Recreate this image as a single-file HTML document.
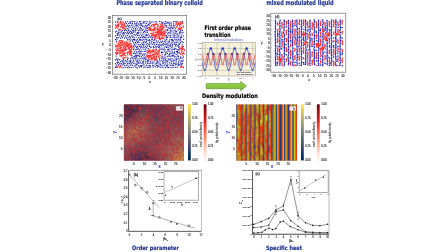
<!DOCTYPE html>
<html><head><meta charset="utf-8"><title>Binary colloid phase transition</title>
<style>
html,body{margin:0;padding:0;background:#fff;width:448px;height:252px;overflow:hidden}
svg{display:block}
text{font-family:"Liberation Sans",Arial,sans-serif}
.t{font-family:"DejaVu Sans Condensed","DejaVu Sans","Liberation Sans",sans-serif;font-stretch:condensed}
</style></head><body>
<svg width="448" height="252" viewBox="0 0 448 252">
<text x="116.4" y="4.6" class="t" font-size="6.7" font-weight="bold" fill="#24368f" stroke="#24368f" stroke-width="0.18" textLength="86.3" lengthAdjust="spacingAndGlyphs">Phase separated binary colloid</text>
<text x="266.5" y="4.6" class="t" font-size="6.7" font-weight="bold" fill="#24368f" stroke="#24368f" stroke-width="0.18" textLength="67.2" lengthAdjust="spacingAndGlyphs">mixed modulated liquid</text>
<text x="204.5" y="29.7" class="t" font-size="6.1" font-weight="bold" fill="#000" stroke="#000" stroke-width="0.18" textLength="46.5" lengthAdjust="spacingAndGlyphs">First order phase</text>
<text x="204.5" y="37.2" class="t" font-size="6.1" font-weight="bold" fill="#000" stroke="#000" stroke-width="0.18" textLength="26" lengthAdjust="spacingAndGlyphs">transition</text>
<text x="202.1" y="98.4" class="t" font-size="6.1" font-weight="bold" fill="#000" stroke="#000" stroke-width="0.18" textLength="55.7" lengthAdjust="spacingAndGlyphs">Density modulation</text>
<text x="132.1" y="250" class="t" font-size="6.0" font-weight="bold" fill="#24368f" stroke="#24368f" stroke-width="0.18" textLength="46.8" lengthAdjust="spacingAndGlyphs">Order parameter</text>
<text x="266" y="249.6" class="t" font-size="5.9" font-weight="bold" fill="#24368f" stroke="#24368f" stroke-width="0.18" textLength="36" lengthAdjust="spacingAndGlyphs">Specific heat</text>
<rect x="112.4" y="15.4" width="74.3" height="58.8" fill="#fff" stroke="#5a5a5a" stroke-width="0.6"/>
<text x="111" y="18.5" font-size="3.0" fill="#333" stroke="#333" stroke-width="0.12" text-anchor="end" >30</text>
<text x="111" y="23.13" font-size="3.0" fill="#333" stroke="#333" stroke-width="0.12" text-anchor="end" >25</text>
<text x="111" y="27.75" font-size="3.0" fill="#333" stroke="#333" stroke-width="0.12" text-anchor="end" >20</text>
<text x="111" y="32.38" font-size="3.0" fill="#333" stroke="#333" stroke-width="0.12" text-anchor="end" >15</text>
<text x="111" y="37" font-size="3.0" fill="#333" stroke="#333" stroke-width="0.12" text-anchor="end" >10</text>
<text x="111" y="41.62" font-size="3.0" fill="#333" stroke="#333" stroke-width="0.12" text-anchor="end" >5</text>
<text x="111" y="46.25" font-size="3.0" fill="#333" stroke="#333" stroke-width="0.12" text-anchor="end" >0</text>
<text x="111" y="50.88" font-size="3.0" fill="#333" stroke="#333" stroke-width="0.12" text-anchor="end" >−5</text>
<text x="111" y="55.5" font-size="3.0" fill="#333" stroke="#333" stroke-width="0.12" text-anchor="end" >−10</text>
<text x="111" y="60.12" font-size="3.0" fill="#333" stroke="#333" stroke-width="0.12" text-anchor="end" >−15</text>
<text x="111" y="64.75" font-size="3.0" fill="#333" stroke="#333" stroke-width="0.12" text-anchor="end" >−20</text>
<text x="111" y="69.38" font-size="3.0" fill="#333" stroke="#333" stroke-width="0.12" text-anchor="end" >−25</text>
<text x="111" y="74" font-size="3.0" fill="#333" stroke="#333" stroke-width="0.12" text-anchor="end" >−30</text>
<text x="114.89" y="78.9" font-size="3.0" fill="#333" stroke="#333" stroke-width="0.12" text-anchor="middle" >−30</text>
<text x="120.63" y="78.9" font-size="3.0" fill="#333" stroke="#333" stroke-width="0.12" text-anchor="middle" >−25</text>
<text x="126.36" y="78.9" font-size="3.0" fill="#333" stroke="#333" stroke-width="0.12" text-anchor="middle" >−20</text>
<text x="132.09" y="78.9" font-size="3.0" fill="#333" stroke="#333" stroke-width="0.12" text-anchor="middle" >−15</text>
<text x="137.83" y="78.9" font-size="3.0" fill="#333" stroke="#333" stroke-width="0.12" text-anchor="middle" >−10</text>
<text x="143.56" y="78.9" font-size="3.0" fill="#333" stroke="#333" stroke-width="0.12" text-anchor="middle" >−5</text>
<text x="149.3" y="78.9" font-size="3.0" fill="#333" stroke="#333" stroke-width="0.12" text-anchor="middle" >0</text>
<text x="155.04" y="78.9" font-size="3.0" fill="#333" stroke="#333" stroke-width="0.12" text-anchor="middle" >5</text>
<text x="160.77" y="78.9" font-size="3.0" fill="#333" stroke="#333" stroke-width="0.12" text-anchor="middle" >10</text>
<text x="166.51" y="78.9" font-size="3.0" fill="#333" stroke="#333" stroke-width="0.12" text-anchor="middle" >15</text>
<text x="172.24" y="78.9" font-size="3.0" fill="#333" stroke="#333" stroke-width="0.12" text-anchor="middle" >20</text>
<text x="177.98" y="78.9" font-size="3.0" fill="#333" stroke="#333" stroke-width="0.12" text-anchor="middle" >25</text>
<text x="183.71" y="78.9" font-size="3.0" fill="#333" stroke="#333" stroke-width="0.12" text-anchor="middle" >30</text>
<path d="M112.4 17.5h0.9M112.4 22.1h0.9M112.4 26.7h0.9M112.4 31.3h0.9M112.4 36.0h0.9M112.4 40.6h0.9M112.4 45.2h0.9M112.4 49.8h0.9M112.4 54.5h0.9M112.4 59.1h0.9M112.4 63.7h0.9M112.4 68.3h0.9M112.4 73.0h0.9M114.9 74.2v-0.9M120.6 74.2v-0.9M126.4 74.2v-0.9M132.1 74.2v-0.9M137.8 74.2v-0.9M143.6 74.2v-0.9M149.3 74.2v-0.9M155.0 74.2v-0.9M160.8 74.2v-0.9M166.5 74.2v-0.9M172.2 74.2v-0.9M178.0 74.2v-0.9M183.7 74.2v-0.9" stroke="#444" stroke-width="0.35"/>
<text x="149.8" y="83" font-size="3.4" fill="#333" stroke="#333" stroke-width="0.12" text-anchor="middle" >x</text>
<text x="102.9" y="45.2" font-size="3.4" fill="#333" stroke="#333" stroke-width="0.12" text-anchor="middle" >y</text>
<text x="117.4" y="19.6" font-size="3.4" fill="#333" stroke="#333" stroke-width="0.18" text-anchor="start" >(a)</text>
<path stroke="#1e22a8" stroke-width="1.40" stroke-linecap="round" fill="none" d="M115.6 22.0h0M117.5 21.6h0M125.6 22.0h0M127.5 21.6h0M129.5 22.1h0M131.0 21.8h0M132.8 21.5h0M134.8 21.8h0M137.0 22.0h0M139.4 21.8h0M140.6 21.7h0M143.3 21.9h0M144.8 21.8h0M147.0 21.7h0M149.6 21.7h0M151.2 22.2h0M153.0 21.9h0M155.2 21.9h0M156.8 21.9h0M159.6 21.4h0M161.4 21.9h0M162.9 22.5h0M165.3 21.5h0M167.1 22.1h0M169.0 22.1h0M171.0 22.1h0M173.5 21.7h0M175.1 21.8h0M177.0 21.5h0M182.5 21.7h0M126.4 23.6h0M128.6 23.6h0M130.4 23.3h0M132.4 23.5h0M134.8 23.8h0M136.4 23.8h0M138.3 24.0h0M140.3 23.8h0M141.9 23.7h0M143.8 23.0h0M146.2 23.4h0M148.3 24.3h0M150.0 23.5h0M162.2 23.4h0M164.4 23.7h0M166.1 23.5h0M168.0 23.0h0M169.7 23.8h0M171.4 23.9h0M173.5 23.9h0M115.6 25.1h0M127.3 25.3h0M129.3 25.4h0M131.3 25.3h0M133.0 25.1h0M135.9 25.2h0M137.1 25.5h0M139.8 24.9h0M141.3 25.2h0M142.8 25.6h0M145.3 25.4h0M147.1 25.5h0M149.1 25.3h0M165.2 25.2h0M166.7 25.7h0M169.3 25.3h0M171.2 25.6h0M173.3 25.7h0M174.9 25.8h0M126.2 26.7h0M128.4 26.8h0M130.0 27.3h0M132.4 27.2h0M134.1 26.9h0M136.1 26.9h0M138.4 26.9h0M140.5 27.2h0M142.9 26.7h0M144.6 27.1h0M146.3 26.7h0M148.1 27.4h0M166.1 27.1h0M168.1 27.4h0M170.2 27.2h0M171.7 27.3h0M173.8 27.5h0M115.7 28.1h0M125.5 29.3h0M127.3 28.8h0M128.9 29.3h0M131.7 29.1h0M133.6 28.9h0M135.5 28.8h0M137.3 28.9h0M139.8 29.0h0M141.3 28.7h0M143.1 29.4h0M145.5 28.9h0M147.2 28.5h0M167.2 29.5h0M169.0 28.8h0M170.7 29.0h0M172.6 28.5h0M175.4 28.6h0M116.6 31.1h0M118.9 30.3h0M122.6 30.6h0M124.6 30.7h0M126.4 30.6h0M128.5 30.6h0M130.6 31.2h0M132.6 30.6h0M133.9 30.7h0M135.8 30.2h0M138.6 30.8h0M140.3 30.1h0M142.2 30.4h0M144.5 31.3h0M146.4 30.4h0M147.9 30.6h0M167.6 30.4h0M170.1 30.7h0M171.9 30.9h0M174.1 30.2h0M175.7 30.9h0M178.1 30.0h0M180.4 30.8h0M182.3 30.5h0M115.5 32.0h0M118.3 32.3h0M120.0 32.2h0M121.6 31.9h0M123.4 32.6h0M125.1 32.7h0M127.6 32.0h0M129.3 32.2h0M131.4 32.2h0M133.2 32.3h0M135.1 32.0h0M137.4 32.6h0M138.9 32.4h0M141.1 32.1h0M143.6 32.2h0M145.7 32.1h0M147.4 32.3h0M166.8 32.1h0M168.7 32.5h0M170.8 32.1h0M173.2 32.1h0M175.1 32.1h0M176.6 31.8h0M179.5 32.3h0M181.0 32.3h0M183.0 32.4h0M117.2 33.8h0M118.1 33.8h0M120.1 34.3h0M122.8 33.8h0M124.1 34.0h0M126.9 33.3h0M128.6 33.8h0M130.8 33.8h0M132.3 33.6h0M134.1 34.5h0M136.6 34.0h0M138.1 33.5h0M140.2 34.1h0M142.3 34.1h0M144.0 34.1h0M146.3 34.5h0M148.8 34.1h0M167.7 33.9h0M170.0 33.5h0M172.1 34.1h0M174.0 34.0h0M175.9 33.8h0M177.9 33.9h0M180.0 33.7h0M182.0 34.1h0M115.6 35.7h0M117.7 35.3h0M119.7 35.9h0M121.6 36.0h0M123.3 35.8h0M125.7 36.0h0M127.5 35.4h0M129.6 36.2h0M131.7 35.9h0M133.0 36.1h0M135.4 35.1h0M137.5 35.4h0M139.0 35.6h0M141.7 35.7h0M143.4 36.4h0M145.8 35.8h0M147.2 35.5h0M149.1 36.0h0M151.4 35.9h0M166.6 35.7h0M168.9 35.6h0M170.4 35.7h0M173.3 36.0h0M174.8 35.8h0M177.2 35.0h0M178.9 36.0h0M181.1 36.3h0M183.3 35.9h0M116.7 37.8h0M118.4 37.6h0M120.8 38.2h0M122.5 37.6h0M124.6 38.0h0M126.5 38.0h0M128.2 37.5h0M130.4 37.8h0M132.7 37.1h0M134.1 37.7h0M136.2 37.1h0M138.7 37.7h0M140.5 37.4h0M142.6 37.5h0M144.6 37.3h0M146.0 37.6h0M148.1 37.8h0M150.3 37.3h0M152.3 37.5h0M166.2 37.3h0M167.6 37.2h0M170.2 37.4h0M172.0 37.6h0M174.2 37.5h0M176.1 37.3h0M177.9 37.3h0M180.3 37.6h0M181.7 37.5h0M115.5 39.5h0M117.1 39.0h0M127.8 39.5h0M129.7 39.2h0M132.0 39.8h0M133.6 39.5h0M134.8 39.5h0M137.3 39.5h0M139.6 39.2h0M140.8 39.4h0M143.1 39.2h0M145.1 39.2h0M146.6 39.7h0M149.3 39.7h0M151.8 39.3h0M152.7 39.1h0M154.8 39.2h0M164.9 39.1h0M166.6 39.3h0M169.6 39.9h0M171.4 39.5h0M172.8 39.8h0M175.0 39.3h0M176.9 39.4h0M178.8 39.3h0M180.6 39.2h0M183.6 39.3h0M116.5 41.2h0M130.2 40.9h0M132.6 41.2h0M134.8 40.6h0M136.6 41.0h0M138.2 41.2h0M140.1 40.4h0M142.2 40.6h0M144.1 41.2h0M146.4 41.5h0M148.2 40.6h0M150.0 40.8h0M151.9 41.2h0M154.0 40.5h0M156.4 41.0h0M158.3 41.1h0M160.3 41.1h0M162.5 41.2h0M164.2 41.2h0M165.7 41.0h0M168.0 41.1h0M169.6 41.6h0M172.1 40.7h0M173.5 41.0h0M176.0 40.9h0M178.0 40.9h0M180.1 40.8h0M181.9 41.4h0M133.7 43.0h0M135.4 42.5h0M137.6 42.6h0M139.0 42.6h0M141.8 42.9h0M143.7 42.7h0M145.6 42.6h0M147.2 43.6h0M149.5 42.7h0M151.2 42.9h0M153.6 42.7h0M154.7 42.7h0M157.2 42.8h0M159.6 42.9h0M161.4 42.5h0M163.4 43.4h0M165.3 42.9h0M167.1 43.3h0M168.8 42.8h0M171.2 43.0h0M172.9 42.9h0M174.9 42.8h0M176.9 42.5h0M179.0 43.1h0M180.6 42.7h0M183.1 42.5h0M134.4 44.7h0M136.2 43.9h0M138.6 44.8h0M140.4 44.6h0M142.6 44.4h0M144.1 44.5h0M146.6 44.1h0M148.6 44.4h0M149.9 44.9h0M152.2 44.2h0M154.1 44.8h0M156.5 44.4h0M158.3 44.8h0M160.0 44.7h0M162.1 44.4h0M164.0 44.6h0M166.1 44.4h0M167.9 44.9h0M170.1 44.8h0M172.4 44.7h0M174.7 44.3h0M176.2 44.5h0M178.5 45.1h0M179.4 44.3h0M182.1 44.8h0M133.7 46.3h0M135.7 46.3h0M137.4 46.5h0M139.7 46.2h0M141.3 46.2h0M143.3 46.0h0M145.6 46.2h0M147.4 46.0h0M149.4 46.4h0M151.1 46.9h0M153.3 46.8h0M155.5 46.1h0M157.1 46.4h0M159.2 46.3h0M161.1 45.8h0M163.1 45.6h0M165.2 46.1h0M166.9 46.2h0M169.1 45.9h0M170.5 46.0h0M172.4 46.0h0M175.5 46.0h0M177.2 45.9h0M179.0 46.2h0M183.4 46.4h0M134.1 47.9h0M136.7 47.8h0M138.2 48.3h0M140.6 47.9h0M142.0 47.6h0M144.1 47.4h0M146.5 47.8h0M148.4 48.6h0M150.6 47.7h0M154.0 47.8h0M156.2 47.6h0M158.6 47.3h0M159.8 48.0h0M162.1 48.1h0M164.2 48.0h0M166.4 47.4h0M168.1 47.8h0M170.1 48.1h0M171.8 47.8h0M174.2 48.1h0M175.8 48.6h0M178.7 47.6h0M133.6 49.5h0M135.8 49.8h0M137.2 49.6h0M139.2 49.8h0M141.1 50.1h0M143.1 49.1h0M145.1 49.2h0M147.3 50.1h0M159.3 50.0h0M161.0 49.5h0M163.1 49.5h0M165.1 49.8h0M167.8 49.5h0M169.0 49.7h0M171.2 50.1h0M172.9 49.5h0M174.5 49.5h0M177.1 49.8h0M178.7 49.7h0M134.3 51.8h0M136.7 51.9h0M138.8 51.5h0M140.3 51.8h0M141.9 51.6h0M144.2 51.4h0M145.8 51.3h0M161.8 51.9h0M164.2 51.1h0M166.3 51.9h0M168.0 51.3h0M169.9 51.6h0M172.2 51.9h0M174.4 51.9h0M176.4 51.7h0M177.5 51.5h0M133.5 53.4h0M135.2 53.5h0M137.2 53.0h0M139.4 53.5h0M141.1 53.4h0M143.3 54.1h0M145.1 53.7h0M161.2 52.8h0M162.8 52.8h0M165.6 53.0h0M167.4 53.4h0M169.6 53.6h0M171.0 53.2h0M173.0 53.3h0M174.8 53.3h0M177.5 52.8h0M179.0 53.0h0M131.9 55.3h0M135.2 55.2h0M136.8 55.2h0M138.1 55.4h0M140.0 54.9h0M142.4 55.3h0M144.4 55.1h0M162.1 54.9h0M164.6 54.9h0M165.7 54.6h0M168.2 55.1h0M169.6 54.7h0M172.2 55.2h0M173.8 55.2h0M176.2 54.5h0M177.9 55.1h0M116.1 56.1h0M131.9 57.2h0M133.9 56.7h0M135.0 56.7h0M136.7 56.2h0M139.4 56.5h0M141.3 56.7h0M143.9 57.1h0M145.3 57.1h0M161.8 56.9h0M162.9 57.0h0M165.0 57.0h0M167.2 56.8h0M169.2 56.6h0M170.9 56.2h0M172.9 56.3h0M175.0 56.5h0M177.0 56.9h0M178.5 56.5h0M180.7 57.0h0M183.4 57.0h0M116.5 58.9h0M118.1 58.9h0M123.3 59.0h0M128.0 58.3h0M130.6 58.6h0M132.8 58.5h0M135.1 58.3h0M136.5 57.9h0M138.0 58.9h0M140.1 58.6h0M142.3 58.2h0M144.2 58.3h0M146.1 58.7h0M159.8 58.4h0M162.0 58.7h0M164.0 58.4h0M165.7 59.0h0M168.2 59.0h0M170.3 58.9h0M172.0 58.7h0M174.8 58.1h0M176.3 59.0h0M178.1 58.7h0M180.3 58.3h0M182.1 58.2h0M115.4 60.0h0M117.5 60.3h0M119.7 59.8h0M122.1 60.6h0M123.7 60.1h0M125.5 60.4h0M127.6 59.7h0M129.7 61.1h0M130.9 60.5h0M133.5 60.2h0M135.8 59.9h0M137.4 60.7h0M139.3 60.1h0M141.4 60.1h0M143.8 60.0h0M145.6 59.8h0M147.5 60.2h0M148.5 60.2h0M157.2 60.7h0M159.3 60.0h0M161.1 60.6h0M163.4 60.2h0M165.1 60.2h0M166.9 60.8h0M169.1 59.9h0M170.9 60.5h0M173.2 60.2h0M174.8 60.2h0M176.5 59.8h0M179.2 60.1h0M181.1 60.6h0M183.1 60.2h0M117.2 62.2h0M118.5 62.2h0M120.7 61.7h0M122.6 61.9h0M123.9 61.9h0M126.4 61.8h0M128.0 61.9h0M130.4 62.0h0M132.1 62.2h0M134.0 61.9h0M136.8 61.8h0M138.2 62.3h0M140.2 61.9h0M142.4 62.3h0M143.6 61.7h0M146.0 61.6h0M148.0 61.7h0M150.3 61.7h0M152.3 62.1h0M154.0 62.0h0M156.7 62.1h0M158.0 62.0h0M159.9 62.1h0M162.4 61.7h0M164.0 62.3h0M165.9 62.0h0M167.8 61.7h0M169.9 62.6h0M171.9 61.8h0M173.8 61.9h0M176.2 62.0h0M178.6 62.0h0M180.4 62.1h0M182.1 61.5h0M115.6 63.7h0M117.5 63.1h0M119.8 63.6h0M121.4 63.6h0M123.5 63.8h0M125.1 63.4h0M127.6 63.8h0M129.3 63.5h0M131.2 63.7h0M133.8 63.4h0M135.9 64.0h0M137.2 64.0h0M138.9 63.2h0M141.0 63.6h0M143.2 63.6h0M145.3 63.1h0M147.4 63.3h0M149.1 63.6h0M150.9 63.3h0M152.9 63.7h0M155.4 63.9h0M156.9 63.5h0M158.9 63.9h0M160.5 64.1h0M163.0 63.5h0M165.2 64.0h0M167.2 64.0h0M169.1 64.1h0M171.4 63.7h0M173.5 63.8h0M175.0 63.4h0M176.9 64.0h0M178.6 63.9h0M181.0 63.8h0M182.3 63.7h0M116.8 65.2h0M118.6 64.7h0M120.8 65.3h0M122.8 64.9h0M124.7 65.4h0M126.7 65.2h0M128.3 66.1h0M130.2 65.2h0M132.3 65.2h0M134.8 66.0h0M136.2 64.9h0M138.7 65.8h0M140.6 65.8h0M142.1 65.4h0M143.9 65.0h0M146.6 65.3h0M149.0 65.5h0M150.1 65.7h0M152.8 65.6h0M153.8 65.6h0M156.6 65.3h0M157.9 65.8h0M160.2 65.1h0M162.0 65.2h0M164.2 65.5h0M166.4 65.7h0M167.6 65.6h0M170.3 65.6h0M172.3 65.3h0M173.7 65.7h0M175.7 64.8h0M178.3 65.2h0M179.9 65.0h0M181.5 65.1h0M115.5 67.3h0M116.9 67.4h0M123.1 67.8h0M125.2 67.3h0M127.5 67.6h0M129.3 67.5h0M131.2 67.5h0M133.2 67.1h0M136.0 67.3h0M137.4 67.9h0M139.5 67.0h0M141.6 66.8h0M143.7 67.6h0M145.1 67.0h0M147.3 67.2h0M149.0 67.4h0M150.6 67.1h0M153.1 67.1h0M155.3 66.8h0M157.4 67.1h0M159.0 66.8h0M160.8 67.3h0M162.8 67.2h0M165.4 67.5h0M167.5 67.1h0M168.7 67.5h0M171.1 67.5h0M173.0 67.6h0M175.3 67.4h0M177.1 67.3h0M183.4 67.2h0"/>
<path stroke="#f83c3c" stroke-width="1.40" stroke-linecap="round" fill="none" d="M118.0 22.8h0M125.0 28.1h0M120.8 22.5h0M118.0 22.5h0M118.1 28.1h0M117.5 24.7h0M123.2 22.0h0M124.7 24.0h0M121.2 24.7h0M121.0 22.7h0M118.4 26.3h0M125.3 26.7h0M118.4 26.0h0M120.4 29.9h0M121.2 29.9h0M118.5 25.0h0M123.9 23.3h0M121.0 30.0h0M118.2 22.9h0M121.5 23.0h0M116.4 26.4h0M124.3 28.9h0M121.2 24.0h0M118.7 24.5h0M123.1 28.3h0M120.8 21.9h0M120.9 27.5h0M124.7 23.7h0M116.4 25.8h0M118.2 26.7h0M118.9 25.8h0M122.2 27.6h0M123.8 26.9h0M119.9 22.9h0M124.9 25.2h0M117.9 22.6h0M116.6 27.3h0M120.1 29.7h0M124.5 25.4h0M117.2 25.7h0M119.3 29.5h0M125.4 26.3h0M122.1 27.8h0M123.3 25.0h0M120.8 26.5h0M119.9 22.5h0M117.8 28.4h0M122.4 24.1h0M122.6 26.4h0M118.6 25.9h0M120.4 21.5h0M117.4 25.4h0M118.1 23.1h0M123.4 27.2h0M121.4 23.8h0M122.1 22.4h0M121.8 25.2h0M123.7 24.6h0M117.4 24.8h0M117.9 22.9h0M123.2 28.9h0M153.1 33.8h0M158.8 31.1h0M156.7 34.4h0M162.6 33.8h0M158.2 29.8h0M152.4 29.6h0M158.2 32.7h0M158.5 25.7h0M158.1 28.7h0M149.2 27.4h0M157.7 33.7h0M155.6 32.3h0M165.1 29.9h0M153.4 24.7h0M158.3 30.2h0M153.8 24.8h0M160.3 27.0h0M153.7 31.1h0M155.4 28.0h0M158.3 31.6h0M149.7 29.8h0M156.5 24.5h0M159.4 34.7h0M162.6 33.5h0M153.0 30.9h0M159.5 31.2h0M156.8 24.5h0M153.2 32.4h0M153.3 29.4h0M163.2 27.8h0M158.7 29.1h0M152.3 35.2h0M160.5 24.8h0M155.5 35.0h0M162.1 26.2h0M154.4 30.1h0M157.9 29.0h0M164.5 31.5h0M154.5 24.5h0M154.2 29.4h0M153.5 34.5h0M163.2 29.1h0M150.3 29.7h0M158.8 31.0h0M156.8 23.7h0M150.3 27.0h0M150.8 28.8h0M153.6 34.8h0M151.2 30.7h0M158.7 35.0h0M158.4 30.4h0M159.5 27.6h0M157.2 24.2h0M161.8 32.4h0M161.0 26.4h0M153.1 26.3h0M160.3 33.1h0M150.4 30.3h0M156.9 33.7h0M154.2 34.8h0M156.8 34.8h0M151.9 33.9h0M162.5 27.8h0M156.6 24.2h0M159.9 26.6h0M162.5 29.5h0M152.8 24.5h0M149.7 28.2h0M162.4 33.8h0M159.9 23.6h0M157.4 32.3h0M157.7 24.8h0M160.4 29.2h0M162.3 29.7h0M149.8 30.3h0M161.5 32.1h0M155.4 28.4h0M163.5 26.6h0M162.0 28.3h0M161.6 28.5h0M161.8 35.0h0M154.9 23.9h0M161.1 25.1h0M150.9 29.6h0M160.7 26.8h0M161.6 35.1h0M156.0 35.5h0M158.4 32.5h0M156.0 34.7h0M160.6 31.7h0M157.9 26.1h0M155.9 29.9h0M163.6 31.4h0M161.1 27.8h0M162.3 24.5h0M157.5 27.1h0M160.0 33.7h0M162.5 27.7h0M150.9 33.7h0M159.0 28.8h0M148.7 29.3h0M153.3 28.9h0M150.1 30.4h0M157.3 33.7h0M161.7 30.9h0M161.4 28.8h0M157.1 29.2h0M150.9 33.1h0M158.4 34.8h0M155.4 24.6h0M149.8 30.1h0M162.9 25.0h0M154.5 25.3h0M161.4 28.6h0M162.7 26.5h0M161.8 29.4h0M154.5 29.4h0M158.3 31.8h0M164.1 32.1h0M159.1 33.6h0M164.1 32.8h0M160.3 26.8h0M155.1 24.6h0M165.7 30.8h0M157.0 24.4h0M155.5 24.2h0M159.2 30.7h0M151.4 26.1h0M161.6 30.0h0M162.5 32.4h0M153.2 34.6h0M163.6 33.2h0M162.1 32.5h0M150.1 27.7h0M161.3 29.1h0M153.5 34.5h0M151.4 34.0h0M154.8 35.9h0M165.1 32.3h0M155.3 35.3h0M153.5 26.6h0M157.5 31.2h0M157.0 27.7h0M153.2 29.8h0M157.6 33.6h0M148.9 29.5h0M155.2 24.7h0M156.6 35.8h0M154.8 30.2h0M160.7 30.1h0M151.4 25.3h0M160.8 33.0h0M149.9 28.6h0M160.8 29.5h0M164.7 27.0h0M149.5 28.6h0M154.5 26.9h0M154.7 28.1h0M159.4 29.9h0M156.5 38.6h0M160.5 31.9h0M155.1 32.8h0M156.3 32.1h0M164.5 32.9h0M159.4 36.4h0M159.4 38.2h0M161.4 34.2h0M159.9 36.1h0M160.4 39.3h0M162.7 35.0h0M154.1 36.7h0M159.2 37.1h0M161.1 31.3h0M159.0 34.4h0M158.8 32.8h0M161.9 37.2h0M159.2 36.1h0M164.2 32.9h0M159.4 31.9h0M157.8 37.0h0M165.6 35.1h0M160.2 32.6h0M165.8 35.4h0M157.5 33.5h0M155.5 36.1h0M158.7 38.4h0M159.6 34.9h0M162.4 32.4h0M159.7 37.2h0M164.1 34.2h0M160.9 38.4h0M164.3 34.6h0M164.4 33.1h0M159.2 38.3h0M160.9 31.5h0M154.8 38.1h0M159.7 37.8h0M164.8 33.5h0M162.3 33.6h0M155.7 36.4h0M160.4 38.8h0M159.1 37.8h0M156.2 35.3h0M159.9 34.1h0M156.9 36.1h0M162.9 38.2h0M155.7 34.4h0M163.3 33.5h0M163.7 38.2h0M153.9 34.3h0M162.4 38.6h0M158.1 32.6h0M161.5 31.8h0M161.0 33.7h0M157.1 32.6h0M154.5 37.8h0M164.1 32.6h0M155.2 38.2h0M161.7 38.3h0M163.9 33.1h0M159.4 33.7h0M164.8 36.3h0M153.3 36.1h0M162.8 35.9h0M156.5 38.8h0M161.1 38.5h0M155.5 37.6h0M156.6 32.1h0M159.5 39.2h0M160.7 34.7h0M155.6 32.2h0M157.8 31.4h0M155.1 37.2h0M155.6 35.7h0M156.7 36.4h0M164.0 36.1h0M158.6 38.2h0M161.5 32.3h0M156.9 32.5h0M179.5 28.7h0M181.1 23.6h0M181.4 29.1h0M180.0 25.5h0M176.5 23.3h0M176.4 23.6h0M179.8 29.4h0M178.2 23.3h0M179.2 23.8h0M179.1 23.6h0M176.2 27.2h0M176.7 22.7h0M183.3 26.0h0M179.3 24.3h0M176.7 22.8h0M183.4 27.0h0M182.5 23.0h0M176.5 27.0h0M179.7 29.0h0M178.4 22.5h0M179.4 28.5h0M179.7 25.8h0M180.5 29.2h0M179.6 26.7h0M176.9 24.1h0M182.1 22.6h0M182.8 23.0h0M181.4 27.7h0M180.2 29.5h0M179.3 28.7h0M180.8 29.0h0M180.1 28.1h0M176.7 23.1h0M178.3 28.5h0M180.7 24.3h0M179.2 22.1h0M175.6 24.1h0M178.2 24.5h0M177.3 25.4h0M176.9 24.5h0M181.1 22.0h0M180.7 23.2h0M180.2 21.9h0M182.2 23.8h0M182.0 27.3h0M178.4 23.9h0M177.3 26.7h0M180.6 28.0h0M126.3 49.7h0M120.2 55.7h0M129.2 46.3h0M126.3 41.9h0M131.2 46.4h0M121.8 50.4h0M127.1 57.2h0M125.4 47.4h0M117.8 48.5h0M125.3 57.7h0M116.5 54.4h0M124.1 53.5h0M117.2 50.2h0M131.7 51.6h0M124.7 50.4h0M125.0 41.6h0M118.8 44.5h0M130.8 49.7h0M128.1 48.7h0M128.5 47.0h0M124.7 55.3h0M123.7 49.3h0M118.8 50.8h0M117.8 46.9h0M129.7 50.1h0M128.2 47.7h0M123.4 47.3h0M121.9 42.5h0M120.0 52.7h0M129.1 45.2h0M128.1 51.6h0M124.9 47.6h0M127.3 52.4h0M127.5 42.8h0M127.7 54.7h0M123.0 54.8h0M124.7 48.5h0M127.7 53.6h0M132.1 48.0h0M123.4 57.3h0M119.7 48.2h0M128.6 43.8h0M131.2 43.9h0M119.0 46.0h0M120.4 48.4h0M125.5 50.4h0M122.6 51.9h0M122.2 43.8h0M125.5 50.5h0M120.2 42.1h0M122.2 41.0h0M116.6 46.3h0M130.4 52.8h0M123.4 44.5h0M119.7 48.0h0M119.4 50.8h0M119.2 41.5h0M122.7 55.0h0M119.1 41.8h0M127.7 44.2h0M131.1 47.8h0M129.6 44.3h0M121.9 42.0h0M130.6 53.4h0M118.7 44.8h0M124.1 46.6h0M130.7 45.7h0M118.2 49.9h0M116.2 53.5h0M116.3 52.9h0M122.7 54.2h0M119.8 50.6h0M125.3 45.5h0M131.0 54.1h0M125.7 48.9h0M131.5 52.9h0M121.1 56.1h0M123.7 53.0h0M131.1 49.7h0M115.9 45.2h0M124.7 53.2h0M118.5 43.3h0M121.0 53.4h0M128.8 45.4h0M127.2 43.0h0M116.9 45.9h0M120.9 42.8h0M122.6 42.3h0M121.9 52.4h0M116.9 54.2h0M131.3 45.5h0M129.2 53.1h0M119.6 41.7h0M126.8 45.0h0M129.5 51.1h0M123.9 51.2h0M126.4 42.1h0M126.4 49.2h0M117.6 52.8h0M126.2 43.2h0M132.1 47.0h0M131.6 49.0h0M120.6 46.9h0M131.4 53.3h0M118.4 52.9h0M122.9 54.8h0M123.9 53.7h0M120.8 47.8h0M122.2 42.7h0M130.6 46.6h0M127.5 45.1h0M120.6 43.9h0M117.1 53.9h0M119.5 44.2h0M120.6 48.2h0M124.0 51.7h0M130.7 47.5h0M123.0 58.2h0M120.1 48.4h0M119.2 53.1h0M121.6 40.8h0M118.7 43.9h0M120.5 42.4h0M131.9 45.8h0M129.3 41.6h0M120.8 49.7h0M121.4 56.8h0M130.3 51.3h0M120.3 51.3h0M121.5 49.9h0M126.4 45.4h0M119.8 52.4h0M116.0 45.7h0M124.0 50.9h0M125.8 55.8h0M120.4 45.5h0M122.8 55.4h0M119.1 43.6h0M123.3 50.6h0M127.3 45.2h0M122.4 50.5h0M122.2 44.9h0M131.3 51.8h0M120.8 40.6h0M127.3 46.6h0M124.8 43.9h0M121.2 49.5h0M128.8 44.8h0M115.6 46.3h0M121.7 49.7h0M129.2 48.6h0M117.4 53.2h0M124.2 43.2h0M124.8 46.1h0M116.8 51.8h0M117.5 53.5h0M120.6 50.6h0M125.4 49.9h0M126.3 43.3h0M119.5 48.8h0M127.8 40.6h0M119.7 40.8h0M117.5 45.3h0M116.7 50.4h0M124.0 54.4h0M122.0 50.6h0M116.0 46.1h0M125.0 45.3h0M125.3 48.0h0M116.7 46.2h0M126.3 43.4h0M124.3 48.9h0M121.7 55.3h0M118.0 47.4h0M125.5 48.6h0M129.7 53.3h0M115.9 47.1h0M123.0 41.0h0M130.3 55.1h0M120.7 51.8h0M127.9 45.3h0M129.6 51.6h0M115.9 48.9h0M131.5 51.2h0M130.2 43.3h0M122.8 48.9h0M120.5 48.2h0M125.7 47.0h0M121.7 45.3h0M120.4 55.7h0M127.2 46.6h0M123.6 50.7h0M119.1 46.1h0M127.8 52.5h0M122.5 41.8h0M116.0 49.3h0M128.6 49.1h0M119.0 43.8h0M129.4 47.2h0M125.2 44.9h0M129.8 44.1h0M124.3 57.8h0M116.4 54.0h0M130.8 46.5h0M117.5 45.2h0M121.6 47.4h0M120.2 51.8h0M129.1 47.8h0M122.5 41.4h0M122.3 52.5h0M129.8 54.8h0M115.6 52.8h0M117.9 48.3h0M117.6 50.0h0M121.8 43.0h0M126.0 53.1h0M128.7 52.1h0M117.5 49.0h0M129.8 54.1h0M124.7 43.0h0M126.3 44.1h0M131.0 50.9h0M124.2 43.0h0M120.5 42.8h0M119.5 40.5h0M127.4 43.1h0M129.6 49.2h0M119.7 46.0h0M116.7 43.1h0M128.4 48.6h0M124.4 54.7h0M119.8 54.6h0M122.9 45.7h0M131.1 47.4h0M126.4 46.9h0M123.4 57.2h0M119.3 44.1h0M156.6 56.7h0M156.8 59.4h0M148.9 56.2h0M147.2 52.5h0M158.1 54.0h0M152.9 51.0h0M153.7 51.7h0M156.4 49.9h0M154.4 58.8h0M158.3 52.0h0M157.4 55.0h0M156.3 53.5h0M154.0 54.8h0M155.2 53.4h0M151.9 51.1h0M148.0 56.7h0M147.6 55.9h0M151.7 58.8h0M153.2 54.5h0M152.9 57.7h0M149.2 59.0h0M151.9 53.2h0M158.4 56.2h0M150.3 52.3h0M157.2 54.3h0M147.2 54.5h0M160.1 55.9h0M156.4 53.1h0M155.9 58.4h0M152.8 50.0h0M158.8 55.9h0M152.4 55.2h0M154.3 55.0h0M148.2 56.4h0M155.0 53.4h0M156.7 52.1h0M149.5 51.3h0M151.3 51.1h0M153.3 57.6h0M155.4 60.1h0M153.4 50.8h0M150.8 57.2h0M155.3 60.2h0M156.1 52.6h0M151.7 57.4h0M150.6 59.8h0M156.6 49.1h0M154.5 60.1h0M153.6 51.8h0M154.5 60.1h0M153.6 57.4h0M151.2 55.7h0M150.0 51.5h0M154.1 55.9h0M153.2 56.7h0M156.3 53.6h0M156.3 57.5h0M159.2 53.8h0M149.7 50.2h0M149.9 56.7h0M154.9 51.5h0M147.2 55.0h0M149.7 50.0h0M152.8 59.6h0M154.0 57.6h0M155.6 49.1h0M156.5 49.4h0M147.6 56.7h0M156.6 59.2h0M159.0 55.9h0M158.6 50.5h0M153.8 52.1h0M159.7 56.0h0M148.8 56.8h0M157.7 51.5h0M155.0 59.6h0M148.6 52.9h0M154.0 55.1h0M155.4 57.9h0M152.0 51.9h0M146.8 56.2h0M153.9 49.7h0M150.3 50.4h0M153.7 54.4h0M154.7 56.8h0M149.2 52.3h0M151.9 59.7h0M148.7 50.3h0M147.0 55.4h0M155.4 54.7h0M148.4 56.8h0M151.3 58.2h0M150.5 55.0h0M156.3 52.7h0M156.4 54.1h0M148.6 58.4h0M148.0 52.0h0M155.3 50.7h0M155.4 59.9h0M160.1 55.8h0M153.0 54.6h0M150.1 56.2h0M148.7 55.4h0M159.4 51.7h0M152.5 58.1h0M155.3 59.3h0M152.6 50.8h0M153.6 54.1h0M148.9 58.0h0M150.1 53.8h0M155.2 51.6h0M151.6 59.0h0M148.5 51.2h0M151.3 55.7h0M158.2 53.1h0M149.7 55.7h0M147.2 57.3h0M158.8 57.8h0M155.3 58.1h0M147.2 52.7h0M156.3 56.2h0M183.5 52.7h0M181.7 47.8h0M182.8 53.3h0M182.8 53.4h0M184.1 53.5h0M180.8 54.5h0M182.3 47.0h0M182.0 49.3h0M179.5 49.1h0M181.0 54.4h0M182.0 49.0h0M182.7 55.1h0M181.4 52.3h0M180.5 53.8h0M182.7 46.5h0M179.8 48.4h0M184.3 49.8h0M181.5 50.6h0M182.3 49.0h0M181.9 48.7h0M181.1 48.8h0M183.9 48.9h0M179.6 52.7h0M183.0 54.6h0M181.8 49.6h0M181.9 46.5h0M180.6 48.5h0M179.8 49.3h0M183.0 48.7h0M183.4 49.4h0M182.7 47.0h0M184.5 50.6h0M179.2 51.0h0M181.8 48.1h0M180.1 47.6h0M182.4 51.2h0M120.2 66.0h0M117.2 67.2h0M117.0 66.5h0M120.7 66.6h0M117.0 66.6h0M121.0 67.4h0M119.2 67.4h0M118.9 66.0h0M120.9 66.5h0M182.5 66.9h0M180.3 67.0h0M181.7 66.6h0M181.1 67.3h0"/>
<rect x="270.8" y="13.2" width="75" height="59" fill="#fff" stroke="#5a5a5a" stroke-width="0.6"/>
<text x="269.6" y="17.46" font-size="3.0" fill="#333" stroke="#333" stroke-width="0.12" text-anchor="end" >30</text>
<text x="269.6" y="21.95" font-size="3.0" fill="#333" stroke="#333" stroke-width="0.12" text-anchor="end" >25</text>
<text x="269.6" y="26.44" font-size="3.0" fill="#333" stroke="#333" stroke-width="0.12" text-anchor="end" >20</text>
<text x="269.6" y="30.93" font-size="3.0" fill="#333" stroke="#333" stroke-width="0.12" text-anchor="end" >15</text>
<text x="269.6" y="35.42" font-size="3.0" fill="#333" stroke="#333" stroke-width="0.12" text-anchor="end" >10</text>
<text x="269.6" y="39.91" font-size="3.0" fill="#333" stroke="#333" stroke-width="0.12" text-anchor="end" >5</text>
<text x="269.6" y="44.4" font-size="3.0" fill="#333" stroke="#333" stroke-width="0.12" text-anchor="end" >0</text>
<text x="269.6" y="48.89" font-size="3.0" fill="#333" stroke="#333" stroke-width="0.12" text-anchor="end" >−5</text>
<text x="269.6" y="53.38" font-size="3.0" fill="#333" stroke="#333" stroke-width="0.12" text-anchor="end" >−10</text>
<text x="269.6" y="57.87" font-size="3.0" fill="#333" stroke="#333" stroke-width="0.12" text-anchor="end" >−15</text>
<text x="269.6" y="62.36" font-size="3.0" fill="#333" stroke="#333" stroke-width="0.12" text-anchor="end" >−20</text>
<text x="269.6" y="66.85" font-size="3.0" fill="#333" stroke="#333" stroke-width="0.12" text-anchor="end" >−25</text>
<text x="269.6" y="71.34" font-size="3.0" fill="#333" stroke="#333" stroke-width="0.12" text-anchor="end" >−30</text>
<text x="273.39" y="76.9" font-size="3.0" fill="#333" stroke="#333" stroke-width="0.12" text-anchor="middle" >−30</text>
<text x="279.18" y="76.9" font-size="3.0" fill="#333" stroke="#333" stroke-width="0.12" text-anchor="middle" >−25</text>
<text x="284.96" y="76.9" font-size="3.0" fill="#333" stroke="#333" stroke-width="0.12" text-anchor="middle" >−20</text>
<text x="290.75" y="76.9" font-size="3.0" fill="#333" stroke="#333" stroke-width="0.12" text-anchor="middle" >−15</text>
<text x="296.53" y="76.9" font-size="3.0" fill="#333" stroke="#333" stroke-width="0.12" text-anchor="middle" >−10</text>
<text x="302.31" y="76.9" font-size="3.0" fill="#333" stroke="#333" stroke-width="0.12" text-anchor="middle" >−5</text>
<text x="308.1" y="76.9" font-size="3.0" fill="#333" stroke="#333" stroke-width="0.12" text-anchor="middle" >0</text>
<text x="313.89" y="76.9" font-size="3.0" fill="#333" stroke="#333" stroke-width="0.12" text-anchor="middle" >5</text>
<text x="319.67" y="76.9" font-size="3.0" fill="#333" stroke="#333" stroke-width="0.12" text-anchor="middle" >10</text>
<text x="325.46" y="76.9" font-size="3.0" fill="#333" stroke="#333" stroke-width="0.12" text-anchor="middle" >15</text>
<text x="331.24" y="76.9" font-size="3.0" fill="#333" stroke="#333" stroke-width="0.12" text-anchor="middle" >20</text>
<text x="337.03" y="76.9" font-size="3.0" fill="#333" stroke="#333" stroke-width="0.12" text-anchor="middle" >25</text>
<text x="342.81" y="76.9" font-size="3.0" fill="#333" stroke="#333" stroke-width="0.12" text-anchor="middle" >30</text>
<path d="M270.8 16.4h0.9M270.8 20.9h0.9M270.8 25.4h0.9M270.8 29.9h0.9M270.8 34.4h0.9M270.8 38.9h0.9M270.8 43.4h0.9M270.8 47.8h0.9M270.8 52.3h0.9M270.8 56.8h0.9M270.8 61.3h0.9M270.8 65.8h0.9M270.8 70.3h0.9M273.4 72.2v-0.9M279.2 72.2v-0.9M285.0 72.2v-0.9M290.7 72.2v-0.9M296.5 72.2v-0.9M302.3 72.2v-0.9M308.1 72.2v-0.9M313.9 72.2v-0.9M319.7 72.2v-0.9M325.5 72.2v-0.9M331.2 72.2v-0.9M337.0 72.2v-0.9M342.8 72.2v-0.9" stroke="#444" stroke-width="0.35"/>
<text x="309" y="80.6" font-size="3.4" fill="#333" stroke="#333" stroke-width="0.12" text-anchor="middle" >x</text>
<text x="261.8" y="44" font-size="3.4" fill="#333" stroke="#333" stroke-width="0.12" text-anchor="middle" >y</text>
<text x="275.1" y="18" font-size="3.6" fill="#333" stroke="#333" stroke-width="0.2" text-anchor="start" >(d)</text>
<path stroke="#2428bc" stroke-width="1.60" stroke-linecap="round" fill="none" d="M275.4 20.2h0M275.5 21.8h0M275.6 23.4h0M275.6 25.0h0M275.4 26.7h0M275.6 28.3h0M275.6 29.8h0M275.2 31.5h0M275.3 33.0h0M275.2 34.7h0M275.3 36.1h0M275.4 37.8h0M275.5 39.4h0M275.5 40.8h0M275.6 42.4h0M275.5 44.0h0M275.5 45.6h0M275.9 47.1h0M275.6 48.7h0M275.5 50.2h0M275.4 51.9h0M275.6 53.4h0M276.0 54.9h0M275.7 56.2h0M275.4 57.9h0M275.7 59.4h0M275.4 61.0h0M275.8 62.5h0M275.5 64.1h0M275.9 65.5h0M277.7 33.4h0M277.7 34.9h0M277.8 36.4h0M277.9 46.0h0M277.5 53.0h0M277.8 54.5h0M277.6 62.2h0M277.3 63.7h0M280.1 20.4h0M279.8 22.0h0M279.8 23.6h0M280.0 25.2h0M279.9 26.7h0M279.8 28.2h0M280.2 29.8h0M279.8 31.4h0M279.9 32.7h0M279.5 34.2h0M280.0 35.8h0M279.8 37.3h0M280.0 38.8h0M279.8 40.2h0M279.9 41.9h0M279.9 43.5h0M279.9 45.0h0M279.7 46.5h0M280.1 48.1h0M279.6 49.8h0M279.6 51.2h0M280.0 52.9h0M279.7 54.5h0M279.9 55.9h0M279.7 57.5h0M279.9 63.6h0M279.8 65.1h0M282.0 39.6h0M282.1 41.1h0M281.6 48.9h0M282.0 59.7h0M284.2 20.2h0M284.3 21.6h0M284.1 23.1h0M284.1 24.6h0M284.2 26.1h0M284.2 27.5h0M284.0 29.0h0M284.0 30.5h0M283.7 32.2h0M283.9 33.7h0M284.4 35.2h0M284.2 36.7h0M284.5 38.2h0M284.4 39.8h0M284.0 41.3h0M284.2 42.9h0M284.3 44.4h0M284.3 45.9h0M284.3 47.4h0M284.3 48.9h0M284.4 50.4h0M284.4 52.1h0M284.3 53.6h0M284.4 55.0h0M284.2 56.5h0M283.9 58.0h0M284.3 59.5h0M284.1 61.2h0M284.5 62.7h0M284.6 64.2h0M284.0 65.7h0M286.5 26.7h0M286.0 44.7h0M286.4 54.8h0M288.6 20.5h0M288.3 22.1h0M288.6 23.6h0M288.8 25.3h0M288.6 27.0h0M288.7 28.6h0M288.5 30.1h0M288.7 31.6h0M288.6 33.1h0M288.7 34.5h0M288.7 36.0h0M288.4 37.4h0M288.4 39.0h0M288.4 40.6h0M288.6 41.9h0M288.3 43.5h0M288.4 45.1h0M288.5 46.6h0M288.9 48.1h0M288.6 49.5h0M288.1 51.1h0M288.6 52.6h0M288.6 54.1h0M288.4 55.7h0M288.0 57.2h0M288.3 58.7h0M288.5 60.3h0M288.8 61.8h0M288.7 63.4h0M288.4 64.8h0M290.8 29.7h0M290.6 31.2h0M290.8 32.7h0M290.7 40.3h0M290.9 41.8h0M290.3 57.2h0M290.5 58.7h0M292.6 20.3h0M292.6 21.7h0M292.9 23.3h0M292.7 24.9h0M292.9 26.5h0M292.8 28.0h0M292.8 29.7h0M292.7 31.4h0M292.5 32.9h0M293.0 34.5h0M293.0 36.2h0M292.8 37.8h0M292.8 39.3h0M292.7 40.9h0M292.6 42.5h0M292.6 43.9h0M292.6 45.3h0M292.8 47.0h0M293.0 48.5h0M292.7 50.2h0M292.9 51.9h0M292.9 53.4h0M292.7 54.8h0M292.9 56.4h0M292.8 57.9h0M293.1 59.5h0M293.0 61.1h0M292.7 62.7h0M292.7 64.2h0M293.1 65.7h0M294.9 25.4h0M295.0 37.4h0M295.5 38.9h0M294.9 62.4h0M296.9 20.1h0M296.8 21.6h0M297.1 23.3h0M297.0 24.9h0M296.7 26.5h0M297.5 28.1h0M297.1 29.6h0M297.0 31.2h0M297.3 32.8h0M297.2 34.3h0M297.2 35.8h0M297.4 37.4h0M297.1 39.0h0M297.2 40.4h0M296.9 42.0h0M296.9 43.4h0M296.9 45.0h0M297.1 46.5h0M297.1 48.1h0M297.0 49.7h0M297.3 51.4h0M296.8 52.9h0M297.2 54.4h0M297.3 55.9h0M297.2 57.5h0M297.2 59.1h0M297.0 60.5h0M296.9 62.3h0M297.3 63.8h0M297.0 65.3h0M299.4 28.5h0M299.3 36.4h0M299.2 37.9h0M298.9 46.8h0M299.2 54.4h0M299.3 63.0h0M301.5 20.2h0M301.4 21.8h0M301.8 23.3h0M301.4 24.8h0M301.2 26.4h0M301.7 27.9h0M301.5 29.6h0M301.4 31.2h0M301.4 32.8h0M301.4 34.3h0M301.5 35.9h0M301.0 37.5h0M301.8 39.2h0M301.3 40.8h0M301.4 42.3h0M301.5 43.8h0M301.6 45.3h0M301.0 47.0h0M301.3 48.5h0M301.3 50.0h0M301.6 51.5h0M301.6 52.9h0M301.5 54.6h0M301.4 56.2h0M301.5 57.7h0M301.5 59.3h0M301.5 61.0h0M301.7 62.6h0M301.2 64.0h0M301.3 65.6h0M303.9 29.2h0M303.6 37.4h0M303.5 38.9h0M303.9 40.4h0M303.6 45.6h0M303.6 62.6h0M303.7 64.1h0M305.6 20.2h0M305.4 21.7h0M305.9 23.3h0M305.9 24.8h0M305.4 26.2h0M305.6 27.6h0M305.7 29.2h0M305.8 30.7h0M305.5 32.2h0M306.1 33.7h0M305.7 35.1h0M305.8 36.7h0M305.7 38.2h0M305.9 39.8h0M305.8 41.3h0M305.8 46.0h0M305.8 47.7h0M306.1 49.2h0M305.9 50.7h0M305.7 52.2h0M306.0 53.8h0M305.6 55.2h0M305.8 56.7h0M305.8 58.2h0M305.6 59.6h0M305.7 61.3h0M305.8 62.9h0M305.4 64.4h0M308.0 29.6h0M307.9 31.1h0M307.6 42.8h0M308.0 50.1h0M307.7 60.7h0M310.0 20.4h0M310.0 21.9h0M309.9 23.6h0M310.2 25.1h0M309.8 26.6h0M310.1 28.1h0M310.0 29.7h0M310.2 31.2h0M309.7 32.8h0M310.0 34.4h0M310.0 36.0h0M309.9 37.5h0M310.0 38.9h0M310.1 40.4h0M309.9 41.9h0M309.8 43.3h0M309.9 44.9h0M309.8 46.5h0M309.7 48.1h0M309.9 49.6h0M310.0 51.2h0M310.1 52.7h0M310.1 54.3h0M310.0 55.9h0M310.1 57.4h0M310.1 58.9h0M310.1 60.5h0M309.8 62.1h0M310.0 63.6h0M309.9 65.2h0M311.9 38.5h0M312.0 40.0h0M312.0 46.4h0M314.3 20.1h0M314.7 21.6h0M314.1 23.0h0M313.9 24.6h0M314.0 26.1h0M314.3 27.6h0M314.5 29.1h0M314.5 30.7h0M314.2 32.3h0M314.2 34.0h0M314.6 35.5h0M314.3 37.1h0M314.4 38.7h0M314.3 40.1h0M314.3 41.6h0M314.5 43.1h0M314.1 44.6h0M314.1 46.2h0M314.4 47.7h0M313.9 49.3h0M314.4 50.8h0M314.5 52.4h0M314.4 53.8h0M314.3 55.3h0M314.4 56.9h0M314.3 58.4h0M314.0 59.9h0M314.3 61.4h0M314.1 62.9h0M314.6 64.4h0M316.2 31.3h0M316.3 32.8h0M316.8 40.6h0M316.2 50.4h0M316.6 60.7h0M318.6 20.2h0M318.5 21.7h0M318.7 23.2h0M318.4 24.6h0M318.5 26.1h0M318.8 27.7h0M318.6 29.2h0M318.7 30.8h0M318.7 32.2h0M318.4 33.7h0M318.5 35.2h0M318.8 36.8h0M318.6 38.2h0M318.7 39.9h0M318.6 41.5h0M318.4 43.0h0M318.3 47.6h0M318.9 49.1h0M318.6 50.8h0M318.5 52.5h0M318.2 54.0h0M318.5 55.6h0M318.6 57.4h0M318.3 58.9h0M318.5 60.6h0M318.2 62.1h0M318.8 63.8h0M318.6 65.2h0M320.6 29.1h0M320.3 30.6h0M320.9 37.1h0M320.6 58.7h0M320.6 65.1h0M322.7 20.1h0M323.0 21.7h0M323.2 23.2h0M322.9 24.7h0M322.6 26.2h0M322.8 27.7h0M322.8 33.5h0M323.1 34.9h0M322.9 36.4h0M323.1 37.8h0M323.0 39.4h0M322.9 41.0h0M323.0 42.6h0M322.8 44.2h0M322.8 45.7h0M323.1 47.3h0M323.2 48.9h0M322.8 50.3h0M322.8 52.0h0M323.1 53.4h0M322.7 55.0h0M322.7 56.6h0M322.9 58.0h0M322.7 59.5h0M322.7 61.0h0M322.9 62.6h0M322.8 64.2h0M322.7 65.6h0M325.2 27.4h0M325.1 28.9h0M325.0 30.4h0M324.9 52.0h0M325.0 63.4h0M327.0 20.5h0M327.1 22.1h0M327.3 23.8h0M327.1 25.4h0M327.3 27.0h0M327.2 28.4h0M327.1 29.9h0M327.0 31.3h0M327.0 32.8h0M327.0 35.9h0M327.4 40.5h0M327.0 42.1h0M327.3 43.6h0M327.1 45.1h0M327.0 46.5h0M327.3 48.1h0M327.0 49.6h0M327.3 51.1h0M327.2 52.5h0M327.0 53.9h0M327.4 55.5h0M327.1 56.9h0M327.1 58.5h0M327.3 60.0h0M327.4 61.6h0M327.1 63.2h0M327.2 64.7h0M329.3 29.5h0M329.7 31.0h0M329.0 38.2h0M329.4 39.7h0M329.6 45.5h0M329.6 47.0h0M328.9 57.3h0M329.6 58.8h0M329.5 65.4h0M331.6 20.1h0M331.5 21.6h0M331.4 23.1h0M331.5 24.7h0M331.4 26.4h0M331.4 27.8h0M331.6 29.3h0M331.3 30.9h0M331.4 32.6h0M331.4 34.2h0M331.7 35.6h0M331.3 37.0h0M331.4 38.6h0M331.5 40.2h0M331.9 41.7h0M331.5 43.2h0M331.4 44.7h0M331.6 46.3h0M331.4 47.8h0M331.2 49.4h0M331.5 50.9h0M331.5 52.4h0M331.4 53.9h0M331.6 55.6h0M331.5 57.2h0M331.6 58.9h0M331.9 60.5h0M331.5 62.1h0M330.9 63.6h0M331.5 65.0h0M333.8 38.0h0M333.6 45.6h0M333.7 47.1h0M333.6 57.1h0M335.9 20.0h0M335.9 21.4h0M335.8 22.9h0M335.9 24.6h0M336.0 26.1h0M335.8 27.7h0M335.8 29.3h0M335.7 30.8h0M335.6 32.3h0M335.8 36.9h0M335.8 38.4h0M336.0 39.9h0M336.0 41.4h0M335.6 42.8h0M335.8 44.4h0M335.9 45.9h0M335.8 47.4h0M335.7 48.8h0M335.9 50.3h0M335.6 51.9h0M335.7 53.6h0M335.4 54.9h0M335.8 56.6h0M335.7 58.1h0M336.0 59.6h0M336.1 61.1h0M335.4 62.7h0M335.7 64.3h0M336.1 65.8h0M338.1 27.3h0M338.0 46.3h0M337.9 53.1h0M338.0 56.1h0M340.2 20.1h0M340.1 21.6h0M340.4 23.0h0M340.0 24.5h0M340.1 26.1h0M340.4 27.6h0M340.3 29.2h0M339.9 30.9h0M340.2 32.5h0M339.9 34.2h0M340.2 35.8h0M340.5 37.3h0M340.1 38.9h0M340.3 40.5h0M340.2 42.1h0M340.4 43.8h0M340.0 45.2h0M340.1 46.7h0M340.2 48.3h0M340.1 49.8h0M340.0 51.5h0M340.2 53.0h0M340.2 54.4h0M340.2 56.0h0M340.0 57.5h0M340.1 59.0h0M340.1 60.5h0M340.3 62.2h0M340.0 63.7h0M340.0 65.4h0M342.2 27.6h0M342.1 38.1h0M342.3 53.0h0M342.1 54.5h0M342.4 65.7h0"/>
<path stroke="#f43434" stroke-width="1.60" stroke-linecap="round" fill="none" d="M277.7 22.8h0M277.7 23.9h0M278.0 25.0h0M278.0 29.5h0M277.7 30.6h0M277.5 31.7h0M277.7 38.2h0M277.7 39.3h0M277.9 40.4h0M277.8 41.5h0M277.7 42.6h0M278.0 48.0h0M277.7 49.1h0M277.7 50.2h0M277.9 51.3h0M277.9 56.5h0M277.6 57.6h0M277.9 58.7h0M277.7 59.8h0M277.5 65.1h0M280.0 59.0h0M279.7 60.6h0M279.9 62.0h0M281.9 22.6h0M282.0 23.7h0M282.1 24.8h0M281.9 25.9h0M281.9 27.0h0M282.0 28.1h0M282.0 32.1h0M282.0 33.2h0M281.8 34.3h0M282.0 35.4h0M282.3 36.5h0M282.1 37.6h0M282.1 42.6h0M282.1 43.7h0M282.1 44.8h0M281.9 45.9h0M282.0 47.0h0M281.9 54.6h0M282.0 55.7h0M282.2 56.8h0M282.0 57.9h0M282.0 63.1h0M282.0 64.2h0M282.1 65.3h0M286.6 21.4h0M286.3 22.5h0M286.6 23.6h0M286.3 24.7h0M286.5 30.4h0M286.3 31.5h0M286.3 32.6h0M286.3 33.7h0M286.2 34.8h0M286.3 38.5h0M286.7 39.6h0M286.5 40.7h0M286.3 41.8h0M286.2 47.9h0M286.3 49.0h0M286.5 50.1h0M286.4 51.2h0M286.2 58.9h0M286.5 60.0h0M286.2 61.1h0M290.7 21.6h0M290.7 22.7h0M290.7 23.8h0M290.6 24.9h0M290.8 26.0h0M290.7 27.1h0M290.2 28.2h0M290.6 34.2h0M290.5 35.3h0M290.7 36.4h0M290.6 37.5h0M290.4 38.6h0M290.6 44.4h0M290.6 45.5h0M290.5 46.6h0M290.6 50.3h0M290.3 51.4h0M290.9 52.5h0M290.7 53.6h0M290.7 54.7h0M290.7 55.8h0M290.8 61.7h0M290.6 62.8h0M290.4 63.9h0M290.7 65.0h0M295.2 20.6h0M295.0 21.7h0M295.1 22.8h0M294.9 23.9h0M295.2 29.3h0M294.8 30.4h0M295.2 31.5h0M294.8 32.6h0M294.9 33.7h0M295.1 34.8h0M295.0 35.9h0M295.0 40.4h0M294.8 41.5h0M294.9 42.6h0M294.8 43.7h0M295.1 44.8h0M294.9 48.7h0M295.1 49.8h0M294.8 50.9h0M295.1 55.9h0M294.8 57.0h0M295.1 58.1h0M294.8 59.2h0M295.0 64.7h0M295.1 65.8h0M299.5 20.1h0M299.3 21.2h0M299.4 22.3h0M299.1 23.4h0M299.3 24.5h0M299.1 30.1h0M299.4 31.2h0M299.2 32.3h0M299.1 33.4h0M299.2 34.5h0M299.2 39.7h0M299.3 40.8h0M299.0 41.9h0M299.3 43.0h0M299.1 44.1h0M299.2 45.2h0M299.2 48.7h0M299.3 49.8h0M299.3 50.9h0M299.4 52.0h0M299.1 56.6h0M299.2 57.7h0M299.3 58.8h0M299.3 59.9h0M299.3 65.3h0M303.8 20.1h0M303.7 21.2h0M303.5 22.3h0M303.6 23.4h0M303.7 24.5h0M303.4 25.6h0M303.4 31.7h0M303.6 32.8h0M303.4 33.9h0M303.6 35.0h0M303.8 42.2h0M303.6 43.3h0M303.3 47.8h0M303.7 48.9h0M303.5 50.0h0M303.5 51.1h0M303.6 52.2h0M303.6 53.3h0M303.4 57.7h0M303.7 58.8h0M305.9 42.9h0M305.6 44.5h0M307.5 21.9h0M307.6 23.0h0M307.5 24.1h0M307.7 25.2h0M308.0 26.3h0M307.9 27.4h0M307.5 33.4h0M307.8 34.5h0M308.1 35.6h0M307.8 36.7h0M307.8 37.8h0M307.8 38.9h0M307.8 44.7h0M307.6 45.8h0M307.6 46.9h0M307.7 52.3h0M308.0 53.4h0M307.6 54.5h0M307.7 55.6h0M307.6 56.7h0M307.7 57.8h0M308.0 58.9h0M307.8 62.8h0M308.0 63.9h0M307.7 65.0h0M312.1 22.8h0M312.4 23.9h0M312.4 25.0h0M312.2 26.1h0M312.2 27.2h0M312.0 28.3h0M312.2 29.4h0M312.1 33.2h0M312.1 34.3h0M312.2 35.4h0M312.2 41.6h0M312.1 42.7h0M312.2 43.8h0M312.0 44.9h0M312.3 51.9h0M312.1 53.0h0M312.1 54.1h0M312.1 55.2h0M312.1 56.3h0M312.3 60.3h0M312.2 61.4h0M312.2 62.5h0M312.1 63.6h0M312.2 64.7h0M316.4 22.1h0M316.5 23.2h0M316.5 24.3h0M316.5 25.4h0M316.4 26.5h0M316.7 27.6h0M316.7 34.9h0M316.3 36.0h0M316.5 37.1h0M316.4 38.2h0M316.6 43.6h0M316.4 44.7h0M316.4 45.8h0M316.8 46.9h0M316.6 53.0h0M316.3 54.1h0M316.4 55.2h0M316.4 56.3h0M316.3 57.4h0M316.3 58.5h0M316.3 65.5h0M318.8 44.6h0M318.5 46.0h0M321.0 21.1h0M320.7 22.2h0M320.7 23.3h0M320.7 24.4h0M320.4 25.5h0M320.8 32.4h0M320.8 33.5h0M320.6 34.6h0M320.9 35.7h0M320.4 39.3h0M320.8 40.4h0M320.7 41.5h0M320.8 42.6h0M320.7 43.7h0M320.7 44.8h0M320.9 51.0h0M320.8 52.1h0M320.8 53.2h0M320.8 54.3h0M321.1 55.4h0M320.8 56.5h0M320.7 60.8h0M320.8 61.9h0M320.6 63.0h0M323.0 29.2h0M322.7 30.6h0M323.1 32.0h0M324.9 22.5h0M325.2 23.6h0M324.9 24.7h0M325.2 25.8h0M325.7 32.9h0M325.1 34.0h0M325.1 35.1h0M324.9 36.2h0M325.2 37.3h0M324.8 38.4h0M325.0 44.2h0M325.0 45.3h0M324.8 46.4h0M324.8 47.5h0M325.1 48.6h0M325.0 55.5h0M325.3 56.6h0M325.2 57.7h0M325.0 58.8h0M325.0 59.9h0M327.3 34.4h0M326.8 37.5h0M327.3 38.9h0M329.1 21.8h0M329.5 22.9h0M329.4 24.0h0M329.3 25.1h0M329.4 26.2h0M329.2 32.6h0M329.3 33.7h0M329.2 34.8h0M329.3 35.9h0M329.3 41.0h0M329.3 42.1h0M329.4 43.2h0M329.4 50.2h0M329.5 51.3h0M329.4 52.4h0M329.2 53.5h0M329.3 60.4h0M329.7 61.5h0M329.6 62.6h0M329.2 63.7h0M333.8 20.2h0M333.6 21.3h0M333.9 22.4h0M333.9 23.5h0M333.7 24.6h0M333.5 25.7h0M333.9 26.8h0M333.8 32.0h0M333.8 33.1h0M333.8 34.2h0M334.1 40.5h0M333.6 41.6h0M333.8 49.2h0M333.6 50.3h0M333.7 51.4h0M333.8 52.5h0M333.8 53.6h0M333.2 54.7h0M333.7 61.2h0M333.6 62.3h0M333.7 63.4h0M333.9 64.5h0M333.6 65.6h0M336.0 33.8h0M335.8 35.3h0M337.8 22.0h0M338.0 23.1h0M337.9 24.2h0M338.1 25.3h0M337.9 29.6h0M338.1 30.7h0M337.9 31.8h0M338.0 32.9h0M337.9 40.0h0M338.1 41.1h0M337.8 42.2h0M338.0 43.3h0M337.9 48.0h0M338.1 49.1h0M338.0 50.2h0M338.0 51.3h0M338.0 58.1h0M338.0 59.2h0M337.7 60.3h0M337.8 61.4h0M337.9 65.6h0M342.2 20.6h0M342.3 21.7h0M342.1 22.8h0M342.1 23.9h0M342.5 31.5h0M341.9 32.6h0M342.2 33.7h0M342.1 40.2h0M342.3 41.3h0M342.3 42.4h0M342.3 43.5h0M342.5 44.6h0M342.1 49.3h0M342.3 50.4h0M342.3 51.5h0M342.2 58.2h0M342.3 59.3h0M341.9 60.4h0M342.5 61.5h0M342.1 62.6h0M328.4 35.3h0M328.6 33.6h0M329.9 34.1h0M329.3 34.5h0M329.3 34.5h0M328.1 35.5h0M318.7 46.6h0M316.9 45.0h0M317.4 43.9h0M320.1 45.6h0M318.4 45.3h0M320.1 44.0h0M317.5 44.0h0M319.1 44.7h0M317.6 43.9h0M318.9 46.6h0M318.1 43.6h0M281.5 61.3h0M281.5 59.4h0M280.9 61.7h0M281.6 61.5h0M280.7 59.6h0M279.4 61.7h0M279.1 59.0h0M280.2 61.1h0M280.8 58.8h0M279.6 60.3h0M279.4 61.9h0M279.7 60.6h0M279.9 58.5h0M326.5 38.2h0M325.8 40.5h0M326.5 39.9h0M325.5 39.9h0M326.7 38.2h0M324.8 39.0h0M325.5 37.3h0M326.8 37.3h0M325.7 37.5h0M305.3 41.5h0M304.3 44.4h0M305.2 44.1h0M306.6 42.1h0M304.2 43.7h0M305.9 42.9h0M306.6 42.7h0M303.8 42.9h0M306.4 42.0h0M304.3 44.4h0M306.4 42.6h0M322.0 47.1h0M322.2 47.2h0M322.0 48.3h0M321.1 48.5h0M322.6 48.0h0M322.7 49.7h0M320.1 48.2h0M320.6 49.6h0M323.1 48.4h0M321.0 49.4h0M303.4 35.1h0M302.5 34.3h0M303.6 32.9h0M305.5 33.8h0M303.7 35.8h0M302.4 34.8h0M303.3 35.0h0M302.8 34.0h0M303.3 34.1h0M305.0 34.3h0M304.7 34.1h0M305.1 34.8h0M322.8 29.1h0M322.7 31.0h0M322.5 30.3h0M323.2 32.3h0M323.4 31.1h0M324.0 31.2h0M323.4 29.2h0M322.5 29.1h0M323.0 30.6h0M335.7 34.6h0M337.0 35.0h0M337.8 33.8h0M336.8 34.3h0M336.3 34.9h0M338.2 34.1h0M336.2 33.8h0"/>
<rect x="202.1" y="42.2" width="53.2" height="33.8" fill="#f5f1da" stroke="#8a8a8a" stroke-width="0.5"/>
<path d="M202.1 48.45H255.3M202.1 53.9H255.3M202.1 59.4H255.3M202.1 64.85H255.3M202.1 70.3H255.3M205.2 42.2V76.0M217.0 42.2V76.0M228.9 42.2V76.0M240.8 42.2V76.0M252.8 42.2V76.0" stroke="#a9a99a" stroke-width="0.45" fill="none"/>
<text x="201.4" y="44" font-size="2.5" fill="#666" stroke="#666" stroke-width="0.04" text-anchor="end" >1.5</text>
<text x="201.4" y="49.35" font-size="2.5" fill="#666" stroke="#666" stroke-width="0.04" text-anchor="end" >1.0</text>
<text x="201.4" y="54.8" font-size="2.5" fill="#666" stroke="#666" stroke-width="0.04" text-anchor="end" >0.5</text>
<text x="201.4" y="60.3" font-size="2.5" fill="#666" stroke="#666" stroke-width="0.04" text-anchor="end" >0.0</text>
<text x="201.4" y="65.75" font-size="2.5" fill="#666" stroke="#666" stroke-width="0.04" text-anchor="end" >−0.5</text>
<text x="201.4" y="71.2" font-size="2.5" fill="#666" stroke="#666" stroke-width="0.04" text-anchor="end" >−1.0</text>
<text x="201.4" y="76.6" font-size="2.5" fill="#666" stroke="#666" stroke-width="0.04" text-anchor="end" >−1.5</text>
<text x="205.2" y="78.8" font-size="2.2" fill="#777" stroke="#777" stroke-width="0.05" text-anchor="middle" >−1</text>
<text x="217" y="78.8" font-size="2.2" fill="#777" stroke="#777" stroke-width="0.05" text-anchor="middle" >−0.5</text>
<text x="228.9" y="78.8" font-size="2.2" fill="#777" stroke="#777" stroke-width="0.05" text-anchor="middle" >0</text>
<text x="240.8" y="78.8" font-size="2.2" fill="#777" stroke="#777" stroke-width="0.05" text-anchor="middle" >0.5</text>
<text x="252.8" y="78.8" font-size="2.2" fill="#777" stroke="#777" stroke-width="0.05" text-anchor="middle" >1</text>
<text x="228.7" y="80.9" font-size="2.8" fill="#6a70c8" stroke="#6a70c8" stroke-width="0.05" text-anchor="middle" >x</text>
<text x="195.6" y="60.6" font-size="3.4" fill="#3a46b0" font-style="italic" text-anchor="middle" transform="rotate(-90 195.6 59.6)">ρ</text>
<text x="228.6" y="41.3" font-size="3.0" fill="#5058b8" stroke="#5058b8" stroke-width="0" text-anchor="middle" textLength="28.5" lengthAdjust="spacingAndGlyphs">Internal modulation</text>
<path d="M202.4 55.0 202.6 55.8 202.8 56.8 203.0 57.9 203.2 59.0 203.4 60.2 203.6 61.3 203.8 62.3 204.0 63.2 204.2 64.0 204.4 64.5 204.6 64.8 204.8 64.8 205.0 64.6 205.2 64.2 205.4 63.5 205.6 62.7 205.9 61.7 206.1 60.6 206.3 59.5 206.5 58.3 206.7 57.2 206.9 56.2 207.1 55.3 207.3 54.7 207.5 54.2 207.7 54.0 207.9 54.0 208.1 54.3 208.3 54.8 208.5 55.5 208.7 56.4 208.9 57.4 209.1 58.5 209.3 59.7 209.5 60.8 209.7 61.9 209.9 62.9 210.1 63.7 210.3 64.3 210.5 64.7 210.7 64.8 210.9 64.8 211.1 64.4 211.3 63.8 211.5 63.1 211.7 62.1 211.9 61.1 212.1 59.9 212.4 58.8 212.6 57.7 212.8 56.6 213.0 55.7 213.2 54.9 213.4 54.4 213.6 54.0 213.8 54.0 214.0 54.1 214.2 54.5 214.4 55.2 214.6 56.0 214.8 57.0 215.0 58.0 215.2 59.2 215.4 60.3 215.6 61.5 215.8 62.5 216.0 63.4 216.2 64.1 216.4 64.6 216.6 64.8 216.8 64.8 217.0 64.6 217.2 64.1 217.4 63.4 217.6 62.6 217.8 61.5 218.0 60.4 218.2 59.3 218.4 58.1 218.6 57.0 218.9 56.0 219.1 55.2 219.3 54.6 219.5 54.1 219.7 54.0 219.9 54.0 220.1 54.3 220.3 54.9 220.5 55.6 220.7 56.5 220.9 57.6 221.1 58.7 221.3 59.9 221.5 61.0 221.7 62.1 221.9 63.0 222.1 63.8 222.3 64.4 222.5 64.7 222.7 64.8 222.9 64.7 223.1 64.3 223.3 63.7 223.5 62.9 223.7 62.0 223.9 60.9 224.1 59.8 224.3 58.6 224.5 57.5 224.7 56.4 224.9 55.5 225.1 54.8 225.3 54.3 225.6 54.0 225.8 54.0 226.0 54.2 226.2 54.6 226.4 55.3 226.6 56.1 226.8 57.1 227.0 58.2 227.2 59.4 227.4 60.5 227.6 61.6 227.8 62.6 228.0 63.5 228.2 64.2 228.4 64.6 228.6 64.8 228.8 64.8 229.0 64.5 229.2 64.0 229.4 63.3 229.6 62.4 229.8 61.4 230.0 60.2 230.2 59.1 230.4 57.9 230.6 56.9 230.8 55.9 231.0 55.1 231.2 54.5 231.4 54.1 231.6 54.0 231.8 54.1 232.1 54.4 232.3 55.0 232.5 55.7 232.7 56.7 232.9 57.7 233.1 58.9 233.3 60.0 233.5 61.2 233.7 62.2 233.9 63.2 234.1 63.9 234.3 64.5 234.5 64.8 234.7 64.8 234.9 64.7 235.1 64.3 235.3 63.6 235.5 62.8 235.7 61.8 235.9 60.7 236.1 59.6 236.3 58.4 236.5 57.3 236.7 56.3 236.9 55.4 237.1 54.7 237.3 54.2 237.5 54.0 237.7 54.0 237.9 54.2 238.1 54.7 238.3 55.4 238.5 56.3 238.8 57.3 239.0 58.4 239.2 59.6 239.4 60.7 239.6 61.8 239.8 62.8 240.0 63.6 240.2 64.2 240.4 64.7 240.6 64.8 240.8 64.8 241.0 64.5 241.2 63.9 241.4 63.2 241.6 62.2 241.8 61.2 242.0 60.1 242.2 58.9 242.4 57.8 242.6 56.7 242.8 55.8 243.0 55.0 243.2 54.4 243.4 54.1 243.6 54.0 243.8 54.1 244.0 54.5 244.2 55.1 244.4 55.9 244.6 56.8 244.8 57.9 245.0 59.1 245.3 60.2 245.5 61.4 245.7 62.4 245.9 63.3 246.1 64.0 246.3 64.5 246.5 64.8 246.7 64.8 246.9 64.6 247.1 64.2 247.3 63.5 247.5 62.7 247.7 61.7 247.9 60.5 248.1 59.4 248.3 58.2 248.5 57.1 248.7 56.1 248.9 55.3 249.1 54.6 249.3 54.2 249.5 54.0 249.7 54.0 249.9 54.3 250.1 54.8 250.3 55.5 250.5 56.4 250.7 57.5 250.9 58.6 251.1 59.7 251.3 60.9 251.5 62.0 251.8 62.9 252.0 63.7 252.2 64.3 252.4 64.7 252.6 64.8 252.8 64.7 253.0 64.4 253.2 63.8 253.4 63.0 253.6 62.1 253.8 61.0 254.0 59.9 254.2 58.7 254.4 57.6 254.6 56.5 254.8 55.6 255.0 54.9" stroke="#e47272" stroke-width="1.2" fill="none" opacity="0.9"/>
<path d="M202.4 62.9 202.6 64.0 202.8 65.0 203.0 66.0 203.2 66.9 203.4 67.7 203.6 68.4 203.8 69.0 204.0 69.5 204.2 69.9 204.4 70.2 204.6 70.3 204.8 70.3 205.0 70.2 205.2 70.0 205.4 69.7 205.6 69.2 205.9 68.6 206.1 68.0 206.3 67.2 206.5 66.3 206.7 65.4 206.9 64.4 207.1 63.3 207.3 62.2 207.5 61.0 207.7 59.9 207.9 58.7 208.1 57.5 208.3 56.4 208.5 55.3 208.7 54.2 208.9 53.2 209.1 52.3 209.3 51.5 209.5 50.7 209.7 50.0 209.9 49.5 210.1 49.1 210.3 48.7 210.5 48.5 210.7 48.5 210.9 48.5 211.1 48.7 211.3 49.0 211.5 49.4 211.7 49.9 211.9 50.5 212.1 51.3 212.4 52.1 212.6 53.0 212.8 54.0 213.0 55.1 213.2 56.1 213.4 57.3 213.6 58.4 213.8 59.6 214.0 60.8 214.2 61.9 214.4 63.0 214.6 64.1 214.8 65.1 215.0 66.1 215.2 67.0 215.4 67.8 215.6 68.5 215.8 69.1 216.0 69.6 216.2 70.0 216.4 70.2 216.6 70.3 216.8 70.3 217.0 70.2 217.2 70.0 217.4 69.6 217.6 69.1 217.8 68.5 218.0 67.8 218.2 67.1 218.4 66.2 218.6 65.2 218.9 64.2 219.1 63.1 219.3 62.0 219.5 60.9 219.7 59.7 219.9 58.5 220.1 57.4 220.3 56.2 220.5 55.1 220.7 54.1 220.9 53.1 221.1 52.2 221.3 51.3 221.5 50.6 221.7 49.9 221.9 49.4 222.1 49.0 222.3 48.7 222.5 48.5 222.7 48.5 222.9 48.5 223.1 48.7 223.3 49.0 223.5 49.5 223.7 50.0 223.9 50.7 224.1 51.4 224.3 52.2 224.5 53.2 224.7 54.2 224.9 55.2 225.1 56.3 225.3 57.5 225.6 58.6 225.8 59.8 226.0 61.0 226.2 62.1 226.4 63.2 226.6 64.3 226.8 65.3 227.0 66.3 227.2 67.1 227.4 67.9 227.6 68.6 227.8 69.2 228.0 69.6 228.2 70.0 228.4 70.2 228.6 70.3 228.8 70.3 229.0 70.2 229.2 69.9 229.4 69.5 229.6 69.0 229.8 68.4 230.0 67.7 230.2 66.9 230.4 66.0 230.6 65.1 230.8 64.0 231.0 62.9 231.2 61.8 231.4 60.7 231.6 59.5 231.8 58.3 232.1 57.2 232.3 56.0 232.5 55.0 232.7 53.9 232.9 52.9 233.1 52.0 233.3 51.2 233.5 50.5 233.7 49.9 233.9 49.3 234.1 48.9 234.3 48.7 234.5 48.5 234.7 48.5 234.9 48.5 235.1 48.8 235.3 49.1 235.5 49.5 235.7 50.1 235.9 50.8 236.1 51.5 236.3 52.4 236.5 53.3 236.7 54.3 236.9 55.4 237.1 56.5 237.3 57.6 237.5 58.8 237.7 60.0 237.9 61.1 238.1 62.3 238.3 63.4 238.5 64.5 238.8 65.5 239.0 66.4 239.2 67.3 239.4 68.0 239.6 68.7 239.8 69.3 240.0 69.7 240.2 70.0 240.4 70.3 240.6 70.3 240.8 70.3 241.0 70.2 241.2 69.9 241.4 69.5 241.6 69.0 241.8 68.3 242.0 67.6 242.2 66.8 242.4 65.9 242.6 64.9 242.8 63.9 243.0 62.8 243.2 61.6 243.4 60.5 243.6 59.3 243.8 58.1 244.0 57.0 244.2 55.9 244.4 54.8 244.6 53.8 244.8 52.8 245.0 51.9 245.3 51.1 245.5 50.4 245.7 49.8 245.9 49.3 246.1 48.9 246.3 48.6 246.5 48.5 246.7 48.5 246.9 48.6 247.1 48.8 247.3 49.1 247.5 49.6 247.7 50.2 247.9 50.9 248.1 51.7 248.3 52.5 248.5 53.5 248.7 54.5 248.9 55.6 249.1 56.7 249.3 57.8 249.5 59.0 249.7 60.2 249.9 61.3 250.1 62.5 250.3 63.6 250.5 64.6 250.7 65.6 250.9 66.5 251.1 67.4 251.3 68.1 251.5 68.8 251.8 69.3 252.0 69.8 252.2 70.1 252.4 70.3 252.6 70.3 252.8 70.3 253.0 70.1 253.2 69.8 253.4 69.4 253.6 68.9 253.8 68.2 254.0 67.5 254.2 66.6 254.4 65.7 254.6 64.7 254.8 63.7 255.0 62.6" stroke="#3f4bb4" stroke-width="0.85" fill="none"/>
<path stroke="#1e2cc8" stroke-width="2.40" stroke-linecap="round" fill="none" d="M210.8 48.5h0M222.7 48.5h0M234.7 48.5h0M246.6 48.5h0"/>
<path stroke="#2a36a8" stroke-width="1.50" stroke-linecap="round" fill="none" d="M204.8 70.3h0M216.7 70.3h0M228.7 70.3h0M240.6 70.3h0M252.6 70.3h0"/>
<path d="M207.0 53.1h1.6v1.6h-1.6zM212.9 53.1h1.6v1.6h-1.6zM218.9 53.1h1.6v1.6h-1.6zM224.9 53.1h1.6v1.6h-1.6zM230.9 53.1h1.6v1.6h-1.6zM236.8 53.1h1.6v1.6h-1.6zM242.8 53.1h1.6v1.6h-1.6zM248.8 53.1h1.6v1.6h-1.6z" fill="#a3162a"/>
<rect x="236.8" y="71.4" width="17.6" height="4.4" fill="#fbfaf2" stroke="#c0c0b8" stroke-width="0.3"/>
<rect x="237.3" y="72.0" width="1.2" height="1.2" fill="#3540b0"/>
<rect x="237.3" y="74.1" width="1.2" height="1.2" fill="#c03040"/>
<text x="239" y="73.1" font-size="1.6" fill="#555" stroke="#555" stroke-width="0.12" text-anchor="start" >n_large (period 1)</text>
<text x="239" y="75.2" font-size="1.6" fill="#555" stroke="#555" stroke-width="0.12" text-anchor="start" >n_small (period 1/2)</text>
<defs><linearGradient id="ag" x1="0" y1="0" x2="0" y2="1"><stop offset="0" stop-color="#9bd04e"/><stop offset="1" stop-color="#7dbb38"/></linearGradient></defs>
<path d="M206.2 83.4H240.7V81.3L246.4 86.05L240.7 90.8V88.7H206.2Z" fill="url(#ag)" stroke="#4f8a25" stroke-width="0.55"/>
<rect x="123.9" y="104.4" width="60" height="56.2" fill="#90434a"/>
<path fill="#aa3333" d="M123.9 104.4h1v1h-1zM162.9 104.4h2v1h-2zM171.9 104.4h2v1h-2zM138.9 106.41h2v1h-2zM152.9 106.41h1v1h-1zM139.9 107.41h1v1h-1zM163.9 108.41h2v1h-2zM175.9 109.42h1v1h-1zM180.9 109.42h2v1h-2zM180.9 110.42h2v1h-2zM123.9 111.43h1v1h-1zM136.9 112.43h1v1h-1zM151.9 112.43h1v1h-1zM176.9 112.43h1v1h-1zM151.9 113.43h2v1h-2zM172.9 113.43h1v1h-1zM132.9 115.44h1v1h-1zM134.9 115.44h2v1h-2zM170.9 118.45h1v1h-1zM131.9 119.45h1v1h-1zM133.9 119.45h1v1h-1zM160.9 119.45h1v1h-1zM132.9 120.46h2v1h-2zM133.9 122.46h1v1h-1zM169.9 123.47h1v1h-1zM175.9 123.47h1v1h-1zM177.9 124.47h1v1h-1zM165.9 125.47h1v1h-1zM177.9 125.47h1v1h-1zM125.9 126.48h1v1h-1zM164.9 126.48h1v1h-1zM167.9 126.48h1v1h-1zM164.9 127.48h1v1h-1zM173.9 127.48h1v1h-1zM151.9 128.49h1v1h-1zM159.9 128.49h1v1h-1zM159.9 129.49h1v1h-1zM167.9 131.5h1v1h-1zM157.9 134.51h1v1h-1zM123.9 135.51h1v1h-1zM151.9 135.51h1v1h-1zM163.9 137.52h1v1h-1zM163.9 138.52h1v1h-1zM166.9 140.53h1v1h-1zM139.9 141.53h1v1h-1zM168.9 142.54h1v1h-1zM170.9 142.54h1v1h-1zM146.9 143.54h1v1h-1zM155.9 144.54h1v1h-1zM157.9 144.54h1v1h-1zM139.9 146.55h2v1h-2zM137.9 148.56h1v1h-1zM139.9 149.56h1v1h-1zM144.9 149.56h1v1h-1zM146.9 149.56h1v1h-1zM128.9 150.56h1v1h-1zM144.9 150.56h1v1h-1zM128.9 151.57h1v1h-1zM151.9 151.57h1v1h-1zM149.9 152.57h2v1h-2zM147.9 153.57h1v1h-1zM127.9 154.58h1v1h-1zM147.9 154.58h2v1h-2zM163.9 154.58h1v1h-1zM157.9 158.59h1v1h-1z"/>
<path fill="#992233" d="M124.9 104.4h1v1h-1zM144.9 104.4h1v1h-1zM135.9 105.4h1v1h-1zM124.9 111.43h1v1h-1zM146.9 153.57h1v1h-1zM145.9 158.59h1v1h-1zM148.9 158.59h1v1h-1z"/>
<path fill="#552244" d="M125.9 104.4h1v1h-1zM128.9 104.4h1v1h-1zM135.9 104.4h2v1h-2zM128.9 105.4h2v1h-2zM132.9 105.4h2v1h-2zM128.9 106.41h1v1h-1zM130.9 106.41h1v1h-1zM125.9 107.41h1v1h-1zM131.9 107.41h1v1h-1zM136.9 107.41h1v1h-1zM123.9 108.41h2v1h-2zM126.9 108.41h1v1h-1zM128.9 108.41h1v1h-1zM132.9 108.41h1v1h-1zM136.9 108.41h1v1h-1zM124.9 109.42h1v1h-1zM135.9 109.42h1v1h-1zM124.9 110.42h1v1h-1zM126.9 110.42h1v1h-1zM135.9 111.43h1v1h-1zM125.9 112.43h1v1h-1zM131.9 112.43h1v1h-1zM125.9 113.43h1v1h-1zM123.9 114.44h1v1h-1zM136.9 153.57h2v1h-2zM137.9 154.58h1v1h-1zM137.9 155.58h1v1h-1zM142.9 155.58h1v1h-1zM144.9 155.58h3v1h-3zM144.9 156.59h1v1h-1zM140.9 157.59h1v1h-1zM150.9 157.59h1v1h-1zM140.9 158.59h2v1h-2zM139.9 159.6h1v1h-1z"/>
<path fill="#882233" d="M126.9 104.4h1v1h-1zM131.9 105.4h1v1h-1zM134.9 105.4h1v1h-1zM129.9 106.41h1v1h-1zM135.9 106.41h1v1h-1zM129.9 107.41h1v1h-1zM125.9 108.41h1v1h-1zM125.9 111.43h1v1h-1zM130.9 111.43h1v1h-1zM123.9 113.43h1v1h-1zM123.9 115.44h1v1h-1zM136.9 155.58h1v1h-1zM149.9 156.59h1v1h-1zM148.9 157.59h1v1h-1zM146.9 158.59h1v1h-1zM149.9 158.59h1v1h-1zM138.9 159.6h1v1h-1zM140.9 159.6h1v1h-1z"/>
<path fill="#772244" d="M127.9 104.4h1v1h-1zM134.9 104.4h1v1h-1zM135.9 107.41h1v1h-1zM131.9 108.41h1v1h-1zM124.9 112.43h1v1h-1zM147.9 155.58h1v1h-1zM150.9 156.59h1v1h-1zM136.9 158.59h1v1h-1zM148.9 159.6h1v1h-1z"/>
<path fill="#332244" d="M129.9 104.4h2v1h-2zM125.9 105.4h1v1h-1zM123.9 106.41h3v1h-3zM126.9 107.41h2v1h-2zM127.9 108.41h1v1h-1zM129.9 109.42h2v1h-2zM131.9 110.42h2v1h-2zM135.9 110.42h1v1h-1zM128.9 112.43h1v1h-1zM126.9 117.45h1v1h-1zM138.9 157.59h1v1h-1zM139.9 158.59h1v1h-1z"/>
<path fill="#662244" d="M131.9 104.4h1v1h-1zM126.9 105.4h1v1h-1zM149.9 105.4h1v1h-1zM134.9 106.41h1v1h-1zM128.9 107.41h1v1h-1zM125.9 109.42h1v1h-1zM127.9 109.42h1v1h-1zM123.9 110.42h1v1h-1zM129.9 110.42h2v1h-2zM126.9 111.43h1v1h-1zM126.9 112.43h2v1h-2zM124.9 113.43h1v1h-1zM126.9 114.44h1v1h-1zM124.9 115.44h1v1h-1zM140.9 153.57h1v1h-1zM136.9 154.58h1v1h-1zM143.9 155.58h1v1h-1zM137.9 156.59h1v1h-1zM141.9 157.59h1v1h-1zM143.9 158.59h1v1h-1zM147.9 158.59h1v1h-1zM135.9 159.6h2v1h-2zM141.9 159.6h1v1h-1zM149.9 159.6h1v1h-1z"/>
<path fill="#773344" d="M132.9 104.4h1v1h-1zM145.9 104.4h2v1h-2zM156.9 104.4h1v1h-1zM161.9 104.4h1v1h-1zM144.9 105.4h1v1h-1zM151.9 105.4h1v1h-1zM158.9 105.4h1v1h-1zM162.9 105.4h1v1h-1zM165.9 105.4h1v1h-1zM151.9 106.41h1v1h-1zM153.9 106.41h2v1h-2zM157.9 106.41h1v1h-1zM162.9 106.41h2v1h-2zM155.9 107.41h1v1h-1zM159.9 107.41h1v1h-1zM163.9 107.41h2v1h-2zM137.9 109.42h1v1h-1zM145.9 109.42h1v1h-1zM149.9 109.42h1v1h-1zM152.9 109.42h2v1h-2zM157.9 109.42h1v1h-1zM153.9 110.42h1v1h-1zM163.9 110.42h2v1h-2zM137.9 111.43h1v1h-1zM150.9 111.43h2v1h-2zM174.9 111.43h1v1h-1zM134.9 112.43h1v1h-1zM158.9 112.43h1v1h-1zM126.9 113.43h1v1h-1zM165.9 113.43h1v1h-1zM168.9 113.43h1v1h-1zM131.9 114.44h1v1h-1zM134.9 114.44h2v1h-2zM153.9 114.44h1v1h-1zM176.9 114.44h2v1h-2zM129.9 115.44h1v1h-1zM154.9 115.44h1v1h-1zM163.9 115.44h1v1h-1zM169.9 115.44h1v1h-1zM173.9 115.44h1v1h-1zM179.9 115.44h1v1h-1zM133.9 116.44h1v1h-1zM164.9 116.44h1v1h-1zM168.9 116.44h1v1h-1zM172.9 116.44h1v1h-1zM133.9 117.45h1v1h-1zM158.9 117.45h2v1h-2zM173.9 117.45h1v1h-1zM126.9 119.45h1v1h-1zM128.9 119.45h1v1h-1zM162.9 120.46h1v1h-1zM176.9 122.46h1v1h-1zM156.9 133.5h1v1h-1zM158.9 133.5h1v1h-1zM141.9 146.55h1v1h-1zM136.9 147.55h1v1h-1zM145.9 147.55h1v1h-1zM137.9 149.56h1v1h-1zM140.9 149.56h1v1h-1zM143.9 149.56h1v1h-1zM149.9 150.56h1v1h-1zM135.9 151.57h1v1h-1zM146.9 151.57h1v1h-1zM148.9 151.57h1v1h-1zM134.9 152.57h1v1h-1zM136.9 152.57h1v1h-1zM144.9 152.57h1v1h-1zM146.9 152.57h1v1h-1zM134.9 153.57h1v1h-1zM138.9 153.57h1v1h-1zM151.9 153.57h1v1h-1zM154.9 153.57h1v1h-1zM129.9 154.58h1v1h-1zM151.9 154.58h1v1h-1zM129.9 155.58h1v1h-1zM141.9 155.58h1v1h-1zM143.9 156.59h1v1h-1zM152.9 156.59h1v1h-1zM136.9 157.59h1v1h-1zM144.9 158.59h1v1h-1zM150.9 158.59h1v1h-1zM153.9 158.59h1v1h-1zM125.9 159.6h3v1h-3zM130.9 159.6h1v1h-1zM143.9 159.6h1v1h-1zM157.9 159.6h1v1h-1z"/>
<path fill="#993333" d="M133.9 104.4h1v1h-1zM135.9 112.43h1v1h-1zM153.9 113.43h1v1h-1zM133.9 115.44h1v1h-1zM179.9 120.46h1v1h-1zM162.9 123.47h1v1h-1zM138.9 142.54h1v1h-1zM141.9 149.56h1v1h-1zM126.9 155.58h1v1h-1zM150.9 155.58h1v1h-1zM136.9 156.59h1v1h-1zM144.9 159.6h1v1h-1zM147.9 159.6h1v1h-1z"/>
<path fill="#442244" d="M137.9 104.4h2v1h-2zM123.9 105.4h2v1h-2zM136.9 105.4h1v1h-1zM136.9 106.41h1v1h-1zM130.9 107.41h1v1h-1zM133.9 107.41h1v1h-1zM129.9 108.41h1v1h-1zM123.9 109.42h1v1h-1zM128.9 109.42h1v1h-1zM131.9 109.42h1v1h-1zM136.9 109.42h1v1h-1zM125.9 110.42h1v1h-1zM128.9 110.42h1v1h-1zM127.9 111.43h2v1h-2zM131.9 111.43h1v1h-1zM134.9 111.43h1v1h-1zM129.9 112.43h2v1h-2zM130.9 113.43h1v1h-1zM124.9 114.44h2v1h-2zM127.9 114.44h2v1h-2zM125.9 115.44h1v1h-1zM127.9 115.44h2v1h-2zM126.9 116.44h1v1h-1zM125.9 117.45h1v1h-1zM138.9 156.59h1v1h-1zM145.9 156.59h1v1h-1zM134.9 157.59h1v1h-1zM145.9 157.59h1v1h-1zM147.9 157.59h1v1h-1zM134.9 158.59h2v1h-2zM138.9 158.59h1v1h-1zM142.9 158.59h1v1h-1zM137.9 159.6h1v1h-1z"/>
<path fill="#443355" d="M139.9 104.4h1v1h-1zM142.9 104.4h1v1h-1zM127.9 106.41h1v1h-1zM133.9 106.41h1v1h-1zM124.9 107.41h1v1h-1zM132.9 107.41h1v1h-1zM146.9 107.41h1v1h-1zM130.9 108.41h1v1h-1zM133.9 108.41h1v1h-1zM134.9 109.42h1v1h-1zM155.9 111.43h1v1h-1zM132.9 112.43h1v1h-1zM128.9 113.43h1v1h-1zM130.9 114.44h1v1h-1zM128.9 116.44h1v1h-1zM125.9 118.45h1v1h-1zM123.9 119.45h1v1h-1zM140.9 152.57h1v1h-1zM133.9 154.58h1v1h-1zM140.9 154.58h1v1h-1zM134.9 155.58h1v1h-1zM139.9 156.59h1v1h-1zM147.9 156.59h1v1h-1zM146.9 157.59h1v1h-1z"/>
<path fill="#553344" d="M140.9 104.4h1v1h-1zM153.9 104.4h1v1h-1zM141.9 105.4h2v1h-2zM149.9 106.41h1v1h-1zM123.9 107.41h1v1h-1zM147.9 107.41h1v1h-1zM129.9 114.44h1v1h-1zM125.9 116.44h1v1h-1zM145.9 154.58h1v1h-1zM135.9 155.58h1v1h-1zM138.9 155.58h1v1h-1zM133.9 157.59h1v1h-1zM142.9 157.59h1v1h-1zM144.9 157.59h1v1h-1zM152.9 158.59h1v1h-1zM152.9 159.6h1v1h-1z"/>
<path fill="#663344" d="M141.9 104.4h1v1h-1zM143.9 104.4h1v1h-1zM137.9 105.4h1v1h-1zM148.9 105.4h1v1h-1zM150.9 105.4h1v1h-1zM153.9 105.4h1v1h-1zM132.9 106.41h1v1h-1zM137.9 106.41h1v1h-1zM140.9 106.41h1v1h-1zM142.9 106.41h2v1h-2zM149.9 107.41h1v1h-1zM134.9 108.41h2v1h-2zM160.9 109.42h1v1h-1zM152.9 111.43h1v1h-1zM133.9 113.43h1v1h-1zM133.9 114.44h1v1h-1zM131.9 116.44h1v1h-1zM129.9 117.45h2v1h-2zM125.9 119.45h1v1h-1zM141.9 151.57h5v1h-5zM141.9 152.57h1v1h-1zM139.9 153.57h1v1h-1zM145.9 153.57h1v1h-1zM141.9 154.58h1v1h-1zM143.9 154.58h1v1h-1zM146.9 154.58h1v1h-1zM152.9 154.58h1v1h-1zM134.9 156.59h2v1h-2zM142.9 156.59h1v1h-1zM148.9 156.59h1v1h-1zM151.9 156.59h1v1h-1zM152.9 157.59h1v1h-1zM151.9 158.59h1v1h-1zM142.9 159.6h1v1h-1zM153.9 159.6h1v1h-1z"/>
<path fill="#993344" d="M147.9 104.4h1v1h-1zM155.9 104.4h1v1h-1zM164.9 104.4h2v1h-2zM138.9 105.4h1v1h-1zM147.9 105.4h1v1h-1zM163.9 105.4h1v1h-1zM168.9 105.4h1v1h-1zM144.9 106.41h1v1h-1zM147.9 106.41h2v1h-2zM155.9 106.41h1v1h-1zM143.9 107.41h1v1h-1zM152.9 107.41h1v1h-1zM162.9 107.41h1v1h-1zM178.9 107.41h1v1h-1zM137.9 108.41h2v1h-2zM162.9 108.41h1v1h-1zM165.9 108.41h1v1h-1zM167.9 108.41h1v1h-1zM169.9 108.41h1v1h-1zM171.9 108.41h1v1h-1zM138.9 109.42h1v1h-1zM150.9 109.42h2v1h-2zM164.9 109.42h1v1h-1zM144.9 110.42h1v1h-1zM147.9 110.42h2v1h-2zM160.9 110.42h3v1h-3zM166.9 110.42h1v1h-1zM136.9 111.43h1v1h-1zM138.9 111.43h1v1h-1zM145.9 111.43h1v1h-1zM148.9 111.43h1v1h-1zM168.9 111.43h2v1h-2zM173.9 111.43h1v1h-1zM177.9 111.43h1v1h-1zM146.9 112.43h1v1h-1zM150.9 112.43h1v1h-1zM153.9 112.43h1v1h-1zM161.9 112.43h1v1h-1zM170.9 112.43h1v1h-1zM175.9 112.43h1v1h-1zM177.9 112.43h1v1h-1zM134.9 113.43h1v1h-1zM139.9 113.43h1v1h-1zM163.9 113.43h1v1h-1zM166.9 113.43h1v1h-1zM175.9 113.43h2v1h-2zM179.9 113.43h1v1h-1zM132.9 114.44h1v1h-1zM158.9 114.44h1v1h-1zM166.9 114.44h1v1h-1zM169.9 114.44h1v1h-1zM175.9 114.44h1v1h-1zM137.9 115.44h1v1h-1zM171.9 115.44h1v1h-1zM175.9 115.44h2v1h-2zM181.9 115.44h1v1h-1zM134.9 116.44h1v1h-1zM154.9 116.44h1v1h-1zM160.9 116.44h1v1h-1zM162.9 116.44h2v1h-2zM167.9 116.44h1v1h-1zM170.9 116.44h1v1h-1zM176.9 116.44h2v1h-2zM180.9 116.44h2v1h-2zM137.9 117.45h1v1h-1zM171.9 117.45h1v1h-1zM176.9 117.45h1v1h-1zM179.9 117.45h2v1h-2zM130.9 118.45h2v1h-2zM133.9 118.45h1v1h-1zM132.9 119.45h1v1h-1zM163.9 119.45h1v1h-1zM165.9 119.45h1v1h-1zM169.9 119.45h1v1h-1zM128.9 120.46h1v1h-1zM135.9 120.46h1v1h-1zM149.9 120.46h1v1h-1zM167.9 120.46h1v1h-1zM169.9 120.46h1v1h-1zM173.9 120.46h1v1h-1zM178.9 120.46h1v1h-1zM133.9 121.46h1v1h-1zM167.9 121.46h1v1h-1zM177.9 121.46h1v1h-1zM127.9 122.46h1v1h-1zM156.9 122.46h1v1h-1zM159.9 122.46h1v1h-1zM162.9 122.46h1v1h-1zM164.9 122.46h2v1h-2zM172.9 122.46h1v1h-1zM177.9 122.46h1v1h-1zM159.9 123.47h1v1h-1zM161.9 123.47h1v1h-1zM164.9 123.47h1v1h-1zM166.9 123.47h1v1h-1zM168.9 123.47h1v1h-1zM177.9 123.47h1v1h-1zM156.9 124.47h1v1h-1zM159.9 124.47h1v1h-1zM175.9 124.47h1v1h-1zM161.9 125.47h1v1h-1zM156.9 126.48h1v1h-1zM160.9 126.48h1v1h-1zM162.9 126.48h1v1h-1zM170.9 126.48h1v1h-1zM177.9 126.48h1v1h-1zM158.9 127.48h1v1h-1zM167.9 127.48h2v1h-2zM172.9 127.48h1v1h-1zM154.9 128.49h2v1h-2zM161.9 128.49h1v1h-1zM163.9 128.49h1v1h-1zM150.9 129.49h3v1h-3zM160.9 130.49h1v1h-1zM165.9 130.49h1v1h-1zM168.9 130.49h1v1h-1zM152.9 131.5h1v1h-1zM160.9 131.5h1v1h-1zM152.9 132.5h2v1h-2zM155.9 132.5h1v1h-1zM166.9 132.5h2v1h-2zM157.9 133.5h1v1h-1zM161.9 133.5h1v1h-1zM155.9 134.51h1v1h-1zM158.9 134.51h1v1h-1zM159.9 135.51h1v1h-1zM162.9 135.51h1v1h-1zM161.9 136.51h2v1h-2zM154.9 137.52h1v1h-1zM164.9 137.52h1v1h-1zM159.9 139.53h1v1h-1zM146.9 140.53h1v1h-1zM151.9 140.53h1v1h-1zM159.9 140.53h1v1h-1zM151.9 141.53h1v1h-1zM139.9 142.54h1v1h-1zM154.9 142.54h1v1h-1zM147.9 143.54h1v1h-1zM156.9 143.54h1v1h-1zM154.9 144.54h1v1h-1zM156.9 144.54h1v1h-1zM133.9 145.55h1v1h-1zM140.9 145.55h1v1h-1zM145.9 145.55h1v1h-1zM150.9 145.55h1v1h-1zM146.9 146.55h1v1h-1zM129.9 147.55h1v1h-1zM135.9 147.55h1v1h-1zM134.9 148.56h1v1h-1zM138.9 148.56h2v1h-2zM141.9 148.56h1v1h-1zM144.9 148.56h1v1h-1zM146.9 148.56h1v1h-1zM148.9 148.56h1v1h-1zM130.9 149.56h1v1h-1zM134.9 149.56h1v1h-1zM136.9 149.56h1v1h-1zM138.9 149.56h1v1h-1zM142.9 149.56h1v1h-1zM145.9 149.56h1v1h-1zM150.9 149.56h1v1h-1zM129.9 150.56h1v1h-1zM131.9 150.56h1v1h-1zM140.9 150.56h1v1h-1zM143.9 150.56h1v1h-1zM146.9 150.56h1v1h-1zM147.9 151.57h1v1h-1zM151.9 152.57h1v1h-1zM125.9 153.57h1v1h-1zM148.9 153.57h1v1h-1zM152.9 153.57h2v1h-2zM156.9 153.57h1v1h-1zM148.9 155.58h1v1h-1zM151.9 155.58h1v1h-1zM132.9 156.59h1v1h-1zM153.9 156.59h1v1h-1zM157.9 157.59h1v1h-1zM123.9 158.59h2v1h-2zM126.9 158.59h1v1h-1zM156.9 158.59h1v1h-1zM159.9 158.59h1v1h-1zM150.9 159.6h1v1h-1z"/>
<path fill="#663355" d="M148.9 104.4h1v1h-1zM151.9 104.4h2v1h-2zM154.9 104.4h1v1h-1zM157.9 104.4h1v1h-1zM166.9 104.4h1v1h-1zM139.9 105.4h1v1h-1zM143.9 105.4h1v1h-1zM146.9 105.4h1v1h-1zM156.9 105.4h1v1h-1zM159.9 106.41h1v1h-1zM161.9 106.41h1v1h-1zM141.9 107.41h1v1h-1zM148.9 107.41h1v1h-1zM150.9 107.41h2v1h-2zM153.9 107.41h1v1h-1zM158.9 107.41h1v1h-1zM161.9 107.41h1v1h-1zM165.9 107.41h1v1h-1zM142.9 108.41h1v1h-1zM145.9 108.41h1v1h-1zM148.9 108.41h3v1h-3zM154.9 108.41h1v1h-1zM157.9 108.41h1v1h-1zM161.9 108.41h1v1h-1zM144.9 109.42h1v1h-1zM148.9 109.42h1v1h-1zM155.9 109.42h1v1h-1zM158.9 109.42h2v1h-2zM161.9 109.42h1v1h-1zM167.9 109.42h1v1h-1zM138.9 110.42h1v1h-1zM151.9 110.42h1v1h-1zM155.9 110.42h3v1h-3zM159.9 110.42h1v1h-1zM179.9 110.42h1v1h-1zM149.9 111.43h1v1h-1zM153.9 111.43h2v1h-2zM156.9 112.43h1v1h-1zM162.9 112.43h1v1h-1zM132.9 113.43h1v1h-1zM145.9 113.43h2v1h-2zM152.9 114.44h1v1h-1zM131.9 115.44h1v1h-1zM152.9 115.44h1v1h-1zM156.9 115.44h1v1h-1zM162.9 115.44h1v1h-1zM168.9 115.44h1v1h-1zM177.9 115.44h1v1h-1zM155.9 116.44h3v1h-3zM173.9 116.44h1v1h-1zM131.9 117.45h2v1h-2zM134.9 117.45h1v1h-1zM157.9 117.45h1v1h-1zM174.9 117.45h1v1h-1zM127.9 118.45h1v1h-1zM163.9 120.46h1v1h-1zM155.9 121.46h1v1h-1zM170.9 121.46h1v1h-1zM155.9 135.51h1v1h-1zM141.9 145.55h1v1h-1zM143.9 147.55h1v1h-1zM143.9 148.56h1v1h-1zM136.9 150.56h1v1h-1zM131.9 151.57h1v1h-1zM134.9 151.57h1v1h-1zM136.9 151.57h1v1h-1zM138.9 151.57h1v1h-1zM131.9 152.57h1v1h-1zM135.9 152.57h1v1h-1zM142.9 152.57h2v1h-2zM133.9 153.57h1v1h-1zM142.9 153.57h1v1h-1zM131.9 154.58h1v1h-1zM135.9 154.58h1v1h-1zM132.9 155.58h1v1h-1zM139.9 155.58h2v1h-2zM152.9 155.58h1v1h-1zM130.9 156.59h1v1h-1zM129.9 157.59h1v1h-1zM132.9 157.59h1v1h-1zM132.9 159.6h2v1h-2zM155.9 159.6h2v1h-2z"/>
<path fill="#882244" d="M149.9 104.4h1v1h-1zM138.9 107.41h1v1h-1zM127.9 110.42h1v1h-1zM129.9 111.43h1v1h-1zM124.9 117.45h1v1h-1z"/>
<path fill="#553355" d="M150.9 104.4h1v1h-1zM158.9 104.4h1v1h-1zM160.9 104.4h1v1h-1zM130.9 105.4h1v1h-1zM140.9 105.4h1v1h-1zM145.9 105.4h1v1h-1zM157.9 105.4h1v1h-1zM141.9 106.41h1v1h-1zM146.9 106.41h1v1h-1zM150.9 106.41h1v1h-1zM145.9 107.41h1v1h-1zM154.9 107.41h1v1h-1zM156.9 107.41h2v1h-2zM151.9 108.41h1v1h-1zM158.9 108.41h1v1h-1zM154.9 109.42h1v1h-1zM136.9 110.42h2v1h-2zM139.9 110.42h1v1h-1zM152.9 110.42h1v1h-1zM133.9 111.43h1v1h-1zM156.9 111.43h1v1h-1zM133.9 112.43h1v1h-1zM155.9 112.43h1v1h-1zM130.9 115.44h1v1h-1zM123.9 116.44h1v1h-1zM127.9 116.44h1v1h-1zM130.9 116.44h1v1h-1zM152.9 116.44h1v1h-1zM123.9 117.45h1v1h-1zM127.9 117.45h2v1h-2zM155.9 117.45h2v1h-2zM123.9 118.45h2v1h-2zM126.9 118.45h1v1h-1zM156.9 118.45h1v1h-1zM173.9 118.45h1v1h-1zM124.9 119.45h1v1h-1zM123.9 120.46h2v1h-2zM155.9 120.46h1v1h-1zM137.9 150.56h1v1h-1zM137.9 151.57h1v1h-1zM139.9 151.57h2v1h-2zM139.9 152.57h1v1h-1zM145.9 152.57h1v1h-1zM129.9 153.57h2v1h-2zM143.9 153.57h2v1h-2zM130.9 154.58h1v1h-1zM132.9 154.58h1v1h-1zM134.9 154.58h1v1h-1zM138.9 154.58h2v1h-2zM130.9 155.58h2v1h-2zM133.9 155.58h1v1h-1zM131.9 156.59h1v1h-1zM140.9 156.59h1v1h-1zM131.9 157.59h1v1h-1zM135.9 157.59h1v1h-1zM131.9 158.59h3v1h-3zM131.9 159.6h1v1h-1zM151.9 159.6h1v1h-1zM154.9 159.6h1v1h-1z"/>
<path fill="#443344" d="M159.9 104.4h1v1h-1zM129.9 116.44h1v1h-1z"/>
<path fill="#774455" d="M167.9 104.4h2v1h-2zM175.9 105.4h1v1h-1zM170.9 106.41h2v1h-2zM166.9 107.41h1v1h-1zM170.9 107.41h5v1h-5zM182.9 107.41h1v1h-1zM160.9 108.41h1v1h-1zM178.9 108.41h1v1h-1zM169.9 109.42h2v1h-2zM172.9 109.42h1v1h-1zM182.9 109.42h1v1h-1zM165.9 110.42h1v1h-1zM168.9 110.42h1v1h-1zM178.9 110.42h1v1h-1zM182.9 110.42h1v1h-1zM158.9 111.43h2v1h-2zM178.9 111.43h1v1h-1zM139.9 112.43h2v1h-2zM142.9 112.43h2v1h-2zM149.9 112.43h1v1h-1zM160.9 112.43h1v1h-1zM164.9 112.43h2v1h-2zM178.9 112.43h4v1h-4zM137.9 113.43h1v1h-1zM141.9 113.43h1v1h-1zM160.9 113.43h2v1h-2zM170.9 113.43h1v1h-1zM137.9 114.44h1v1h-1zM144.9 114.44h1v1h-1zM150.9 114.44h1v1h-1zM155.9 114.44h1v1h-1zM171.9 114.44h1v1h-1zM178.9 114.44h1v1h-1zM180.9 114.44h2v1h-2zM142.9 115.44h1v1h-1zM149.9 115.44h1v1h-1zM158.9 115.44h1v1h-1zM170.9 115.44h1v1h-1zM182.9 115.44h1v1h-1zM138.9 116.44h2v1h-2zM147.9 116.44h2v1h-2zM158.9 116.44h1v1h-1zM161.9 116.44h1v1h-1zM175.9 116.44h1v1h-1zM178.9 116.44h1v1h-1zM139.9 117.45h2v1h-2zM152.9 117.45h1v1h-1zM164.9 117.45h2v1h-2zM168.9 117.45h1v1h-1zM175.9 117.45h1v1h-1zM178.9 117.45h1v1h-1zM135.9 118.45h1v1h-1zM151.9 118.45h1v1h-1zM161.9 118.45h2v1h-2zM178.9 118.45h1v1h-1zM181.9 118.45h1v1h-1zM135.9 119.45h2v1h-2zM147.9 119.45h2v1h-2zM151.9 119.45h3v1h-3zM156.9 119.45h3v1h-3zM168.9 119.45h1v1h-1zM176.9 119.45h1v1h-1zM180.9 119.45h2v1h-2zM126.9 120.46h1v1h-1zM129.9 120.46h1v1h-1zM153.9 120.46h1v1h-1zM156.9 120.46h2v1h-2zM159.9 120.46h1v1h-1zM174.9 120.46h1v1h-1zM176.9 120.46h1v1h-1zM180.9 120.46h3v1h-3zM125.9 121.46h2v1h-2zM130.9 121.46h1v1h-1zM150.9 121.46h1v1h-1zM160.9 121.46h3v1h-3zM164.9 121.46h2v1h-2zM169.9 121.46h1v1h-1zM182.9 121.46h1v1h-1zM124.9 122.46h3v1h-3zM149.9 122.46h2v1h-2zM171.9 122.46h1v1h-1zM179.9 122.46h1v1h-1zM156.9 123.47h1v1h-1zM172.9 123.47h2v1h-2zM151.9 124.47h1v1h-1zM157.9 124.47h2v1h-2zM163.9 124.47h2v1h-2zM168.9 124.47h1v1h-1zM172.9 124.47h1v1h-1zM174.9 124.47h1v1h-1zM182.9 124.47h1v1h-1zM153.9 125.47h1v1h-1zM159.9 125.47h1v1h-1zM169.9 125.47h5v1h-5zM179.9 125.47h1v1h-1zM151.9 126.48h1v1h-1zM158.9 126.48h2v1h-2zM172.9 126.48h1v1h-1zM178.9 126.48h1v1h-1zM162.9 128.49h1v1h-1zM167.9 128.49h1v1h-1zM153.9 129.49h2v1h-2zM163.9 129.49h2v1h-2zM168.9 129.49h1v1h-1zM150.9 130.49h5v1h-5zM158.9 130.49h1v1h-1zM162.9 130.49h1v1h-1zM154.9 131.5h1v1h-1zM162.9 131.5h1v1h-1zM165.9 131.5h1v1h-1zM154.9 132.5h1v1h-1zM156.9 132.5h2v1h-2zM163.9 132.5h2v1h-2zM154.9 133.5h1v1h-1zM159.9 133.5h1v1h-1zM167.9 133.5h3v1h-3zM153.9 134.51h2v1h-2zM153.9 135.51h2v1h-2zM154.9 136.51h1v1h-1zM157.9 136.51h1v1h-1zM163.9 136.51h1v1h-1zM149.9 138.52h1v1h-1zM153.9 138.52h1v1h-1zM154.9 139.53h1v1h-1zM157.9 139.53h1v1h-1zM164.9 139.53h1v1h-1zM147.9 140.53h1v1h-1zM154.9 140.53h1v1h-1zM157.9 140.53h1v1h-1zM154.9 141.53h3v1h-3zM158.9 141.53h1v1h-1zM147.9 142.54h1v1h-1zM152.9 142.54h1v1h-1zM155.9 142.54h3v1h-3zM138.9 144.54h1v1h-1zM140.9 144.54h1v1h-1zM142.9 144.54h1v1h-1zM147.9 144.54h2v1h-2zM134.9 145.55h1v1h-1zM136.9 145.55h1v1h-1zM138.9 145.55h1v1h-1zM144.9 145.55h1v1h-1zM147.9 145.55h1v1h-1zM149.9 145.55h1v1h-1zM134.9 146.55h3v1h-3zM138.9 146.55h1v1h-1zM142.9 146.55h1v1h-1zM144.9 146.55h1v1h-1zM148.9 146.55h1v1h-1zM130.9 147.55h2v1h-2zM141.9 147.55h1v1h-1zM147.9 147.55h1v1h-1zM150.9 147.55h1v1h-1zM125.9 148.56h1v1h-1zM142.9 148.56h1v1h-1zM152.9 148.56h1v1h-1zM123.9 149.56h1v1h-1zM147.9 149.56h2v1h-2zM151.9 149.56h1v1h-1zM147.9 150.56h2v1h-2zM156.9 150.56h1v1h-1zM124.9 151.57h1v1h-1zM126.9 151.57h1v1h-1zM154.9 151.57h1v1h-1zM156.9 151.57h1v1h-1zM154.9 152.57h1v1h-1zM128.9 153.57h1v1h-1zM132.9 153.57h1v1h-1zM158.9 155.58h1v1h-1zM124.9 156.59h1v1h-1zM127.9 156.59h1v1h-1zM156.9 156.59h2v1h-2zM125.9 157.59h1v1h-1zM158.9 157.59h2v1h-2zM125.9 158.59h1v1h-1z"/>
<path fill="#775555" d="M169.9 104.4h1v1h-1zM178.9 104.4h1v1h-1zM182.9 104.4h1v1h-1zM182.9 105.4h1v1h-1zM174.9 106.41h1v1h-1zM177.9 107.41h1v1h-1zM177.9 108.41h1v1h-1zM143.9 113.43h1v1h-1zM143.9 114.44h1v1h-1zM182.9 114.44h1v1h-1zM139.9 115.44h1v1h-1zM140.9 116.44h1v1h-1zM179.9 126.48h1v1h-1zM178.9 127.48h1v1h-1zM168.9 128.49h1v1h-1zM171.9 128.49h1v1h-1zM171.9 129.49h2v1h-2zM170.9 132.5h1v1h-1zM155.9 139.53h1v1h-1zM155.9 140.53h1v1h-1zM157.9 141.53h1v1h-1zM148.9 142.54h1v1h-1zM158.9 142.54h1v1h-1zM134.9 143.54h2v1h-2zM134.9 144.54h1v1h-1zM124.9 146.55h2v1h-2zM123.9 147.55h4v1h-4zM151.9 147.55h1v1h-1zM126.9 148.56h1v1h-1zM125.9 151.57h1v1h-1zM123.9 152.57h1v1h-1zM155.9 152.57h1v1h-1zM123.9 153.57h1v1h-1zM158.9 156.59h2v1h-2z"/>
<path fill="#885555" d="M170.9 104.4h1v1h-1zM176.9 104.4h1v1h-1zM179.9 104.4h1v1h-1zM173.9 105.4h2v1h-2zM173.9 106.41h1v1h-1zM182.9 106.41h1v1h-1zM141.9 114.44h1v1h-1zM138.9 115.44h1v1h-1zM140.9 115.44h2v1h-2zM143.9 115.44h1v1h-1zM141.9 116.44h1v1h-1zM130.9 120.46h1v1h-1zM138.9 120.46h1v1h-1zM144.9 120.46h4v1h-4zM131.9 121.46h1v1h-1zM144.9 121.46h2v1h-2zM144.9 122.46h1v1h-1zM126.9 123.47h1v1h-1zM128.9 123.47h4v1h-4zM182.9 123.47h1v1h-1zM126.9 124.47h3v1h-3zM150.9 124.47h1v1h-1zM128.9 125.47h1v1h-1zM131.9 125.47h1v1h-1zM149.9 125.47h1v1h-1zM149.9 126.48h2v1h-2zM149.9 127.48h1v1h-1zM177.9 127.48h1v1h-1zM179.9 127.48h1v1h-1zM149.9 128.49h1v1h-1zM174.9 128.49h3v1h-3zM180.9 128.49h2v1h-2zM147.9 129.49h2v1h-2zM175.9 129.49h2v1h-2zM182.9 129.49h1v1h-1zM144.9 130.49h1v1h-1zM149.9 130.49h1v1h-1zM171.9 130.49h2v1h-2zM149.9 131.5h2v1h-2zM170.9 131.5h2v1h-2zM148.9 132.5h3v1h-3zM171.9 132.5h1v1h-1zM177.9 132.5h2v1h-2zM150.9 133.5h1v1h-1zM170.9 133.5h3v1h-3zM170.9 134.51h3v1h-3zM182.9 135.51h1v1h-1zM179.9 136.51h1v1h-1zM148.9 137.52h1v1h-1zM153.9 137.52h1v1h-1zM174.9 139.53h1v1h-1zM142.9 140.53h1v1h-1zM161.9 140.53h2v1h-2zM176.9 140.53h1v1h-1zM132.9 141.53h1v1h-1zM137.9 141.53h1v1h-1zM142.9 141.53h2v1h-2zM146.9 141.53h1v1h-1zM148.9 141.53h1v1h-1zM168.9 141.53h2v1h-2zM159.9 142.54h1v1h-1zM133.9 143.54h1v1h-1zM137.9 143.54h1v1h-1zM151.9 143.54h1v1h-1zM158.9 143.54h1v1h-1zM133.9 144.54h1v1h-1zM137.9 144.54h1v1h-1zM162.9 144.54h1v1h-1zM165.9 144.54h1v1h-1zM123.9 145.55h1v1h-1zM153.9 145.55h1v1h-1zM174.9 145.55h1v1h-1zM131.9 146.55h1v1h-1zM152.9 146.55h1v1h-1zM156.9 147.55h1v1h-1zM155.9 148.56h2v1h-2zM166.9 148.56h1v1h-1zM124.9 152.57h1v1h-1zM160.9 154.58h1v1h-1zM159.9 155.58h2v1h-2zM166.9 156.59h2v1h-2zM163.9 157.59h1v1h-1zM166.9 157.59h1v1h-1zM164.9 158.59h1v1h-1zM163.9 159.6h2v1h-2z"/>
<path fill="#884455" d="M173.9 104.4h3v1h-3zM177.9 104.4h1v1h-1zM180.9 104.4h1v1h-1zM170.9 105.4h1v1h-1zM175.9 106.41h1v1h-1zM169.9 107.41h1v1h-1zM176.9 107.41h1v1h-1zM180.9 107.41h1v1h-1zM176.9 108.41h1v1h-1zM179.9 108.41h2v1h-2zM173.9 109.42h1v1h-1zM178.9 109.42h1v1h-1zM169.9 110.42h1v1h-1zM147.9 111.43h1v1h-1zM144.9 112.43h2v1h-2zM181.9 113.43h2v1h-2zM136.9 114.44h1v1h-1zM138.9 114.44h2v1h-2zM149.9 116.44h1v1h-1zM166.9 116.44h1v1h-1zM148.9 117.45h1v1h-1zM177.9 117.45h1v1h-1zM138.9 118.45h2v1h-2zM177.9 118.45h1v1h-1zM146.9 119.45h1v1h-1zM149.9 119.45h1v1h-1zM182.9 119.45h1v1h-1zM131.9 120.46h1v1h-1zM177.9 120.46h1v1h-1zM147.9 121.46h1v1h-1zM153.9 121.46h1v1h-1zM175.9 121.46h1v1h-1zM147.9 122.46h2v1h-2zM151.9 122.46h2v1h-2zM158.9 122.46h1v1h-1zM148.9 123.47h1v1h-1zM151.9 123.47h1v1h-1zM158.9 123.47h1v1h-1zM179.9 123.47h3v1h-3zM149.9 124.47h1v1h-1zM166.9 124.47h1v1h-1zM171.9 124.47h1v1h-1zM179.9 124.47h3v1h-3zM150.9 125.47h1v1h-1zM152.9 125.47h1v1h-1zM154.9 125.47h2v1h-2zM164.9 125.47h1v1h-1zM168.9 125.47h1v1h-1zM154.9 126.48h2v1h-2zM163.9 126.48h1v1h-1zM173.9 126.48h1v1h-1zM176.9 126.48h1v1h-1zM123.9 127.48h1v1h-1zM148.9 127.48h1v1h-1zM176.9 127.48h1v1h-1zM148.9 128.49h1v1h-1zM169.9 128.49h2v1h-2zM172.9 128.49h1v1h-1zM177.9 128.49h1v1h-1zM179.9 128.49h1v1h-1zM149.9 129.49h1v1h-1zM156.9 129.49h1v1h-1zM162.9 129.49h1v1h-1zM165.9 129.49h1v1h-1zM170.9 129.49h1v1h-1zM177.9 129.49h1v1h-1zM181.9 129.49h1v1h-1zM147.9 130.49h1v1h-1zM159.9 130.49h1v1h-1zM170.9 130.49h1v1h-1zM175.9 130.49h1v1h-1zM155.9 131.5h1v1h-1zM161.9 131.5h1v1h-1zM175.9 131.5h1v1h-1zM178.9 131.5h1v1h-1zM151.9 132.5h1v1h-1zM165.9 132.5h1v1h-1zM169.9 132.5h1v1h-1zM163.9 133.5h1v1h-1zM166.9 133.5h1v1h-1zM148.9 134.51h1v1h-1zM159.9 134.51h2v1h-2zM163.9 134.51h1v1h-1zM145.9 135.51h1v1h-1zM152.9 135.51h1v1h-1zM156.9 135.51h1v1h-1zM160.9 135.51h1v1h-1zM163.9 135.51h1v1h-1zM152.9 136.51h2v1h-2zM155.9 136.51h2v1h-2zM164.9 136.51h1v1h-1zM173.9 136.51h1v1h-1zM147.9 137.52h1v1h-1zM149.9 137.52h1v1h-1zM152.9 137.52h1v1h-1zM157.9 137.52h2v1h-2zM150.9 138.52h2v1h-2zM156.9 138.52h2v1h-2zM165.9 138.52h2v1h-2zM145.9 139.53h1v1h-1zM147.9 139.53h1v1h-1zM151.9 139.53h1v1h-1zM153.9 139.53h1v1h-1zM164.9 140.53h1v1h-1zM145.9 141.53h1v1h-1zM147.9 141.53h1v1h-1zM152.9 141.53h2v1h-2zM161.9 141.53h1v1h-1zM143.9 142.54h1v1h-1zM149.9 142.54h1v1h-1zM151.9 142.54h1v1h-1zM165.9 142.54h2v1h-2zM136.9 143.54h1v1h-1zM148.9 143.54h1v1h-1zM152.9 143.54h1v1h-1zM162.9 143.54h1v1h-1zM165.9 143.54h1v1h-1zM131.9 144.54h1v1h-1zM135.9 144.54h1v1h-1zM150.9 144.54h2v1h-2zM129.9 145.55h1v1h-1zM137.9 145.55h1v1h-1zM152.9 145.55h1v1h-1zM137.9 146.55h1v1h-1zM147.9 146.55h1v1h-1zM149.9 146.55h1v1h-1zM151.9 146.55h1v1h-1zM153.9 146.55h2v1h-2zM134.9 147.55h1v1h-1zM152.9 147.55h1v1h-1zM124.9 148.56h1v1h-1zM127.9 148.56h1v1h-1zM154.9 148.56h1v1h-1zM126.9 149.56h1v1h-1zM154.9 149.56h1v1h-1zM123.9 150.56h4v1h-4zM154.9 150.56h1v1h-1zM123.9 151.57h1v1h-1zM155.9 151.57h1v1h-1zM125.9 152.57h2v1h-2zM156.9 152.57h2v1h-2zM124.9 153.57h1v1h-1zM157.9 154.58h3v1h-3zM157.9 155.58h1v1h-1zM123.9 156.59h1v1h-1zM163.9 158.59h1v1h-1z"/>
<path fill="#994455" d="M181.9 104.4h1v1h-1zM146.9 116.44h1v1h-1zM142.9 118.45h1v1h-1zM136.9 120.46h1v1h-1zM139.9 120.46h1v1h-1zM135.9 121.46h1v1h-1zM138.9 121.46h1v1h-1zM146.9 121.46h1v1h-1zM128.9 122.46h2v1h-2zM131.9 122.46h1v1h-1zM143.9 122.46h1v1h-1zM125.9 123.47h1v1h-1zM127.9 123.47h1v1h-1zM170.9 124.47h1v1h-1zM147.9 126.48h2v1h-2zM125.9 128.49h1v1h-1zM182.9 128.49h1v1h-1zM173.9 132.5h1v1h-1zM173.9 133.5h1v1h-1zM177.9 133.5h1v1h-1zM166.9 134.51h1v1h-1zM179.9 134.51h2v1h-2zM182.9 134.51h1v1h-1zM144.9 135.51h1v1h-1zM146.9 135.51h1v1h-1zM148.9 135.51h2v1h-2zM172.9 135.51h1v1h-1zM176.9 135.51h1v1h-1zM142.9 136.51h1v1h-1zM166.9 137.52h1v1h-1zM169.9 137.52h1v1h-1zM144.9 139.53h1v1h-1zM161.9 139.53h1v1h-1zM143.9 140.53h1v1h-1zM168.9 140.53h1v1h-1zM144.9 141.53h1v1h-1zM162.9 141.53h2v1h-2zM129.9 146.55h1v1h-1zM157.9 146.55h1v1h-1zM157.9 147.55h1v1h-1zM155.9 149.56h2v1h-2zM162.9 149.56h2v1h-2zM158.9 152.57h1v1h-1zM161.9 154.58h1v1h-1z"/>
<path fill="#883344" d="M127.9 105.4h1v1h-1zM152.9 105.4h1v1h-1zM154.9 105.4h2v1h-2zM159.9 105.4h1v1h-1zM161.9 105.4h1v1h-1zM167.9 105.4h1v1h-1zM131.9 106.41h1v1h-1zM156.9 106.41h1v1h-1zM158.9 106.41h1v1h-1zM134.9 107.41h1v1h-1zM140.9 107.41h1v1h-1zM144.9 107.41h1v1h-1zM160.9 107.41h1v1h-1zM147.9 108.41h1v1h-1zM153.9 108.41h1v1h-1zM155.9 108.41h1v1h-1zM159.9 108.41h1v1h-1zM166.9 108.41h1v1h-1zM168.9 108.41h1v1h-1zM173.9 108.41h1v1h-1zM139.9 109.42h1v1h-1zM156.9 109.42h1v1h-1zM162.9 109.42h1v1h-1zM165.9 109.42h1v1h-1zM174.9 109.42h1v1h-1zM179.9 109.42h1v1h-1zM146.9 110.42h1v1h-1zM149.9 110.42h2v1h-2zM154.9 110.42h1v1h-1zM158.9 110.42h1v1h-1zM172.9 110.42h3v1h-3zM146.9 111.43h1v1h-1zM157.9 111.43h1v1h-1zM160.9 111.43h1v1h-1zM172.9 111.43h1v1h-1zM176.9 111.43h1v1h-1zM123.9 112.43h1v1h-1zM152.9 112.43h1v1h-1zM159.9 112.43h1v1h-1zM163.9 112.43h1v1h-1zM168.9 112.43h1v1h-1zM173.9 112.43h2v1h-2zM127.9 113.43h1v1h-1zM131.9 113.43h1v1h-1zM135.9 113.43h1v1h-1zM144.9 113.43h1v1h-1zM147.9 113.43h1v1h-1zM150.9 113.43h1v1h-1zM157.9 113.43h3v1h-3zM162.9 113.43h1v1h-1zM164.9 113.43h1v1h-1zM167.9 113.43h1v1h-1zM171.9 113.43h1v1h-1zM174.9 113.43h1v1h-1zM146.9 114.44h1v1h-1zM149.9 114.44h1v1h-1zM159.9 114.44h2v1h-2zM163.9 114.44h2v1h-2zM168.9 114.44h1v1h-1zM173.9 114.44h2v1h-2zM179.9 114.44h1v1h-1zM157.9 115.44h1v1h-1zM167.9 115.44h1v1h-1zM172.9 115.44h1v1h-1zM180.9 115.44h1v1h-1zM124.9 116.44h1v1h-1zM132.9 116.44h1v1h-1zM153.9 116.44h1v1h-1zM159.9 116.44h1v1h-1zM171.9 116.44h1v1h-1zM179.9 116.44h1v1h-1zM138.9 117.45h1v1h-1zM160.9 117.45h1v1h-1zM169.9 117.45h1v1h-1zM181.9 117.45h1v1h-1zM134.9 118.45h1v1h-1zM157.9 118.45h4v1h-4zM164.9 118.45h3v1h-3zM171.9 118.45h2v1h-2zM127.9 119.45h1v1h-1zM164.9 119.45h1v1h-1zM171.9 119.45h1v1h-1zM178.9 119.45h2v1h-2zM125.9 120.46h1v1h-1zM150.9 120.46h1v1h-1zM152.9 120.46h1v1h-1zM161.9 120.46h1v1h-1zM165.9 120.46h2v1h-2zM172.9 120.46h1v1h-1zM127.9 121.46h1v1h-1zM154.9 121.46h1v1h-1zM168.9 121.46h1v1h-1zM178.9 121.46h2v1h-2zM154.9 122.46h1v1h-1zM161.9 122.46h1v1h-1zM163.9 122.46h1v1h-1zM169.9 122.46h1v1h-1zM178.9 122.46h1v1h-1zM123.9 123.47h1v1h-1zM163.9 123.47h1v1h-1zM174.9 123.47h1v1h-1zM176.9 123.47h1v1h-1zM161.9 124.47h2v1h-2zM157.9 125.47h1v1h-1zM162.9 125.47h1v1h-1zM168.9 126.48h1v1h-1zM162.9 127.48h2v1h-2zM156.9 128.49h1v1h-1zM158.9 128.49h1v1h-1zM167.9 130.49h1v1h-1zM159.9 132.5h1v1h-1zM156.9 134.51h1v1h-1zM162.9 137.52h1v1h-1zM159.9 138.52h1v1h-1zM155.9 143.54h1v1h-1zM144.9 144.54h1v1h-1zM146.9 144.54h1v1h-1zM146.9 145.55h1v1h-1zM145.9 146.55h1v1h-1zM140.9 147.55h1v1h-1zM129.9 148.56h1v1h-1zM133.9 148.56h1v1h-1zM135.9 148.56h1v1h-1zM140.9 148.56h1v1h-1zM145.9 148.56h1v1h-1zM147.9 148.56h1v1h-1zM133.9 149.56h1v1h-1zM134.9 150.56h1v1h-1zM138.9 150.56h1v1h-1zM141.9 150.56h2v1h-2zM145.9 150.56h1v1h-1zM150.9 150.56h2v1h-2zM130.9 151.57h1v1h-1zM132.9 151.57h2v1h-2zM150.9 151.57h1v1h-1zM128.9 152.57h2v1h-2zM137.9 152.57h2v1h-2zM147.9 152.57h2v1h-2zM126.9 153.57h1v1h-1zM131.9 153.57h1v1h-1zM135.9 153.57h1v1h-1zM141.9 153.57h1v1h-1zM142.9 154.58h1v1h-1zM149.9 154.58h2v1h-2zM154.9 154.58h1v1h-1zM125.9 155.58h1v1h-1zM127.9 155.58h1v1h-1zM149.9 155.58h1v1h-1zM153.9 155.58h2v1h-2zM128.9 156.59h1v1h-1zM133.9 156.59h1v1h-1zM141.9 156.59h1v1h-1zM154.9 156.59h2v1h-2zM126.9 157.59h1v1h-1zM143.9 157.59h1v1h-1zM151.9 157.59h1v1h-1zM153.9 157.59h1v1h-1zM156.9 157.59h1v1h-1zM128.9 158.59h1v1h-1zM130.9 158.59h1v1h-1zM155.9 158.59h1v1h-1zM123.9 159.6h2v1h-2zM128.9 159.6h1v1h-1zM134.9 159.6h1v1h-1zM158.9 159.6h1v1h-1z"/>
<path fill="#773355" d="M160.9 105.4h1v1h-1zM164.9 105.4h1v1h-1zM160.9 106.41h1v1h-1zM169.9 106.41h1v1h-1zM142.9 107.41h1v1h-1zM141.9 108.41h1v1h-1zM143.9 108.41h2v1h-2zM146.9 108.41h1v1h-1zM152.9 108.41h1v1h-1zM156.9 108.41h1v1h-1zM167.9 110.42h1v1h-1zM162.9 111.43h2v1h-2zM137.9 112.43h1v1h-1zM154.9 112.43h1v1h-1zM157.9 112.43h1v1h-1zM149.9 113.43h1v1h-1zM154.9 113.43h1v1h-1zM169.9 113.43h1v1h-1zM154.9 114.44h1v1h-1zM161.9 114.44h2v1h-2zM153.9 115.44h1v1h-1zM160.9 115.44h1v1h-1zM164.9 115.44h1v1h-1zM174.9 116.44h1v1h-1zM153.9 117.45h1v1h-1zM161.9 117.45h1v1h-1zM128.9 118.45h1v1h-1zM132.9 118.45h1v1h-1zM166.9 119.45h1v1h-1zM127.9 120.46h1v1h-1zM170.9 120.46h2v1h-2zM123.9 121.46h1v1h-1zM156.9 121.46h1v1h-1zM123.9 122.46h1v1h-1zM170.9 122.46h1v1h-1zM160.9 132.5h1v1h-1zM164.9 138.52h1v1h-1zM143.9 146.55h1v1h-1zM144.9 147.55h1v1h-1zM146.9 147.55h1v1h-1zM129.9 149.56h1v1h-1zM149.9 151.57h1v1h-1zM130.9 152.57h1v1h-1zM129.9 156.59h1v1h-1zM127.9 157.59h2v1h-2zM130.9 157.59h1v1h-1zM154.9 157.59h1v1h-1zM129.9 158.59h1v1h-1zM154.9 158.59h1v1h-1z"/>
<path fill="#884444" d="M166.9 105.4h1v1h-1zM169.9 105.4h1v1h-1zM166.9 106.41h1v1h-1zM181.9 107.41h1v1h-1zM170.9 108.41h1v1h-1zM172.9 108.41h1v1h-1zM182.9 108.41h1v1h-1zM163.9 109.42h1v1h-1zM166.9 109.42h1v1h-1zM171.9 109.42h1v1h-1zM145.9 110.42h1v1h-1zM170.9 110.42h2v1h-2zM144.9 111.43h1v1h-1zM175.9 111.43h1v1h-1zM180.9 111.43h2v1h-2zM138.9 112.43h1v1h-1zM147.9 112.43h2v1h-2zM169.9 112.43h1v1h-1zM172.9 112.43h1v1h-1zM138.9 113.43h1v1h-1zM180.9 113.43h1v1h-1zM145.9 114.44h1v1h-1zM157.9 114.44h1v1h-1zM136.9 116.44h2v1h-2zM165.9 116.44h1v1h-1zM169.9 116.44h1v1h-1zM182.9 116.44h1v1h-1zM136.9 117.45h1v1h-1zM149.9 117.45h1v1h-1zM162.9 117.45h2v1h-2zM170.9 117.45h1v1h-1zM136.9 118.45h1v1h-1zM148.9 118.45h2v1h-2zM163.9 118.45h1v1h-1zM167.9 118.45h2v1h-2zM176.9 118.45h1v1h-1zM182.9 118.45h1v1h-1zM145.9 119.45h1v1h-1zM167.9 119.45h1v1h-1zM177.9 119.45h1v1h-1zM160.9 120.46h1v1h-1zM129.9 121.46h1v1h-1zM149.9 121.46h1v1h-1zM172.9 121.46h1v1h-1zM181.9 121.46h1v1h-1zM153.9 122.46h1v1h-1zM155.9 122.46h1v1h-1zM149.9 123.47h1v1h-1zM152.9 123.47h1v1h-1zM178.9 123.47h1v1h-1zM155.9 124.47h1v1h-1zM167.9 124.47h1v1h-1zM169.9 124.47h1v1h-1zM176.9 124.47h1v1h-1zM123.9 125.47h1v1h-1zM160.9 125.47h1v1h-1zM174.9 125.47h1v1h-1zM153.9 126.48h1v1h-1zM169.9 126.48h1v1h-1zM171.9 126.48h1v1h-1zM153.9 127.48h1v1h-1zM159.9 127.48h1v1h-1zM123.9 128.49h1v1h-1zM153.9 128.49h1v1h-1zM155.9 129.49h1v1h-1zM157.9 129.49h2v1h-2zM166.9 129.49h1v1h-1zM151.9 131.5h1v1h-1zM153.9 131.5h1v1h-1zM158.9 131.5h1v1h-1zM158.9 132.5h1v1h-1zM161.9 132.5h2v1h-2zM160.9 133.5h1v1h-1zM157.9 135.51h2v1h-2zM150.9 136.51h1v1h-1zM158.9 136.51h3v1h-3zM159.9 137.52h1v1h-1zM154.9 138.52h1v1h-1zM158.9 138.52h1v1h-1zM160.9 138.52h1v1h-1zM158.9 139.53h1v1h-1zM153.9 140.53h1v1h-1zM149.9 141.53h1v1h-1zM153.9 142.54h1v1h-1zM139.9 144.54h1v1h-1zM143.9 144.54h1v1h-1zM149.9 144.54h1v1h-1zM151.9 145.55h1v1h-1zM150.9 146.55h1v1h-1zM133.9 147.55h1v1h-1zM138.9 147.55h1v1h-1zM148.9 147.55h2v1h-2zM130.9 148.56h1v1h-1zM150.9 148.56h1v1h-1zM127.9 149.56h1v1h-1zM152.9 149.56h1v1h-1zM127.9 150.56h1v1h-1zM127.9 152.57h1v1h-1zM127.9 153.57h1v1h-1zM157.9 153.57h1v1h-1zM123.9 154.58h3v1h-3zM153.9 154.58h1v1h-1zM156.9 154.58h1v1h-1zM124.9 155.58h1v1h-1zM125.9 156.59h1v1h-1zM124.9 157.59h1v1h-1zM160.9 158.59h1v1h-1zM160.9 159.6h2v1h-2z"/>
<path fill="#994444" d="M171.9 105.4h2v1h-2zM177.9 105.4h2v1h-2zM172.9 106.41h1v1h-1zM179.9 106.41h1v1h-1zM181.9 106.41h1v1h-1zM179.9 107.41h1v1h-1zM177.9 109.42h1v1h-1zM176.9 110.42h1v1h-1zM144.9 115.44h1v1h-1zM166.9 115.44h1v1h-1zM143.9 116.44h1v1h-1zM145.9 116.44h1v1h-1zM141.9 117.45h1v1h-1zM143.9 117.45h1v1h-1zM145.9 117.45h1v1h-1zM147.9 117.45h1v1h-1zM150.9 117.45h2v1h-2zM167.9 117.45h1v1h-1zM140.9 118.45h1v1h-1zM144.9 118.45h3v1h-3zM179.9 118.45h1v1h-1zM137.9 119.45h1v1h-1zM139.9 119.45h1v1h-1zM141.9 119.45h1v1h-1zM134.9 120.46h1v1h-1zM137.9 120.46h1v1h-1zM168.9 120.46h1v1h-1zM134.9 121.46h1v1h-1zM148.9 121.46h1v1h-1zM173.9 121.46h1v1h-1zM130.9 122.46h1v1h-1zM134.9 122.46h1v1h-1zM160.9 122.46h1v1h-1zM173.9 122.46h1v1h-1zM181.9 122.46h1v1h-1zM132.9 123.47h1v1h-1zM150.9 123.47h1v1h-1zM153.9 123.47h1v1h-1zM155.9 123.47h1v1h-1zM123.9 124.47h1v1h-1zM146.9 124.47h1v1h-1zM154.9 124.47h1v1h-1zM165.9 124.47h1v1h-1zM124.9 125.47h3v1h-3zM167.9 125.47h1v1h-1zM175.9 125.47h2v1h-2zM178.9 125.47h1v1h-1zM123.9 126.48h1v1h-1zM152.9 126.48h1v1h-1zM161.9 126.48h1v1h-1zM180.9 126.48h2v1h-2zM151.9 127.48h2v1h-2zM154.9 127.48h1v1h-1zM169.9 127.48h3v1h-3zM175.9 127.48h1v1h-1zM180.9 127.48h2v1h-2zM152.9 128.49h1v1h-1zM164.9 128.49h1v1h-1zM166.9 128.49h1v1h-1zM173.9 128.49h1v1h-1zM178.9 128.49h1v1h-1zM123.9 129.49h1v1h-1zM173.9 129.49h1v1h-1zM178.9 129.49h3v1h-3zM145.9 130.49h1v1h-1zM148.9 130.49h1v1h-1zM157.9 130.49h1v1h-1zM173.9 130.49h1v1h-1zM176.9 130.49h1v1h-1zM178.9 130.49h1v1h-1zM156.9 131.5h1v1h-1zM166.9 131.5h1v1h-1zM169.9 131.5h1v1h-1zM173.9 131.5h1v1h-1zM177.9 131.5h1v1h-1zM174.9 132.5h3v1h-3zM179.9 132.5h1v1h-1zM151.9 133.5h2v1h-2zM162.9 133.5h1v1h-1zM174.9 133.5h1v1h-1zM149.9 134.51h2v1h-2zM161.9 134.51h1v1h-1zM165.9 134.51h1v1h-1zM167.9 134.51h2v1h-2zM174.9 134.51h2v1h-2zM181.9 134.51h1v1h-1zM142.9 135.51h2v1h-2zM150.9 135.51h1v1h-1zM164.9 135.51h1v1h-1zM166.9 135.51h1v1h-1zM147.9 136.51h1v1h-1zM149.9 136.51h1v1h-1zM165.9 136.51h2v1h-2zM146.9 137.52h1v1h-1zM151.9 137.52h1v1h-1zM155.9 137.52h1v1h-1zM160.9 137.52h1v1h-1zM165.9 137.52h1v1h-1zM148.9 138.52h1v1h-1zM152.9 138.52h1v1h-1zM161.9 138.52h1v1h-1zM146.9 139.53h1v1h-1zM152.9 139.53h1v1h-1zM160.9 139.53h1v1h-1zM162.9 139.53h2v1h-2zM165.9 139.53h1v1h-1zM139.9 140.53h2v1h-2zM145.9 140.53h1v1h-1zM148.9 140.53h1v1h-1zM150.9 140.53h1v1h-1zM158.9 140.53h1v1h-1zM167.9 140.53h1v1h-1zM138.9 141.53h1v1h-1zM150.9 141.53h1v1h-1zM159.9 141.53h1v1h-1zM164.9 141.53h1v1h-1zM166.9 141.53h2v1h-2zM133.9 142.54h1v1h-1zM136.9 142.54h2v1h-2zM144.9 142.54h1v1h-1zM146.9 142.54h1v1h-1zM140.9 143.54h2v1h-2zM144.9 143.54h1v1h-1zM153.9 143.54h2v1h-2zM157.9 143.54h1v1h-1zM164.9 143.54h1v1h-1zM132.9 144.54h1v1h-1zM136.9 144.54h1v1h-1zM166.9 144.54h1v1h-1zM124.9 145.55h2v1h-2zM130.9 145.55h1v1h-1zM132.9 145.55h1v1h-1zM139.9 145.55h1v1h-1zM148.9 145.55h1v1h-1zM154.9 145.55h1v1h-1zM156.9 145.55h2v1h-2zM162.9 145.55h1v1h-1zM126.9 146.55h1v1h-1zM130.9 146.55h1v1h-1zM132.9 146.55h1v1h-1zM155.9 146.55h1v1h-1zM127.9 147.55h1v1h-1zM132.9 147.55h1v1h-1zM160.9 147.55h1v1h-1zM153.9 148.56h1v1h-1zM157.9 148.56h1v1h-1zM160.9 148.56h1v1h-1zM162.9 148.56h1v1h-1zM149.9 149.56h1v1h-1zM152.9 150.56h2v1h-2zM155.9 150.56h1v1h-1zM157.9 150.56h1v1h-1zM159.9 150.56h1v1h-1zM153.9 151.57h1v1h-1zM157.9 151.57h1v1h-1zM155.9 153.57h1v1h-1zM158.9 153.57h2v1h-2zM161.9 153.57h1v1h-1zM162.9 156.59h1v1h-1zM161.9 158.59h1v1h-1zM162.9 159.6h1v1h-1z"/>
<path fill="#aa4444" d="M176.9 105.4h1v1h-1zM179.9 105.4h2v1h-2zM176.9 106.41h1v1h-1zM178.9 106.41h1v1h-1zM180.9 106.41h1v1h-1zM140.9 114.44h1v1h-1zM142.9 116.44h1v1h-1zM142.9 117.45h1v1h-1zM144.9 117.45h1v1h-1zM146.9 117.45h1v1h-1zM166.9 117.45h1v1h-1zM143.9 118.45h1v1h-1zM138.9 119.45h1v1h-1zM143.9 120.46h1v1h-1zM137.9 121.46h1v1h-1zM140.9 121.46h1v1h-1zM132.9 122.46h1v1h-1zM137.9 122.46h1v1h-1zM140.9 122.46h1v1h-1zM134.9 123.47h1v1h-1zM136.9 123.47h1v1h-1zM138.9 123.47h1v1h-1zM140.9 123.47h1v1h-1zM171.9 123.47h1v1h-1zM129.9 124.47h1v1h-1zM132.9 124.47h2v1h-2zM136.9 124.47h1v1h-1zM141.9 124.47h1v1h-1zM145.9 124.47h1v1h-1zM147.9 124.47h1v1h-1zM133.9 125.47h2v1h-2zM136.9 125.47h1v1h-1zM139.9 125.47h1v1h-1zM143.9 125.47h1v1h-1zM146.9 125.47h1v1h-1zM148.9 125.47h1v1h-1zM128.9 126.48h1v1h-1zM182.9 126.48h1v1h-1zM125.9 127.48h2v1h-2zM128.9 127.48h1v1h-1zM131.9 127.48h1v1h-1zM143.9 127.48h1v1h-1zM146.9 127.48h1v1h-1zM127.9 128.49h1v1h-1zM130.9 128.49h1v1h-1zM143.9 128.49h1v1h-1zM147.9 128.49h1v1h-1zM124.9 129.49h2v1h-2zM169.9 129.49h1v1h-1zM123.9 130.49h2v1h-2zM140.9 130.49h2v1h-2zM146.9 130.49h1v1h-1zM181.9 130.49h1v1h-1zM139.9 131.5h1v1h-1zM143.9 131.5h1v1h-1zM145.9 131.5h1v1h-1zM176.9 131.5h1v1h-1zM181.9 131.5h2v1h-2zM181.9 132.5h2v1h-2zM145.9 133.5h1v1h-1zM149.9 133.5h1v1h-1zM165.9 133.5h1v1h-1zM176.9 133.5h1v1h-1zM124.9 134.51h1v1h-1zM147.9 134.51h1v1h-1zM162.9 134.51h1v1h-1zM124.9 135.51h1v1h-1zM165.9 135.51h1v1h-1zM175.9 135.51h1v1h-1zM177.9 135.51h1v1h-1zM180.9 135.51h1v1h-1zM143.9 136.51h4v1h-4zM148.9 136.51h1v1h-1zM170.9 136.51h1v1h-1zM172.9 136.51h1v1h-1zM182.9 136.51h1v1h-1zM140.9 137.52h1v1h-1zM150.9 137.52h1v1h-1zM156.9 137.52h1v1h-1zM167.9 137.52h1v1h-1zM170.9 137.52h2v1h-2zM180.9 137.52h1v1h-1zM141.9 138.52h2v1h-2zM147.9 138.52h1v1h-1zM155.9 138.52h1v1h-1zM181.9 138.52h1v1h-1zM130.9 139.53h1v1h-1zM136.9 139.53h1v1h-1zM141.9 139.53h1v1h-1zM148.9 139.53h1v1h-1zM150.9 139.53h1v1h-1zM167.9 139.53h1v1h-1zM169.9 139.53h1v1h-1zM133.9 140.53h1v1h-1zM136.9 140.53h1v1h-1zM138.9 140.53h1v1h-1zM144.9 140.53h1v1h-1zM149.9 140.53h1v1h-1zM163.9 140.53h1v1h-1zM177.9 140.53h1v1h-1zM134.9 141.53h1v1h-1zM141.9 141.53h1v1h-1zM178.9 141.53h1v1h-1zM125.9 142.54h1v1h-1zM145.9 142.54h1v1h-1zM162.9 142.54h1v1h-1zM167.9 142.54h1v1h-1zM145.9 143.54h1v1h-1zM160.9 143.54h1v1h-1zM166.9 143.54h1v1h-1zM173.9 143.54h1v1h-1zM123.9 144.54h1v1h-1zM128.9 144.54h3v1h-3zM160.9 144.54h2v1h-2zM168.9 144.54h1v1h-1zM172.9 144.54h2v1h-2zM126.9 145.55h2v1h-2zM158.9 145.55h2v1h-2zM164.9 145.55h2v1h-2zM164.9 146.55h1v1h-1zM172.9 146.55h1v1h-1zM128.9 147.55h1v1h-1zM155.9 147.55h1v1h-1zM159.9 147.55h1v1h-1zM158.9 148.56h1v1h-1zM165.9 148.56h1v1h-1zM159.9 149.56h2v1h-2zM164.9 149.56h1v1h-1zM172.9 149.56h1v1h-1zM164.9 150.56h2v1h-2zM159.9 152.57h3v1h-3zM163.9 152.57h1v1h-1zM166.9 152.57h1v1h-1zM160.9 153.57h1v1h-1zM169.9 153.57h1v1h-1zM165.9 155.58h1v1h-1zM165.9 156.59h1v1h-1zM167.9 159.6h1v1h-1z"/>
<path fill="#aa3344" d="M181.9 105.4h1v1h-1zM175.9 107.41h1v1h-1zM140.9 108.41h1v1h-1zM174.9 108.41h1v1h-1zM181.9 108.41h1v1h-1zM146.9 109.42h2v1h-2zM176.9 109.42h1v1h-1zM175.9 110.42h1v1h-1zM177.9 110.42h1v1h-1zM161.9 111.43h1v1h-1zM170.9 111.43h2v1h-2zM171.9 112.43h1v1h-1zM136.9 113.43h1v1h-1zM140.9 113.43h1v1h-1zM148.9 113.43h1v1h-1zM173.9 113.43h1v1h-1zM177.9 113.43h2v1h-2zM165.9 114.44h1v1h-1zM167.9 114.44h1v1h-1zM172.9 114.44h1v1h-1zM136.9 115.44h1v1h-1zM145.9 115.44h1v1h-1zM148.9 115.44h1v1h-1zM165.9 115.44h1v1h-1zM174.9 115.44h1v1h-1zM172.9 117.45h1v1h-1zM182.9 117.45h1v1h-1zM129.9 118.45h1v1h-1zM137.9 118.45h1v1h-1zM141.9 118.45h1v1h-1zM147.9 118.45h1v1h-1zM150.9 118.45h1v1h-1zM169.9 118.45h1v1h-1zM180.9 118.45h1v1h-1zM129.9 119.45h2v1h-2zM134.9 119.45h1v1h-1zM140.9 119.45h1v1h-1zM144.9 119.45h1v1h-1zM150.9 119.45h1v1h-1zM159.9 119.45h1v1h-1zM161.9 119.45h2v1h-2zM170.9 119.45h1v1h-1zM148.9 120.46h1v1h-1zM151.9 120.46h1v1h-1zM128.9 121.46h1v1h-1zM151.9 121.46h2v1h-2zM166.9 121.46h1v1h-1zM174.9 121.46h1v1h-1zM180.9 121.46h1v1h-1zM138.9 122.46h1v1h-1zM145.9 122.46h1v1h-1zM168.9 122.46h1v1h-1zM175.9 122.46h1v1h-1zM180.9 122.46h1v1h-1zM182.9 122.46h1v1h-1zM124.9 123.47h1v1h-1zM133.9 123.47h1v1h-1zM146.9 123.47h1v1h-1zM154.9 123.47h1v1h-1zM160.9 123.47h1v1h-1zM165.9 123.47h1v1h-1zM167.9 123.47h1v1h-1zM170.9 123.47h1v1h-1zM124.9 124.47h1v1h-1zM152.9 124.47h2v1h-2zM160.9 124.47h1v1h-1zM178.9 124.47h1v1h-1zM156.9 125.47h1v1h-1zM180.9 125.47h3v1h-3zM157.9 126.48h1v1h-1zM174.9 126.48h2v1h-2zM147.9 127.48h1v1h-1zM150.9 127.48h1v1h-1zM155.9 127.48h1v1h-1zM161.9 127.48h1v1h-1zM182.9 127.48h1v1h-1zM124.9 128.49h1v1h-1zM157.9 128.49h1v1h-1zM165.9 128.49h1v1h-1zM155.9 130.49h2v1h-2zM161.9 130.49h1v1h-1zM166.9 130.49h1v1h-1zM169.9 130.49h1v1h-1zM174.9 130.49h1v1h-1zM177.9 130.49h1v1h-1zM179.9 130.49h2v1h-2zM182.9 130.49h1v1h-1zM157.9 131.5h1v1h-1zM159.9 131.5h1v1h-1zM174.9 131.5h1v1h-1zM168.9 132.5h1v1h-1zM180.9 132.5h1v1h-1zM148.9 133.5h1v1h-1zM153.9 133.5h1v1h-1zM155.9 133.5h1v1h-1zM164.9 133.5h1v1h-1zM175.9 133.5h1v1h-1zM179.9 133.5h1v1h-1zM144.9 134.51h2v1h-2zM152.9 134.51h1v1h-1zM164.9 134.51h1v1h-1zM169.9 134.51h1v1h-1zM161.9 135.51h1v1h-1zM151.9 136.51h1v1h-1zM168.9 136.51h2v1h-2zM161.9 137.52h1v1h-1zM145.9 138.52h2v1h-2zM162.9 138.52h1v1h-1zM167.9 138.52h1v1h-1zM166.9 139.53h1v1h-1zM152.9 140.53h1v1h-1zM160.9 140.53h1v1h-1zM160.9 141.53h1v1h-1zM165.9 141.53h1v1h-1zM142.9 142.54h1v1h-1zM150.9 142.54h1v1h-1zM163.9 142.54h2v1h-2zM138.9 143.54h2v1h-2zM143.9 143.54h1v1h-1zM149.9 143.54h2v1h-2zM168.9 143.54h2v1h-2zM145.9 144.54h1v1h-1zM152.9 144.54h2v1h-2zM155.9 145.55h1v1h-1zM133.9 146.55h1v1h-1zM137.9 147.55h1v1h-1zM139.9 147.55h1v1h-1zM153.9 147.55h2v1h-2zM158.9 147.55h1v1h-1zM128.9 148.56h1v1h-1zM131.9 148.56h2v1h-2zM136.9 148.56h1v1h-1zM149.9 148.56h1v1h-1zM159.9 148.56h1v1h-1zM124.9 149.56h2v1h-2zM128.9 149.56h1v1h-1zM135.9 149.56h1v1h-1zM153.9 149.56h1v1h-1zM157.9 149.56h1v1h-1zM130.9 150.56h1v1h-1zM133.9 150.56h1v1h-1zM135.9 150.56h1v1h-1zM139.9 150.56h1v1h-1zM158.9 150.56h1v1h-1zM127.9 151.57h1v1h-1zM129.9 151.57h1v1h-1zM132.9 152.57h2v1h-2zM153.9 152.57h1v1h-1zM150.9 153.57h1v1h-1zM126.9 154.58h1v1h-1zM128.9 154.58h1v1h-1zM155.9 154.58h1v1h-1zM164.9 154.58h1v1h-1zM123.9 155.58h1v1h-1zM128.9 155.58h1v1h-1zM156.9 155.58h1v1h-1zM161.9 155.58h1v1h-1zM126.9 156.59h1v1h-1zM161.9 156.59h1v1h-1zM123.9 157.59h1v1h-1zM160.9 157.59h1v1h-1zM162.9 157.59h1v1h-1zM127.9 158.59h1v1h-1zM162.9 158.59h1v1h-1zM129.9 159.6h1v1h-1zM159.9 159.6h1v1h-1z"/>
<path fill="#442255" d="M126.9 106.41h1v1h-1zM144.9 154.58h1v1h-1zM137.9 157.59h1v1h-1zM137.9 158.59h1v1h-1z"/>
<path fill="#664455" d="M145.9 106.41h1v1h-1zM164.9 106.41h2v1h-2zM140.9 109.42h1v1h-1zM168.9 109.42h1v1h-1zM140.9 110.42h2v1h-2zM143.9 110.42h1v1h-1zM139.9 111.43h4v1h-4zM164.9 111.43h4v1h-4zM182.9 111.43h1v1h-1zM141.9 112.43h1v1h-1zM166.9 112.43h2v1h-2zM182.9 112.43h1v1h-1zM142.9 113.43h1v1h-1zM156.9 113.43h1v1h-1zM151.9 114.44h1v1h-1zM170.9 114.44h1v1h-1zM150.9 115.44h1v1h-1zM155.9 115.44h1v1h-1zM159.9 115.44h1v1h-1zM161.9 115.44h1v1h-1zM178.9 115.44h1v1h-1zM150.9 116.44h2v1h-2zM135.9 117.45h1v1h-1zM154.9 117.45h1v1h-1zM152.9 118.45h3v1h-3zM175.9 118.45h1v1h-1zM154.9 119.45h1v1h-1zM172.9 119.45h4v1h-4zM154.9 120.46h1v1h-1zM158.9 120.46h1v1h-1zM164.9 120.46h1v1h-1zM175.9 120.46h1v1h-1zM157.9 121.46h3v1h-3zM163.9 121.46h1v1h-1zM171.9 121.46h1v1h-1zM176.9 121.46h1v1h-1zM157.9 122.46h1v1h-1zM157.9 123.47h1v1h-1zM173.9 124.47h1v1h-1zM151.9 125.47h1v1h-1zM158.9 125.47h1v1h-1zM163.9 125.47h1v1h-1zM167.9 129.49h1v1h-1zM164.9 130.49h1v1h-1zM163.9 131.5h2v1h-2zM156.9 139.53h1v1h-1zM156.9 140.53h1v1h-1zM135.9 145.55h1v1h-1zM142.9 145.55h2v1h-2zM142.9 147.55h1v1h-1zM123.9 148.56h1v1h-1zM151.9 148.56h1v1h-1z"/>
<path fill="#bb3333" d="M167.9 106.41h2v1h-2zM167.9 107.41h1v1h-1zM175.9 108.41h1v1h-1zM147.9 114.44h2v1h-2zM147.9 115.44h1v1h-1zM143.9 119.45h1v1h-1zM139.9 122.46h1v1h-1zM166.9 122.46h2v1h-2zM174.9 122.46h1v1h-1zM141.9 123.47h1v1h-1zM145.9 123.47h1v1h-1zM147.9 125.47h1v1h-1zM166.9 125.47h1v1h-1zM124.9 126.48h1v1h-1zM126.9 126.48h1v1h-1zM165.9 126.48h2v1h-2zM156.9 127.48h2v1h-2zM160.9 127.48h1v1h-1zM166.9 127.48h1v1h-1zM150.9 128.49h1v1h-1zM160.9 128.49h1v1h-1zM160.9 129.49h1v1h-1zM168.9 131.5h1v1h-1zM139.9 133.5h1v1h-1zM180.9 133.5h2v1h-2zM123.9 134.51h1v1h-1zM167.9 135.51h3v1h-3zM139.9 136.51h2v1h-2zM136.9 137.52h1v1h-1zM145.9 137.52h1v1h-1zM134.9 138.52h1v1h-1zM168.9 138.52h1v1h-1zM131.9 139.53h2v1h-2zM134.9 139.53h1v1h-1zM140.9 141.53h1v1h-1zM141.9 142.54h1v1h-1zM169.9 142.54h1v1h-1zM170.9 143.54h2v1h-2zM170.9 144.54h2v1h-2zM158.9 146.55h2v1h-2zM176.9 147.55h1v1h-1zM171.9 148.56h2v1h-2zM131.9 149.56h2v1h-2zM158.9 149.56h1v1h-1zM132.9 150.56h1v1h-1zM152.9 151.57h1v1h-1zM152.9 152.57h1v1h-1zM149.9 153.57h1v1h-1zM163.9 153.57h4v1h-4zM169.9 154.58h1v1h-1zM163.9 155.58h2v1h-2zM161.9 157.59h1v1h-1zM170.9 159.6h1v1h-1z"/>
<path fill="#995555" d="M177.9 106.41h1v1h-1zM142.9 119.45h1v1h-1zM140.9 120.46h2v1h-2zM136.9 121.46h1v1h-1zM142.9 121.46h2v1h-2zM135.9 122.46h2v1h-2zM137.9 123.47h1v1h-1zM144.9 123.47h1v1h-1zM147.9 123.47h1v1h-1zM125.9 124.47h1v1h-1zM130.9 124.47h2v1h-2zM134.9 124.47h1v1h-1zM144.9 124.47h1v1h-1zM148.9 124.47h1v1h-1zM127.9 125.47h1v1h-1zM129.9 125.47h2v1h-2zM144.9 125.47h2v1h-2zM129.9 126.48h3v1h-3zM134.9 126.48h1v1h-1zM140.9 126.48h1v1h-1zM146.9 126.48h1v1h-1zM140.9 127.48h1v1h-1zM145.9 127.48h1v1h-1zM126.9 128.49h1v1h-1zM145.9 128.49h2v1h-2zM126.9 129.49h1v1h-1zM130.9 129.49h1v1h-1zM145.9 129.49h2v1h-2zM174.9 129.49h1v1h-1zM125.9 130.49h1v1h-1zM143.9 130.49h1v1h-1zM124.9 131.5h1v1h-1zM144.9 131.5h1v1h-1zM146.9 131.5h3v1h-3zM172.9 131.5h1v1h-1zM179.9 131.5h1v1h-1zM124.9 132.5h1v1h-1zM128.9 132.5h1v1h-1zM144.9 132.5h2v1h-2zM172.9 132.5h1v1h-1zM144.9 133.5h1v1h-1zM146.9 133.5h2v1h-2zM178.9 133.5h1v1h-1zM146.9 134.51h1v1h-1zM173.9 134.51h1v1h-1zM176.9 134.51h2v1h-2zM147.9 135.51h1v1h-1zM171.9 135.51h1v1h-1zM173.9 135.51h1v1h-1zM178.9 135.51h2v1h-2zM181.9 135.51h1v1h-1zM171.9 136.51h1v1h-1zM178.9 136.51h1v1h-1zM181.9 136.51h1v1h-1zM142.9 137.52h2v1h-2zM172.9 137.52h2v1h-2zM175.9 137.52h1v1h-1zM140.9 138.52h1v1h-1zM143.9 138.52h2v1h-2zM169.9 138.52h4v1h-4zM180.9 138.52h1v1h-1zM129.9 139.53h1v1h-1zM139.9 139.53h2v1h-2zM142.9 139.53h2v1h-2zM149.9 139.53h1v1h-1zM170.9 139.53h1v1h-1zM173.9 139.53h1v1h-1zM175.9 139.53h1v1h-1zM141.9 140.53h1v1h-1zM169.9 140.53h3v1h-3zM133.9 141.53h1v1h-1zM136.9 141.53h1v1h-1zM170.9 141.53h1v1h-1zM172.9 141.53h1v1h-1zM176.9 141.53h1v1h-1zM124.9 142.54h1v1h-1zM131.9 142.54h2v1h-2zM134.9 142.54h2v1h-2zM160.9 142.54h2v1h-2zM171.9 142.54h2v1h-2zM178.9 142.54h1v1h-1zM124.9 143.54h3v1h-3zM129.9 143.54h1v1h-1zM131.9 143.54h2v1h-2zM159.9 143.54h1v1h-1zM163.9 143.54h1v1h-1zM174.9 143.54h1v1h-1zM124.9 144.54h3v1h-3zM163.9 144.54h2v1h-2zM167.9 144.54h1v1h-1zM174.9 144.54h1v1h-1zM131.9 145.55h1v1h-1zM160.9 145.55h1v1h-1zM172.9 145.55h1v1h-1zM156.9 146.55h1v1h-1zM165.9 146.55h2v1h-2zM161.9 147.55h1v1h-1zM165.9 147.55h1v1h-1zM169.9 147.55h2v1h-2zM161.9 148.56h1v1h-1zM163.9 148.56h2v1h-2zM165.9 149.56h2v1h-2zM160.9 150.56h1v1h-1zM163.9 150.56h1v1h-1zM158.9 151.57h3v1h-3zM162.9 152.57h1v1h-1zM162.9 154.58h1v1h-1zM166.9 155.58h1v1h-1zM160.9 156.59h1v1h-1zM163.9 156.59h1v1h-1zM164.9 157.59h2v1h-2zM167.9 158.59h1v1h-1zM165.9 159.6h2v1h-2z"/>
<path fill="#883333" d="M137.9 107.41h1v1h-1z"/>
<path fill="#bb3344" d="M168.9 107.41h1v1h-1zM139.9 108.41h1v1h-1zM146.9 115.44h1v1h-1zM144.9 116.44h1v1h-1zM132.9 121.46h1v1h-1zM139.9 121.46h1v1h-1zM141.9 122.46h2v1h-2zM146.9 122.46h1v1h-1zM135.9 123.47h1v1h-1zM142.9 123.47h1v1h-1zM124.9 127.48h1v1h-1zM174.9 127.48h1v1h-1zM161.9 129.49h1v1h-1zM182.9 133.5h1v1h-1zM151.9 134.51h1v1h-1zM167.9 136.51h1v1h-1zM144.9 137.52h1v1h-1zM168.9 137.52h1v1h-1zM135.9 139.53h1v1h-1zM168.9 139.53h1v1h-1zM132.9 140.53h1v1h-1zM165.9 140.53h1v1h-1zM140.9 142.54h1v1h-1zM142.9 143.54h1v1h-1zM161.9 143.54h1v1h-1zM158.9 144.54h1v1h-1zM128.9 145.55h1v1h-1zM166.9 145.55h1v1h-1zM127.9 146.55h2v1h-2zM162.9 146.55h1v1h-1zM165.9 154.58h1v1h-1zM155.9 155.58h1v1h-1zM162.9 155.58h1v1h-1zM164.9 156.59h1v1h-1z"/>
<path fill="#772233" d="M126.9 109.42h1v1h-1zM126.9 115.44h1v1h-1zM149.9 157.59h1v1h-1zM145.9 159.6h2v1h-2z"/>
<path fill="#332255" d="M132.9 109.42h1v1h-1zM134.9 110.42h1v1h-1zM132.9 111.43h1v1h-1zM129.9 113.43h1v1h-1zM139.9 157.59h1v1h-1z"/>
<path fill="#333355" d="M133.9 109.42h1v1h-1zM133.9 110.42h1v1h-1zM146.9 156.59h1v1h-1z"/>
<path fill="#554455" d="M141.9 109.42h3v1h-3zM142.9 110.42h1v1h-1zM143.9 111.43h1v1h-1zM179.9 111.43h1v1h-1zM155.9 113.43h1v1h-1zM156.9 114.44h1v1h-1zM151.9 115.44h1v1h-1zM155.9 118.45h1v1h-1zM174.9 118.45h1v1h-1zM155.9 119.45h1v1h-1zM124.9 121.46h1v1h-1zM163.9 130.49h1v1h-1zM141.9 144.54h1v1h-1z"/>
<path fill="#665555" d="M142.9 114.44h1v1h-1z"/>
<path fill="#774444" d="M135.9 116.44h1v1h-1zM155.9 157.59h1v1h-1zM158.9 158.59h1v1h-1z"/>
<path fill="#996655" d="M142.9 120.46h1v1h-1zM142.9 125.47h1v1h-1zM142.9 126.48h3v1h-3zM129.9 127.48h1v1h-1zM137.9 127.48h1v1h-1zM141.9 127.48h2v1h-2zM136.9 128.49h1v1h-1zM139.9 128.49h4v1h-4zM141.9 129.49h3v1h-3zM123.9 132.5h1v1h-1zM126.9 132.5h2v1h-2zM178.9 134.51h1v1h-1zM134.9 135.51h1v1h-1zM134.9 136.51h1v1h-1zM174.9 137.52h1v1h-1zM176.9 137.52h1v1h-1zM178.9 137.52h2v1h-2zM138.9 138.52h2v1h-2zM173.9 138.52h3v1h-3zM178.9 138.52h2v1h-2zM137.9 139.53h1v1h-1zM171.9 139.53h2v1h-2zM176.9 139.53h2v1h-2zM180.9 139.53h1v1h-1zM124.9 140.53h1v1h-1zM137.9 140.53h1v1h-1zM174.9 140.53h1v1h-1zM180.9 140.53h2v1h-2zM124.9 141.53h1v1h-1zM127.9 141.53h1v1h-1zM171.9 141.53h1v1h-1zM126.9 142.54h1v1h-1zM174.9 142.54h2v1h-2zM123.9 143.54h1v1h-1zM175.9 143.54h1v1h-1zM173.9 145.55h1v1h-1zM170.9 146.55h1v1h-1zM173.9 146.55h2v1h-2zM166.9 147.55h1v1h-1zM167.9 148.56h1v1h-1zM167.9 150.56h1v1h-1zM172.9 150.56h1v1h-1zM166.9 151.57h1v1h-1zM167.9 152.57h1v1h-1zM169.9 152.57h1v1h-1zM167.9 154.58h1v1h-1zM167.9 155.58h1v1h-1zM168.9 156.59h1v1h-1z"/>
<path fill="#aa5544" d="M141.9 121.46h1v1h-1zM143.9 123.47h1v1h-1zM137.9 124.47h1v1h-1zM139.9 124.47h1v1h-1zM132.9 125.47h1v1h-1zM137.9 125.47h1v1h-1zM127.9 126.48h1v1h-1zM134.9 127.48h1v1h-1zM131.9 128.49h1v1h-1zM131.9 129.49h1v1h-1zM136.9 129.49h2v1h-2zM140.9 131.5h1v1h-1zM142.9 131.5h1v1h-1zM180.9 131.5h1v1h-1zM140.9 132.5h1v1h-1zM142.9 132.5h1v1h-1zM123.9 133.5h1v1h-1zM141.9 133.5h1v1h-1zM143.9 133.5h1v1h-1zM125.9 134.51h1v1h-1zM132.9 134.51h1v1h-1zM137.9 134.51h1v1h-1zM139.9 134.51h1v1h-1zM142.9 134.51h1v1h-1zM174.9 135.51h1v1h-1zM125.9 136.51h1v1h-1zM132.9 136.51h1v1h-1zM138.9 136.51h1v1h-1zM124.9 137.52h2v1h-2zM134.9 137.52h1v1h-1zM181.9 137.52h2v1h-2zM123.9 138.52h1v1h-1zM131.9 138.52h1v1h-1zM124.9 139.53h2v1h-2zM127.9 139.53h1v1h-1zM125.9 140.53h1v1h-1zM127.9 140.53h1v1h-1zM131.9 140.53h1v1h-1zM134.9 140.53h1v1h-1zM129.9 141.53h1v1h-1zM177.9 141.53h1v1h-1zM128.9 142.54h1v1h-1zM179.9 145.55h2v1h-2zM170.9 148.56h1v1h-1zM162.9 151.57h2v1h-2zM162.9 153.57h1v1h-1zM172.9 153.57h1v1h-1zM166.9 154.58h1v1h-1zM168.9 154.58h1v1h-1zM167.9 157.59h1v1h-1z"/>
<path fill="#bb4444" d="M139.9 123.47h1v1h-1zM135.9 124.47h1v1h-1zM138.9 124.47h1v1h-1zM140.9 124.47h1v1h-1zM138.9 125.47h1v1h-1zM140.9 125.47h1v1h-1zM133.9 126.48h1v1h-1zM139.9 126.48h1v1h-1zM133.9 128.49h2v1h-2zM135.9 129.49h1v1h-1zM138.9 129.49h1v1h-1zM136.9 130.49h1v1h-1zM138.9 130.49h1v1h-1zM123.9 131.5h1v1h-1zM139.9 132.5h1v1h-1zM141.9 132.5h1v1h-1zM143.9 132.5h1v1h-1zM124.9 133.5h2v1h-2zM129.9 133.5h1v1h-1zM137.9 133.5h1v1h-1zM140.9 133.5h1v1h-1zM143.9 134.51h1v1h-1zM125.9 135.51h1v1h-1zM132.9 135.51h2v1h-2zM138.9 135.51h1v1h-1zM170.9 135.51h1v1h-1zM141.9 136.51h1v1h-1zM175.9 136.51h2v1h-2zM132.9 137.52h1v1h-1zM135.9 137.52h1v1h-1zM137.9 137.52h1v1h-1zM124.9 138.52h2v1h-2zM130.9 138.52h1v1h-1zM132.9 138.52h1v1h-1zM135.9 138.52h2v1h-2zM123.9 139.53h1v1h-1zM128.9 139.53h1v1h-1zM133.9 139.53h1v1h-1zM126.9 140.53h1v1h-1zM128.9 140.53h1v1h-1zM135.9 140.53h1v1h-1zM173.9 140.53h1v1h-1zM125.9 141.53h1v1h-1zM130.9 141.53h1v1h-1zM135.9 141.53h1v1h-1zM173.9 141.53h1v1h-1zM129.9 142.54h2v1h-2zM179.9 142.54h1v1h-1zM182.9 142.54h1v1h-1zM127.9 143.54h1v1h-1zM172.9 143.54h1v1h-1zM178.9 143.54h1v1h-1zM159.9 144.54h1v1h-1zM169.9 144.54h1v1h-1zM178.9 144.54h1v1h-1zM181.9 144.54h1v1h-1zM163.9 145.55h1v1h-1zM167.9 145.55h1v1h-1zM170.9 145.55h1v1h-1zM160.9 146.55h2v1h-2zM167.9 146.55h1v1h-1zM175.9 146.55h1v1h-1zM162.9 147.55h1v1h-1zM171.9 147.55h1v1h-1zM175.9 147.55h1v1h-1zM178.9 147.55h1v1h-1zM182.9 147.55h1v1h-1zM173.9 148.56h1v1h-1zM171.9 149.56h1v1h-1zM175.9 149.56h2v1h-2zM182.9 149.56h1v1h-1zM162.9 150.56h1v1h-1zM170.9 150.56h1v1h-1zM161.9 151.57h1v1h-1zM164.9 151.57h1v1h-1zM175.9 151.57h1v1h-1zM164.9 152.57h1v1h-1zM173.9 152.57h1v1h-1zM173.9 153.57h1v1h-1zM170.9 154.58h1v1h-1zM168.9 155.58h2v1h-2zM171.9 155.58h2v1h-2zM170.9 156.59h1v1h-1zM170.9 157.59h1v1h-1zM169.9 159.6h1v1h-1z"/>
<path fill="#aa5555" d="M142.9 124.47h2v1h-2zM135.9 125.47h1v1h-1zM141.9 125.47h1v1h-1zM132.9 126.48h1v1h-1zM138.9 126.48h1v1h-1zM127.9 127.48h1v1h-1zM139.9 127.48h1v1h-1zM144.9 127.48h1v1h-1zM128.9 128.49h1v1h-1zM138.9 128.49h1v1h-1zM144.9 128.49h1v1h-1zM127.9 129.49h1v1h-1zM126.9 130.49h1v1h-1zM139.9 130.49h1v1h-1zM142.9 130.49h1v1h-1zM125.9 131.5h1v1h-1zM141.9 131.5h1v1h-1zM125.9 132.5h1v1h-1zM128.9 133.5h1v1h-1zM131.9 133.5h1v1h-1zM142.9 133.5h1v1h-1zM131.9 134.51h1v1h-1zM133.9 134.51h1v1h-1zM141.9 134.51h1v1h-1zM126.9 135.51h1v1h-1zM131.9 135.51h1v1h-1zM137.9 135.51h1v1h-1zM124.9 136.51h1v1h-1zM126.9 136.51h1v1h-1zM131.9 136.51h1v1h-1zM135.9 136.51h1v1h-1zM174.9 136.51h1v1h-1zM177.9 136.51h1v1h-1zM180.9 136.51h1v1h-1zM123.9 137.52h1v1h-1zM131.9 137.52h1v1h-1zM139.9 137.52h1v1h-1zM141.9 137.52h1v1h-1zM138.9 139.53h1v1h-1zM181.9 139.53h1v1h-1zM123.9 140.53h1v1h-1zM129.9 140.53h2v1h-2zM178.9 140.53h1v1h-1zM128.9 141.53h1v1h-1zM127.9 142.54h1v1h-1zM173.9 142.54h1v1h-1zM176.9 142.54h2v1h-2zM128.9 143.54h1v1h-1zM130.9 143.54h1v1h-1zM167.9 143.54h1v1h-1zM176.9 143.54h1v1h-1zM175.9 144.54h1v1h-1zM161.9 145.55h1v1h-1zM168.9 145.55h2v1h-2zM171.9 145.55h1v1h-1zM175.9 145.55h1v1h-1zM178.9 145.55h1v1h-1zM163.9 146.55h1v1h-1zM171.9 146.55h1v1h-1zM164.9 147.55h1v1h-1zM167.9 147.55h1v1h-1zM172.9 147.55h1v1h-1zM169.9 148.56h1v1h-1zM161.9 149.56h1v1h-1zM167.9 149.56h1v1h-1zM161.9 150.56h1v1h-1zM166.9 150.56h1v1h-1zM169.9 150.56h1v1h-1zM170.9 151.57h1v1h-1zM174.9 151.57h1v1h-1zM165.9 152.57h1v1h-1zM167.9 153.57h2v1h-2z"/>
<path fill="#aa6655" d="M135.9 126.48h3v1h-3zM141.9 126.48h1v1h-1zM130.9 127.48h1v1h-1zM132.9 127.48h1v1h-1zM135.9 127.48h1v1h-1zM138.9 127.48h1v1h-1zM129.9 128.49h1v1h-1zM132.9 128.49h1v1h-1zM135.9 128.49h1v1h-1zM137.9 128.49h1v1h-1zM128.9 129.49h2v1h-2zM139.9 129.49h2v1h-2zM127.9 130.49h3v1h-3zM128.9 131.5h1v1h-1zM130.9 131.5h1v1h-1zM138.9 131.5h1v1h-1zM132.9 132.5h1v1h-1zM126.9 133.5h1v1h-1zM132.9 133.5h1v1h-1zM135.9 133.5h2v1h-2zM126.9 134.51h1v1h-1zM130.9 134.51h1v1h-1zM134.9 134.51h1v1h-1zM136.9 134.51h1v1h-1zM140.9 134.51h1v1h-1zM135.9 135.51h2v1h-2zM123.9 136.51h1v1h-1zM127.9 136.51h1v1h-1zM130.9 136.51h1v1h-1zM133.9 136.51h1v1h-1zM136.9 136.51h2v1h-2zM126.9 137.52h1v1h-1zM129.9 137.52h2v1h-2zM138.9 137.52h1v1h-1zM126.9 138.52h1v1h-1zM129.9 138.52h1v1h-1zM137.9 138.52h1v1h-1zM126.9 139.53h1v1h-1zM178.9 139.53h1v1h-1zM172.9 140.53h1v1h-1zM179.9 140.53h1v1h-1zM126.9 141.53h1v1h-1zM131.9 141.53h1v1h-1zM174.9 141.53h1v1h-1zM179.9 141.53h1v1h-1zM182.9 141.53h1v1h-1zM180.9 142.54h2v1h-2zM177.9 143.54h1v1h-1zM182.9 143.54h1v1h-1zM177.9 144.54h1v1h-1zM182.9 144.54h1v1h-1zM176.9 145.55h2v1h-2zM168.9 146.55h1v1h-1zM176.9 146.55h1v1h-1zM178.9 146.55h4v1h-4zM168.9 147.55h1v1h-1zM173.9 147.55h2v1h-2zM179.9 147.55h1v1h-1zM168.9 148.56h1v1h-1zM174.9 148.56h1v1h-1zM169.9 149.56h1v1h-1zM177.9 149.56h1v1h-1zM171.9 150.56h1v1h-1zM174.9 150.56h1v1h-1zM165.9 151.57h1v1h-1zM169.9 151.57h1v1h-1zM171.9 151.57h2v1h-2zM172.9 152.57h1v1h-1zM169.9 156.59h1v1h-1zM168.9 157.59h1v1h-1zM168.9 159.6h1v1h-1z"/>
<path fill="#886655" d="M145.9 126.48h1v1h-1zM144.9 129.49h1v1h-1zM146.9 132.5h2v1h-2zM168.9 152.57h1v1h-1zM165.9 158.59h2v1h-2z"/>
<path fill="#bb5544" d="M133.9 127.48h1v1h-1zM134.9 129.49h1v1h-1zM130.9 130.49h1v1h-1zM135.9 130.49h1v1h-1zM126.9 131.5h1v1h-1zM133.9 131.5h1v1h-1zM129.9 132.5h2v1h-2zM130.9 133.5h1v1h-1zM133.9 133.5h2v1h-2zM128.9 134.51h2v1h-2zM135.9 134.51h1v1h-1zM138.9 134.51h1v1h-1zM141.9 135.51h1v1h-1zM133.9 137.52h1v1h-1zM127.9 138.52h2v1h-2zM181.9 143.54h1v1h-1zM176.9 144.54h1v1h-1zM180.9 144.54h1v1h-1zM181.9 145.55h1v1h-1zM182.9 146.55h1v1h-1zM175.9 148.56h1v1h-1zM178.9 148.56h1v1h-1zM182.9 148.56h1v1h-1zM168.9 149.56h1v1h-1zM170.9 149.56h1v1h-1zM173.9 149.56h1v1h-1zM173.9 151.57h1v1h-1zM174.9 152.57h2v1h-2zM177.9 152.57h1v1h-1zM171.9 153.57h1v1h-1zM170.9 155.58h1v1h-1zM175.9 155.58h1v1h-1zM171.9 156.59h2v1h-2zM171.9 157.59h2v1h-2zM170.9 158.59h1v1h-1z"/>
<path fill="#aa7755" d="M136.9 127.48h1v1h-1zM132.9 129.49h1v1h-1zM127.9 131.5h1v1h-1zM127.9 134.51h1v1h-1zM127.9 135.51h1v1h-1zM130.9 135.51h1v1h-1zM179.9 139.53h1v1h-1zM182.9 139.53h1v1h-1zM182.9 140.53h1v1h-1zM123.9 142.54h1v1h-1zM181.9 147.55h1v1h-1zM168.9 150.56h1v1h-1zM177.9 150.56h1v1h-1zM179.9 151.57h1v1h-1zM170.9 152.57h2v1h-2zM176.9 153.57h1v1h-1z"/>
<path fill="#cc3333" d="M165.9 127.48h1v1h-1zM139.9 135.51h1v1h-1z"/>
<path fill="#bb6644" d="M133.9 129.49h1v1h-1zM135.9 131.5h2v1h-2zM131.9 132.5h1v1h-1zM133.9 132.5h2v1h-2zM136.9 132.5h3v1h-3zM177.9 146.55h1v1h-1zM177.9 148.56h1v1h-1zM176.9 150.56h1v1h-1zM182.9 150.56h1v1h-1zM176.9 151.57h2v1h-2zM180.9 151.57h1v1h-1zM178.9 152.57h2v1h-2zM170.9 153.57h1v1h-1zM171.9 154.58h2v1h-2z"/>
<path fill="#bb7755" d="M131.9 130.49h1v1h-1zM133.9 130.49h2v1h-2zM129.9 131.5h1v1h-1zM132.9 131.5h1v1h-1zM134.9 131.5h1v1h-1zM128.9 135.51h2v1h-2zM179.9 148.56h2v1h-2zM178.9 149.56h2v1h-2zM181.9 149.56h1v1h-1zM179.9 150.56h3v1h-3zM178.9 151.57h1v1h-1zM174.9 153.57h2v1h-2zM177.9 153.57h1v1h-1zM173.9 154.58h1v1h-1zM173.9 155.58h2v1h-2zM173.9 157.59h1v1h-1zM169.9 158.59h1v1h-1zM172.9 158.59h1v1h-1z"/>
<path fill="#bb8855" d="M132.9 130.49h1v1h-1zM180.9 147.55h1v1h-1zM180.9 149.56h1v1h-1zM178.9 150.56h1v1h-1zM174.9 154.58h2v1h-2zM174.9 157.59h1v1h-1zM172.9 159.6h2v1h-2z"/>
<path fill="#bb4433" d="M137.9 130.49h1v1h-1zM138.9 133.5h1v1h-1zM140.9 135.51h1v1h-1zM133.9 138.52h1v1h-1zM179.9 144.54h1v1h-1zM177.9 147.55h1v1h-1z"/>
<path fill="#bb6655" d="M131.9 131.5h1v1h-1zM135.9 132.5h1v1h-1zM128.9 136.51h2v1h-2zM127.9 137.52h2v1h-2zM180.9 143.54h1v1h-1zM182.9 145.55h1v1h-1zM181.9 148.56h1v1h-1zM174.9 149.56h1v1h-1zM173.9 150.56h1v1h-1zM175.9 150.56h1v1h-1zM176.9 152.57h1v1h-1zM169.9 157.59h1v1h-1zM171.9 158.59h1v1h-1z"/>
<path fill="#bb7744" d="M137.9 131.5h1v1h-1zM178.9 155.58h1v1h-1zM182.9 155.58h1v1h-1zM173.9 156.59h1v1h-1zM173.9 158.59h1v1h-1z"/>
<path fill="#996666" d="M127.9 133.5h1v1h-1zM177.9 137.52h1v1h-1zM176.9 138.52h2v1h-2zM175.9 141.53h1v1h-1zM169.9 146.55h1v1h-1z"/>
<path fill="#995544" d="M182.9 138.52h1v1h-1zM163.9 147.55h1v1h-1z"/>
<path fill="#886666" d="M175.9 140.53h1v1h-1z"/>
<path fill="#997755" d="M123.9 141.53h1v1h-1zM180.9 141.53h2v1h-2zM168.9 158.59h1v1h-1z"/>
<path fill="#cc4444" d="M179.9 143.54h1v1h-1zM171.9 159.6h1v1h-1z"/>
<path fill="#aa4455" d="M127.9 144.54h1v1h-1z"/>
<path fill="#775566" d="M123.9 146.55h1v1h-1z"/>
<path fill="#cc4433" d="M176.9 148.56h1v1h-1z"/>
<path fill="#997766" d="M167.9 151.57h2v1h-2z"/>
<path fill="#cc7744" d="M181.9 151.57h2v1h-2zM181.9 152.57h1v1h-1zM178.9 154.58h2v1h-2zM176.9 155.58h2v1h-2zM179.9 155.58h1v1h-1zM181.9 155.58h1v1h-1zM175.9 157.59h4v1h-4zM174.9 158.59h1v1h-1z"/>
<path fill="#cc5544" d="M180.9 152.57h1v1h-1z"/>
<path fill="#cc9944" d="M182.9 152.57h1v1h-1zM181.9 157.59h1v1h-1zM176.9 158.59h1v1h-1zM181.9 158.59h1v1h-1zM176.9 159.6h1v1h-1z"/>
<path fill="#bb8844" d="M178.9 153.57h1v1h-1zM180.9 154.58h1v1h-1z"/>
<path fill="#cc8844" d="M179.9 153.57h2v1h-2zM176.9 154.58h1v1h-1zM181.9 154.58h1v1h-1zM174.9 156.59h1v1h-1zM176.9 156.59h2v1h-2zM179.9 157.59h1v1h-1zM175.9 158.59h1v1h-1z"/>
<path fill="#dd9944" d="M181.9 153.57h2v1h-2zM180.9 158.59h1v1h-1zM181.9 159.6h1v1h-1z"/>
<path fill="#cc6644" d="M177.9 154.58h1v1h-1zM178.9 156.59h1v1h-1z"/>
<path fill="#cc5533" d="M182.9 154.58h1v1h-1zM175.9 156.59h1v1h-1zM182.9 159.6h1v1h-1z"/>
<path fill="#cc6633" d="M180.9 155.58h1v1h-1zM179.9 158.59h1v1h-1z"/>
<path fill="#cc7733" d="M179.9 156.59h1v1h-1zM174.9 159.6h1v1h-1z"/>
<path fill="#dd9933" d="M180.9 156.59h1v1h-1zM177.9 159.6h1v1h-1z"/>
<path fill="#ddaa44" d="M181.9 156.59h1v1h-1zM180.9 157.59h1v1h-1zM180.9 159.6h1v1h-1z"/>
<path fill="#ccaa44" d="M182.9 156.59h1v1h-1z"/>
<path fill="#ddaa33" d="M182.9 157.59h1v1h-1z"/>
<path fill="#dd8833" d="M177.9 158.59h2v1h-2zM182.9 158.59h1v1h-1zM179.9 159.6h1v1h-1z"/>
<path fill="#bb5533" d="M175.9 159.6h1v1h-1z"/>
<path fill="#dd6633" d="M178.9 159.6h1v1h-1z"/>
<rect x="236.4" y="104.6" width="60.6" height="56" fill="#a56633"/>
<path fill="#223388" d="M236.4 104.6h0.99v1h-0.99zM250.31 104.6h0.99v1h-0.99zM259.25 104.6h0.99v1h-0.99zM263.22 104.6h0.99v1h-0.99zM288.06 104.6h0.99v1h-0.99zM236.4 105.6h0.99v1h-0.99zM246.33 105.6h0.99v1h-0.99zM250.31 105.6h0.99v1h-0.99zM259.25 105.6h0.99v1h-0.99zM263.22 105.6h0.99v1h-0.99zM288.06 105.6h0.99v1h-0.99zM236.4 106.6h0.99v1h-0.99zM246.33 106.6h0.99v1h-0.99zM250.31 106.6h0.99v1h-0.99zM254.28 106.6h0.99v1h-0.99zM259.25 106.6h0.99v1h-0.99zM263.22 106.6h0.99v1h-0.99zM288.06 106.6h0.99v1h-0.99zM236.4 107.6h0.99v1h-0.99zM246.33 107.6h0.99v1h-0.99zM250.31 107.6h0.99v1h-0.99zM254.28 107.6h0.99v1h-0.99zM263.22 107.6h0.99v1h-0.99zM288.06 107.6h0.99v1h-0.99zM250.31 108.6h0.99v1h-0.99zM254.28 108.6h0.99v1h-0.99zM259.25 108.6h0.99v1h-0.99zM263.22 108.6h0.99v1h-0.99zM288.06 108.6h0.99v1h-0.99zM236.4 109.6h0.99v1h-0.99zM246.33 109.6h0.99v1h-0.99zM250.31 109.6h0.99v1h-0.99zM254.28 109.6h0.99v1h-0.99zM263.22 109.6h0.99v1h-0.99zM288.06 109.6h0.99v1h-0.99zM236.4 110.6h0.99v1h-0.99zM246.33 110.6h0.99v1h-0.99zM254.28 110.6h0.99v1h-0.99zM259.25 110.6h0.99v1h-0.99zM263.22 110.6h0.99v1h-0.99zM288.06 110.6h0.99v1h-0.99zM246.33 111.6h0.99v1h-0.99zM263.22 111.6h0.99v1h-0.99zM288.06 111.6h0.99v1h-0.99zM246.33 112.6h0.99v1h-0.99zM259.25 112.6h0.99v1h-0.99zM263.22 112.6h0.99v1h-0.99zM288.06 112.6h0.99v1h-0.99zM236.4 113.6h0.99v1h-0.99zM246.33 113.6h0.99v1h-0.99zM250.31 113.6h0.99v1h-0.99zM263.22 113.6h0.99v1h-0.99zM288.06 113.6h0.99v1h-0.99zM236.4 114.6h0.99v1h-0.99zM246.33 114.6h0.99v1h-0.99zM250.31 114.6h0.99v1h-0.99zM263.22 114.6h0.99v1h-0.99zM288.06 114.6h0.99v1h-0.99zM246.33 115.6h0.99v1h-0.99zM250.31 115.6h0.99v1h-0.99zM263.22 115.6h0.99v1h-0.99zM288.06 115.6h0.99v1h-0.99zM246.33 116.6h0.99v1h-0.99zM250.31 116.6h0.99v1h-0.99zM259.25 116.6h0.99v1h-0.99zM263.22 116.6h0.99v1h-0.99zM288.06 116.6h0.99v1h-0.99zM236.4 117.6h0.99v1h-0.99zM246.33 117.6h0.99v1h-0.99zM263.22 117.6h0.99v1h-0.99zM288.06 117.6h0.99v1h-0.99zM236.4 118.6h0.99v1h-0.99zM246.33 118.6h0.99v1h-0.99zM250.31 118.6h0.99v1h-0.99zM288.06 118.6h0.99v1h-0.99zM236.4 119.6h0.99v1h-0.99zM246.33 119.6h0.99v1h-0.99zM250.31 119.6h0.99v1h-0.99zM254.28 119.6h0.99v1h-0.99zM259.25 119.6h0.99v1h-0.99zM288.06 119.6h0.99v1h-0.99zM236.4 120.6h0.99v1h-0.99zM250.31 120.6h0.99v1h-0.99zM259.25 120.6h0.99v1h-0.99zM263.22 120.6h0.99v1h-0.99zM288.06 120.6h0.99v1h-0.99zM236.4 121.6h0.99v1h-0.99zM246.33 121.6h0.99v1h-0.99zM254.28 121.6h0.99v1h-0.99zM259.25 121.6h0.99v1h-0.99zM263.22 121.6h0.99v1h-0.99zM288.06 121.6h0.99v1h-0.99zM254.28 122.6h0.99v1h-0.99zM259.25 122.6h0.99v1h-0.99zM263.22 122.6h0.99v1h-0.99zM288.06 122.6h0.99v1h-0.99zM246.33 123.6h0.99v1h-0.99zM259.25 123.6h0.99v1h-0.99zM263.22 123.6h0.99v1h-0.99zM288.06 123.6h0.99v1h-0.99zM236.4 124.6h0.99v1h-0.99zM250.31 124.6h0.99v1h-0.99zM259.25 124.6h0.99v1h-0.99zM288.06 124.6h0.99v1h-0.99zM236.4 125.6h0.99v1h-0.99zM250.31 125.6h0.99v1h-0.99zM254.28 125.6h0.99v1h-0.99zM259.25 125.6h0.99v1h-0.99zM263.22 125.6h0.99v1h-0.99zM288.06 125.6h0.99v1h-0.99zM236.4 126.6h0.99v1h-0.99zM246.33 126.6h0.99v1h-0.99zM250.31 126.6h0.99v1h-0.99zM259.25 126.6h0.99v1h-0.99zM288.06 126.6h0.99v1h-0.99zM236.4 127.6h0.99v1h-0.99zM246.33 127.6h0.99v1h-0.99zM250.31 127.6h0.99v1h-0.99zM254.28 127.6h0.99v1h-0.99zM259.25 127.6h0.99v1h-0.99zM288.06 127.6h0.99v1h-0.99zM241.37 128.6h0.99v1h-0.99zM246.33 128.6h0.99v1h-0.99zM250.31 128.6h0.99v1h-0.99zM254.28 128.6h0.99v1h-0.99zM259.25 128.6h0.99v1h-0.99zM263.22 128.6h0.99v1h-0.99zM288.06 128.6h0.99v1h-0.99zM236.4 129.6h0.99v1h-0.99zM259.25 129.6h0.99v1h-0.99zM263.22 129.6h0.99v1h-0.99zM288.06 129.6h0.99v1h-0.99zM254.28 130.6h0.99v1h-0.99zM259.25 130.6h0.99v1h-0.99zM288.06 130.6h0.99v1h-0.99zM250.31 131.6h0.99v1h-0.99zM259.25 131.6h0.99v1h-0.99zM288.06 131.6h0.99v1h-0.99zM241.37 132.6h0.99v1h-0.99zM259.25 132.6h0.99v1h-0.99zM263.22 132.6h0.99v1h-0.99zM288.06 132.6h0.99v1h-0.99zM241.37 133.6h0.99v1h-0.99zM250.31 133.6h0.99v1h-0.99zM259.25 133.6h0.99v1h-0.99zM288.06 133.6h0.99v1h-0.99zM259.25 134.6h0.99v1h-0.99zM288.06 134.6h0.99v1h-0.99zM250.31 135.6h0.99v1h-0.99zM254.28 135.6h0.99v1h-0.99zM259.25 135.6h0.99v1h-0.99zM288.06 135.6h0.99v1h-0.99zM250.31 136.6h0.99v1h-0.99zM254.28 136.6h0.99v1h-0.99zM259.25 136.6h0.99v1h-0.99zM263.22 136.6h0.99v1h-0.99zM288.06 136.6h0.99v1h-0.99zM241.37 137.6h0.99v1h-0.99zM250.31 137.6h0.99v1h-0.99zM254.28 137.6h0.99v1h-0.99zM259.25 137.6h0.99v1h-0.99zM263.22 137.6h0.99v1h-0.99zM288.06 137.6h0.99v1h-0.99zM241.37 138.6h0.99v1h-0.99zM254.28 138.6h0.99v1h-0.99zM259.25 138.6h0.99v1h-0.99zM288.06 138.6h0.99v1h-0.99zM254.28 139.6h0.99v1h-0.99zM259.25 139.6h0.99v1h-0.99zM288.06 139.6h0.99v1h-0.99zM236.4 140.6h0.99v1h-0.99zM241.37 140.6h0.99v1h-0.99zM254.28 140.6h0.99v1h-0.99zM259.25 140.6h0.99v1h-0.99zM263.22 140.6h0.99v1h-0.99zM288.06 140.6h0.99v1h-0.99zM241.37 141.6h0.99v1h-0.99zM254.28 141.6h0.99v1h-0.99zM259.25 141.6h0.99v1h-0.99zM263.22 141.6h0.99v1h-0.99zM288.06 141.6h0.99v1h-0.99zM241.37 142.6h0.99v1h-0.99zM254.28 142.6h0.99v1h-0.99zM259.25 142.6h0.99v1h-0.99zM288.06 142.6h0.99v1h-0.99zM250.31 143.6h0.99v1h-0.99zM254.28 143.6h0.99v1h-0.99zM288.06 143.6h0.99v1h-0.99zM241.37 144.6h0.99v1h-0.99zM250.31 144.6h0.99v1h-0.99zM259.25 144.6h0.99v1h-0.99zM288.06 144.6h0.99v1h-0.99zM241.37 145.6h0.99v1h-0.99zM288.06 145.6h0.99v1h-0.99zM241.37 146.6h0.99v1h-0.99zM250.31 146.6h0.99v1h-0.99zM259.25 146.6h0.99v1h-0.99zM288.06 146.6h0.99v1h-0.99zM241.37 147.6h0.99v1h-0.99zM245.34 147.6h0.99v1h-0.99zM250.31 147.6h0.99v1h-0.99zM259.25 147.6h0.99v1h-0.99zM288.06 147.6h0.99v1h-0.99zM241.37 148.6h0.99v1h-0.99zM250.31 148.6h0.99v1h-0.99zM259.25 148.6h0.99v1h-0.99zM288.06 148.6h0.99v1h-0.99zM241.37 149.6h0.99v1h-0.99zM250.31 149.6h0.99v1h-0.99zM254.28 149.6h0.99v1h-0.99zM259.25 149.6h0.99v1h-0.99zM263.22 149.6h0.99v1h-0.99zM288.06 149.6h0.99v1h-0.99zM259.25 150.6h0.99v1h-0.99zM288.06 150.6h0.99v1h-0.99zM241.37 151.6h0.99v1h-0.99zM288.06 151.6h0.99v1h-0.99zM254.28 152.6h0.99v1h-0.99zM259.25 152.6h0.99v1h-0.99zM288.06 152.6h0.99v1h-0.99zM241.37 153.6h0.99v1h-0.99zM254.28 153.6h0.99v1h-0.99zM263.22 153.6h0.99v1h-0.99zM288.06 153.6h0.99v1h-0.99zM241.37 154.6h0.99v1h-0.99zM254.28 154.6h0.99v1h-0.99zM263.22 154.6h0.99v1h-0.99zM288.06 154.6h0.99v1h-0.99zM241.37 155.6h0.99v1h-0.99zM250.31 155.6h0.99v1h-0.99zM254.28 155.6h0.99v1h-0.99zM288.06 155.6h0.99v1h-0.99zM254.28 156.6h0.99v1h-0.99zM259.25 156.6h0.99v1h-0.99zM288.06 156.6h0.99v1h-0.99zM250.31 157.6h0.99v1h-0.99zM254.28 157.6h0.99v1h-0.99zM288.06 157.6h0.99v1h-0.99zM250.31 158.6h0.99v1h-0.99zM254.28 158.6h0.99v1h-0.99zM259.25 158.6h0.99v1h-0.99zM288.06 158.6h0.99v1h-0.99zM250.31 159.6h0.99v1h-0.99zM254.28 159.6h0.99v1h-0.99zM259.25 159.6h0.99v1h-0.99zM288.06 159.6h0.99v1h-0.99z"/>
<path fill="#999933" d="M237.39 104.6h0.99v1h-0.99zM264.22 104.6h0.99v1h-0.99zM275.14 104.6h0.99v1h-0.99zM285.08 104.6h0.99v1h-0.99zM245.34 105.6h0.99v1h-0.99zM275.14 105.6h0.99v1h-0.99zM285.08 105.6h0.99v1h-0.99zM258.26 106.6h0.99v1h-0.99zM275.14 106.6h0.99v1h-0.99zM285.08 106.6h0.99v1h-0.99zM264.22 107.6h0.99v1h-0.99zM275.14 107.6h0.99v1h-0.99zM285.08 107.6h0.99v1h-0.99zM258.26 108.6h0.99v1h-0.99zM264.22 108.6h0.99v1h-0.99zM275.14 108.6h0.99v1h-0.99zM285.08 108.6h0.99v1h-0.99zM251.3 109.6h0.99v1h-0.99zM258.26 109.6h0.99v1h-0.99zM264.22 109.6h0.99v1h-0.99zM275.14 109.6h0.99v1h-0.99zM285.08 109.6h0.99v1h-0.99zM258.26 110.6h0.99v1h-0.99zM275.14 110.6h0.99v1h-0.99zM285.08 110.6h0.99v1h-0.99zM258.26 111.6h0.99v1h-0.99zM264.22 111.6h0.99v1h-0.99zM275.14 111.6h0.99v1h-0.99zM285.08 111.6h0.99v1h-0.99zM237.39 112.6h0.99v1h-0.99zM260.24 112.6h0.99v1h-0.99zM264.22 112.6h0.99v1h-0.99zM275.14 112.6h0.99v1h-0.99zM285.08 112.6h0.99v1h-0.99zM260.24 113.6h0.99v1h-0.99zM275.14 113.6h0.99v1h-0.99zM285.08 113.6h0.99v1h-0.99zM275.14 114.6h0.99v1h-0.99zM285.08 114.6h0.99v1h-0.99zM264.22 115.6h0.99v1h-0.99zM275.14 115.6h0.99v1h-0.99zM285.08 115.6h0.99v1h-0.99zM237.39 116.6h0.99v1h-0.99zM264.22 116.6h0.99v1h-0.99zM275.14 116.6h0.99v1h-0.99zM285.08 116.6h0.99v1h-0.99zM275.14 117.6h0.99v1h-0.99zM285.08 117.6h0.99v1h-0.99zM251.3 118.6h0.99v1h-0.99zM264.22 118.6h0.99v1h-0.99zM275.14 118.6h0.99v1h-0.99zM285.08 118.6h0.99v1h-0.99zM264.22 119.6h0.99v1h-0.99zM275.14 119.6h0.99v1h-0.99zM285.08 119.6h0.99v1h-0.99zM275.14 120.6h0.99v1h-0.99zM285.08 120.6h0.99v1h-0.99zM264.22 121.6h0.99v1h-0.99zM275.14 121.6h0.99v1h-0.99zM285.08 121.6h0.99v1h-0.99zM264.22 122.6h0.99v1h-0.99zM275.14 122.6h0.99v1h-0.99zM285.08 122.6h0.99v1h-0.99zM264.22 123.6h0.99v1h-0.99zM275.14 123.6h0.99v1h-0.99zM285.08 123.6h0.99v1h-0.99zM264.22 124.6h0.99v1h-0.99zM275.14 124.6h0.99v1h-0.99zM285.08 124.6h0.99v1h-0.99zM275.14 125.6h0.99v1h-0.99zM285.08 125.6h0.99v1h-0.99zM275.14 126.6h0.99v1h-0.99zM285.08 126.6h0.99v1h-0.99zM275.14 127.6h0.99v1h-0.99zM285.08 127.6h0.99v1h-0.99zM264.22 128.6h0.99v1h-0.99zM275.14 128.6h0.99v1h-0.99zM285.08 128.6h0.99v1h-0.99zM251.3 129.6h0.99v1h-0.99zM255.28 129.6h0.99v1h-0.99zM275.14 129.6h0.99v1h-0.99zM285.08 129.6h0.99v1h-0.99zM251.3 130.6h0.99v1h-0.99zM255.28 130.6h0.99v1h-0.99zM275.14 130.6h0.99v1h-0.99zM285.08 130.6h0.99v1h-0.99zM264.22 131.6h0.99v1h-0.99zM275.14 131.6h0.99v1h-0.99zM285.08 131.6h0.99v1h-0.99zM264.22 132.6h0.99v1h-0.99zM275.14 132.6h0.99v1h-0.99zM285.08 132.6h0.99v1h-0.99zM264.22 133.6h0.99v1h-0.99zM275.14 133.6h0.99v1h-0.99zM285.08 133.6h0.99v1h-0.99zM255.28 134.6h0.99v1h-0.99zM275.14 134.6h0.99v1h-0.99zM285.08 134.6h0.99v1h-0.99zM255.28 135.6h0.99v1h-0.99zM264.22 135.6h0.99v1h-0.99zM275.14 135.6h0.99v1h-0.99zM285.08 135.6h0.99v1h-0.99zM255.28 136.6h0.99v1h-0.99zM275.14 136.6h0.99v1h-0.99zM285.08 136.6h0.99v1h-0.99zM242.36 137.6h0.99v1h-0.99zM275.14 137.6h0.99v1h-0.99zM285.08 137.6h0.99v1h-0.99zM242.36 138.6h0.99v1h-0.99zM264.22 138.6h0.99v1h-0.99zM275.14 138.6h0.99v1h-0.99zM285.08 138.6h0.99v1h-0.99zM255.28 139.6h0.99v1h-0.99zM264.22 139.6h0.99v1h-0.99zM275.14 139.6h0.99v1h-0.99zM285.08 139.6h0.99v1h-0.99zM255.28 140.6h0.99v1h-0.99zM264.22 140.6h0.99v1h-0.99zM275.14 140.6h0.99v1h-0.99zM285.08 140.6h0.99v1h-0.99zM242.36 141.6h0.99v1h-0.99zM255.28 141.6h0.99v1h-0.99zM264.22 141.6h0.99v1h-0.99zM275.14 141.6h0.99v1h-0.99zM285.08 141.6h0.99v1h-0.99zM264.22 142.6h0.99v1h-0.99zM275.14 142.6h0.99v1h-0.99zM285.08 142.6h0.99v1h-0.99zM255.28 143.6h0.99v1h-0.99zM264.22 143.6h0.99v1h-0.99zM275.14 143.6h0.99v1h-0.99zM285.08 143.6h0.99v1h-0.99zM275.14 144.6h0.99v1h-0.99zM285.08 144.6h0.99v1h-0.99zM275.14 145.6h0.99v1h-0.99zM285.08 145.6h0.99v1h-0.99zM264.22 146.6h0.99v1h-0.99zM275.14 146.6h0.99v1h-0.99zM285.08 146.6h0.99v1h-0.99zM275.14 147.6h0.99v1h-0.99zM285.08 147.6h0.99v1h-0.99zM255.28 148.6h0.99v1h-0.99zM275.14 148.6h0.99v1h-0.99zM285.08 148.6h0.99v1h-0.99zM242.36 149.6h0.99v1h-0.99zM255.28 149.6h0.99v1h-0.99zM264.22 149.6h0.99v1h-0.99zM275.14 149.6h0.99v1h-0.99zM285.08 149.6h0.99v1h-0.99zM255.28 150.6h0.99v1h-0.99zM275.14 150.6h0.99v1h-0.99zM285.08 150.6h0.99v1h-0.99zM275.14 151.6h0.99v1h-0.99zM285.08 151.6h0.99v1h-0.99zM251.3 152.6h0.99v1h-0.99zM275.14 152.6h0.99v1h-0.99zM285.08 152.6h0.99v1h-0.99zM264.22 153.6h0.99v1h-0.99zM275.14 153.6h0.99v1h-0.99zM285.08 153.6h0.99v1h-0.99zM255.28 154.6h0.99v1h-0.99zM264.22 154.6h0.99v1h-0.99zM275.14 154.6h0.99v1h-0.99zM285.08 154.6h0.99v1h-0.99zM242.36 155.6h0.99v1h-0.99zM251.3 155.6h0.99v1h-0.99zM255.28 155.6h0.99v1h-0.99zM258.26 155.6h0.99v1h-0.99zM262.23 155.6h0.99v1h-0.99zM264.22 155.6h0.99v1h-0.99zM275.14 155.6h0.99v1h-0.99zM285.08 155.6h0.99v1h-0.99zM242.36 156.6h0.99v1h-0.99zM255.28 156.6h0.99v1h-0.99zM264.22 156.6h0.99v1h-0.99zM275.14 156.6h0.99v1h-0.99zM285.08 156.6h0.99v1h-0.99zM242.36 157.6h0.99v1h-0.99zM275.14 157.6h0.99v1h-0.99zM285.08 157.6h0.99v1h-0.99zM275.14 158.6h0.99v1h-0.99zM285.08 158.6h0.99v1h-0.99zM255.28 159.6h0.99v1h-0.99zM264.22 159.6h0.99v1h-0.99zM275.14 159.6h0.99v1h-0.99zM285.08 159.6h0.99v1h-0.99z"/>
<path fill="#ee5511" d="M238.39 104.6h0.99v1h-0.99zM269.18 105.6h0.99v1h-0.99zM256.27 109.6h0.99v1h-0.99zM239.38 111.6h0.99v1h-0.99zM253.29 112.6h0.99v1h-0.99zM253.29 113.6h0.99v1h-0.99zM256.27 113.6h0.99v1h-0.99zM239.38 114.6h0.99v1h-0.99zM243.35 117.6h0.99v1h-0.99zM243.35 118.6h0.99v1h-0.99zM270.18 120.6h0.99v1h-0.99zM257.26 121.6h0.99v1h-0.99zM266.2 121.6h0.99v1h-0.99zM253.29 125.6h0.99v1h-0.99zM266.2 125.6h0.99v1h-0.99zM238.39 128.6h0.99v1h-0.99zM270.18 130.6h0.99v1h-0.99zM243.35 132.6h0.99v1h-0.99zM266.2 132.6h0.99v1h-0.99zM269.18 133.6h0.99v1h-0.99zM269.18 134.6h0.99v1h-0.99zM252.3 135.6h0.99v1h-0.99zM260.24 136.6h0.99v1h-0.99zM237.39 138.6h0.99v1h-0.99zM239.38 138.6h0.99v1h-0.99zM243.35 138.6h0.99v1h-0.99zM252.3 138.6h0.99v1h-0.99zM243.35 139.6h0.99v1h-0.99zM265.21 139.6h0.99v1h-0.99zM237.39 140.6h0.99v1h-0.99zM248.32 140.6h0.99v1h-0.99zM252.3 140.6h0.99v1h-0.99zM257.26 140.6h0.99v1h-0.99zM257.26 141.6h0.99v1h-0.99zM238.39 142.6h0.99v1h-0.99zM252.3 142.6h0.99v1h-0.99zM265.21 142.6h0.99v1h-0.99zM244.35 143.6h0.99v1h-0.99zM266.2 143.6h0.99v1h-0.99zM243.35 147.6h0.99v1h-0.99zM244.35 149.6h0.99v1h-0.99zM239.38 150.6h0.99v1h-0.99zM238.39 151.6h0.99v1h-0.99zM269.18 152.6h0.99v1h-0.99zM239.38 153.6h0.99v1h-0.99zM265.21 153.6h0.99v1h-0.99zM270.18 153.6h0.99v1h-0.99zM243.35 154.6h0.99v1h-0.99zM252.3 155.6h0.99v1h-0.99zM261.24 155.6h0.99v1h-0.99zM252.3 156.6h0.99v1h-0.99zM270.18 156.6h0.99v1h-0.99zM238.39 158.6h0.99v1h-0.99zM261.24 158.6h0.99v1h-0.99zM266.2 159.6h0.99v1h-0.99z"/>
<path fill="#ee3311" d="M239.38 104.6h0.99v1h-0.99zM253.29 104.6h0.99v1h-0.99zM262.23 104.6h0.99v1h-0.99zM270.18 104.6h0.99v1h-0.99zM273.16 104.6h0.99v1h-0.99zM287.07 104.6h0.99v1h-0.99zM296.01 104.6h0.99v1h-0.99zM238.39 105.6h2.98v1h-2.98zM249.31 105.6h0.99v1h-0.99zM253.29 105.6h0.99v1h-0.99zM262.23 105.6h0.99v1h-0.99zM270.18 105.6h0.99v1h-0.99zM273.16 105.6h0.99v1h-0.99zM287.07 105.6h0.99v1h-0.99zM296.01 105.6h0.99v1h-0.99zM239.38 106.6h1.99v1h-1.99zM249.31 106.6h0.99v1h-0.99zM253.29 106.6h0.99v1h-0.99zM262.23 106.6h0.99v1h-0.99zM269.18 106.6h1.99v1h-1.99zM273.16 106.6h0.99v1h-0.99zM287.07 106.6h0.99v1h-0.99zM296.01 106.6h0.99v1h-0.99zM239.38 107.6h1.99v1h-1.99zM249.31 107.6h0.99v1h-0.99zM262.23 107.6h0.99v1h-0.99zM269.18 107.6h1.99v1h-1.99zM287.07 107.6h0.99v1h-0.99zM296.01 107.6h0.99v1h-0.99zM239.38 108.6h1.99v1h-1.99zM249.31 108.6h0.99v1h-0.99zM262.23 108.6h0.99v1h-0.99zM266.2 108.6h0.99v1h-0.99zM269.18 108.6h1.99v1h-1.99zM287.07 108.6h0.99v1h-0.99zM296.01 108.6h0.99v1h-0.99zM239.38 109.6h1.99v1h-1.99zM262.23 109.6h0.99v1h-0.99zM266.2 109.6h0.99v1h-0.99zM269.18 109.6h1.99v1h-1.99zM287.07 109.6h0.99v1h-0.99zM296.01 109.6h0.99v1h-0.99zM239.38 110.6h1.99v1h-1.99zM249.31 110.6h0.99v1h-0.99zM262.23 110.6h0.99v1h-0.99zM266.2 110.6h0.99v1h-0.99zM270.18 110.6h0.99v1h-0.99zM287.07 110.6h0.99v1h-0.99zM296.01 110.6h0.99v1h-0.99zM240.37 111.6h0.99v1h-0.99zM244.35 111.6h0.99v1h-0.99zM249.31 111.6h0.99v1h-0.99zM262.23 111.6h0.99v1h-0.99zM266.2 111.6h0.99v1h-0.99zM270.18 111.6h0.99v1h-0.99zM287.07 111.6h0.99v1h-0.99zM296.01 111.6h0.99v1h-0.99zM244.35 112.6h0.99v1h-0.99zM249.31 112.6h0.99v1h-0.99zM262.23 112.6h0.99v1h-0.99zM266.2 112.6h0.99v1h-0.99zM287.07 112.6h0.99v1h-0.99zM296.01 112.6h0.99v1h-0.99zM240.37 113.6h0.99v1h-0.99zM244.35 113.6h0.99v1h-0.99zM249.31 113.6h0.99v1h-0.99zM257.26 113.6h0.99v1h-0.99zM266.2 113.6h0.99v1h-0.99zM287.07 113.6h0.99v1h-0.99zM296.01 113.6h0.99v1h-0.99zM240.37 114.6h0.99v1h-0.99zM244.35 114.6h0.99v1h-0.99zM248.32 114.6h1.99v1h-1.99zM253.29 114.6h0.99v1h-0.99zM257.26 114.6h0.99v1h-0.99zM287.07 114.6h0.99v1h-0.99zM296.01 114.6h0.99v1h-0.99zM240.37 115.6h0.99v1h-0.99zM244.35 115.6h0.99v1h-0.99zM248.32 115.6h1.99v1h-1.99zM257.26 115.6h0.99v1h-0.99zM287.07 115.6h0.99v1h-0.99zM296.01 115.6h0.99v1h-0.99zM240.37 116.6h0.99v1h-0.99zM244.35 116.6h0.99v1h-0.99zM248.32 116.6h1.99v1h-1.99zM257.26 116.6h0.99v1h-0.99zM287.07 116.6h0.99v1h-0.99zM296.01 116.6h0.99v1h-0.99zM244.35 117.6h0.99v1h-0.99zM249.31 117.6h0.99v1h-0.99zM257.26 117.6h0.99v1h-0.99zM287.07 117.6h0.99v1h-0.99zM296.01 117.6h0.99v1h-0.99zM239.38 118.6h1.99v1h-1.99zM244.35 118.6h0.99v1h-0.99zM248.32 118.6h1.99v1h-1.99zM257.26 118.6h0.99v1h-0.99zM287.07 118.6h0.99v1h-0.99zM296.01 118.6h0.99v1h-0.99zM239.38 119.6h1.99v1h-1.99zM244.35 119.6h0.99v1h-0.99zM248.32 119.6h0.99v1h-0.99zM257.26 119.6h0.99v1h-0.99zM287.07 119.6h0.99v1h-0.99zM296.01 119.6h0.99v1h-0.99zM239.38 120.6h1.99v1h-1.99zM244.35 120.6h0.99v1h-0.99zM248.32 120.6h1.99v1h-1.99zM287.07 120.6h0.99v1h-0.99zM296.01 120.6h0.99v1h-0.99zM239.38 121.6h0.99v1h-0.99zM244.35 121.6h0.99v1h-0.99zM248.32 121.6h1.99v1h-1.99zM287.07 121.6h0.99v1h-0.99zM296.01 121.6h0.99v1h-0.99zM239.38 122.6h1.99v1h-1.99zM244.35 122.6h0.99v1h-0.99zM249.31 122.6h0.99v1h-0.99zM266.2 122.6h0.99v1h-0.99zM287.07 122.6h0.99v1h-0.99zM296.01 122.6h0.99v1h-0.99zM239.38 123.6h1.99v1h-1.99zM244.35 123.6h0.99v1h-0.99zM248.32 123.6h1.99v1h-1.99zM262.23 123.6h0.99v1h-0.99zM266.2 123.6h0.99v1h-0.99zM287.07 123.6h0.99v1h-0.99zM296.01 123.6h0.99v1h-0.99zM239.38 124.6h0.99v1h-0.99zM244.35 124.6h0.99v1h-0.99zM248.32 124.6h1.99v1h-1.99zM262.23 124.6h0.99v1h-0.99zM266.2 124.6h0.99v1h-0.99zM287.07 124.6h0.99v1h-0.99zM296.01 124.6h0.99v1h-0.99zM240.37 125.6h0.99v1h-0.99zM244.35 125.6h0.99v1h-0.99zM249.31 125.6h0.99v1h-0.99zM262.23 125.6h0.99v1h-0.99zM287.07 125.6h0.99v1h-0.99zM296.01 125.6h0.99v1h-0.99zM240.37 126.6h0.99v1h-0.99zM244.35 126.6h0.99v1h-0.99zM249.31 126.6h0.99v1h-0.99zM260.24 126.6h2.98v1h-2.98zM266.2 126.6h0.99v1h-0.99zM287.07 126.6h0.99v1h-0.99zM296.01 126.6h0.99v1h-0.99zM244.35 127.6h0.99v1h-0.99zM260.24 127.6h2.98v1h-2.98zM266.2 127.6h0.99v1h-0.99zM287.07 127.6h0.99v1h-0.99zM296.01 127.6h0.99v1h-0.99zM240.37 128.6h0.99v1h-0.99zM243.35 128.6h1.99v1h-1.99zM248.32 128.6h0.99v1h-0.99zM253.29 128.6h0.99v1h-0.99zM260.24 128.6h2.98v1h-2.98zM266.2 128.6h0.99v1h-0.99zM287.07 128.6h0.99v1h-0.99zM296.01 128.6h0.99v1h-0.99zM240.37 129.6h0.99v1h-0.99zM244.35 129.6h0.99v1h-0.99zM248.32 129.6h1.99v1h-1.99zM253.29 129.6h0.99v1h-0.99zM261.24 129.6h1.99v1h-1.99zM270.18 129.6h0.99v1h-0.99zM287.07 129.6h0.99v1h-0.99zM296.01 129.6h0.99v1h-0.99zM240.37 130.6h0.99v1h-0.99zM244.35 130.6h0.99v1h-0.99zM248.32 130.6h0.99v1h-0.99zM252.3 130.6h1.99v1h-1.99zM261.24 130.6h1.99v1h-1.99zM287.07 130.6h0.99v1h-0.99zM296.01 130.6h0.99v1h-0.99zM240.37 131.6h0.99v1h-0.99zM243.35 131.6h1.99v1h-1.99zM248.32 131.6h0.99v1h-0.99zM253.29 131.6h0.99v1h-0.99zM260.24 131.6h1.99v1h-1.99zM266.2 131.6h0.99v1h-0.99zM287.07 131.6h0.99v1h-0.99zM296.01 131.6h0.99v1h-0.99zM244.35 132.6h0.99v1h-0.99zM253.29 132.6h0.99v1h-0.99zM261.24 132.6h0.99v1h-0.99zM270.18 132.6h0.99v1h-0.99zM287.07 132.6h0.99v1h-0.99zM296.01 132.6h0.99v1h-0.99zM243.35 133.6h1.99v1h-1.99zM248.32 133.6h0.99v1h-0.99zM252.3 133.6h1.99v1h-1.99zM261.24 133.6h0.99v1h-0.99zM270.18 133.6h0.99v1h-0.99zM287.07 133.6h0.99v1h-0.99zM296.01 133.6h0.99v1h-0.99zM243.35 134.6h1.99v1h-1.99zM248.32 134.6h0.99v1h-0.99zM252.3 134.6h0.99v1h-0.99zM270.18 134.6h0.99v1h-0.99zM287.07 134.6h0.99v1h-0.99zM296.01 134.6h0.99v1h-0.99zM244.35 135.6h0.99v1h-0.99zM248.32 135.6h0.99v1h-0.99zM253.29 135.6h0.99v1h-0.99zM261.24 135.6h0.99v1h-0.99zM266.2 135.6h0.99v1h-0.99zM270.18 135.6h0.99v1h-0.99zM287.07 135.6h0.99v1h-0.99zM296.01 135.6h0.99v1h-0.99zM244.35 136.6h0.99v1h-0.99zM252.3 136.6h1.99v1h-1.99zM261.24 136.6h0.99v1h-0.99zM266.2 136.6h0.99v1h-0.99zM270.18 136.6h0.99v1h-0.99zM287.07 136.6h0.99v1h-0.99zM296.01 136.6h0.99v1h-0.99zM239.38 137.6h1.99v1h-1.99zM244.35 137.6h0.99v1h-0.99zM252.3 137.6h1.99v1h-1.99zM261.24 137.6h0.99v1h-0.99zM266.2 137.6h0.99v1h-0.99zM270.18 137.6h0.99v1h-0.99zM287.07 137.6h0.99v1h-0.99zM296.01 137.6h0.99v1h-0.99zM240.37 138.6h0.99v1h-0.99zM244.35 138.6h0.99v1h-0.99zM248.32 138.6h0.99v1h-0.99zM253.29 138.6h0.99v1h-0.99zM266.2 138.6h0.99v1h-0.99zM270.18 138.6h0.99v1h-0.99zM287.07 138.6h0.99v1h-0.99zM296.01 138.6h0.99v1h-0.99zM237.39 139.6h1.99v1h-1.99zM240.37 139.6h0.99v1h-0.99zM244.35 139.6h0.99v1h-0.99zM262.23 139.6h0.99v1h-0.99zM266.2 139.6h0.99v1h-0.99zM270.18 139.6h0.99v1h-0.99zM287.07 139.6h0.99v1h-0.99zM296.01 139.6h0.99v1h-0.99zM238.39 140.6h0.99v1h-0.99zM240.37 140.6h0.99v1h-0.99zM244.35 140.6h0.99v1h-0.99zM261.24 140.6h1.99v1h-1.99zM265.21 140.6h1.99v1h-1.99zM270.18 140.6h0.99v1h-0.99zM287.07 140.6h0.99v1h-0.99zM296.01 140.6h0.99v1h-0.99zM244.35 141.6h0.99v1h-0.99zM248.32 141.6h0.99v1h-0.99zM253.29 141.6h0.99v1h-0.99zM261.24 141.6h1.99v1h-1.99zM265.21 141.6h1.99v1h-1.99zM270.18 141.6h0.99v1h-0.99zM287.07 141.6h0.99v1h-0.99zM296.01 141.6h0.99v1h-0.99zM239.38 142.6h1.99v1h-1.99zM244.35 142.6h0.99v1h-0.99zM248.32 142.6h0.99v1h-0.99zM253.29 142.6h0.99v1h-0.99zM261.24 142.6h0.99v1h-0.99zM270.18 142.6h0.99v1h-0.99zM287.07 142.6h0.99v1h-0.99zM296.01 142.6h0.99v1h-0.99zM238.39 143.6h1.99v1h-1.99zM248.32 143.6h0.99v1h-0.99zM253.29 143.6h0.99v1h-0.99zM261.24 143.6h0.99v1h-0.99zM287.07 143.6h0.99v1h-0.99zM296.01 143.6h0.99v1h-0.99zM238.39 144.6h1.99v1h-1.99zM244.35 144.6h0.99v1h-0.99zM248.32 144.6h0.99v1h-0.99zM257.26 144.6h0.99v1h-0.99zM261.24 144.6h0.99v1h-0.99zM266.2 144.6h0.99v1h-0.99zM270.18 144.6h0.99v1h-0.99zM287.07 144.6h0.99v1h-0.99zM296.01 144.6h0.99v1h-0.99zM238.39 145.6h1.99v1h-1.99zM244.35 145.6h0.99v1h-0.99zM248.32 145.6h0.99v1h-0.99zM257.26 145.6h0.99v1h-0.99zM266.2 145.6h0.99v1h-0.99zM269.18 145.6h1.99v1h-1.99zM287.07 145.6h0.99v1h-0.99zM296.01 145.6h0.99v1h-0.99zM238.39 146.6h1.99v1h-1.99zM244.35 146.6h0.99v1h-0.99zM248.32 146.6h0.99v1h-0.99zM257.26 146.6h0.99v1h-0.99zM266.2 146.6h0.99v1h-0.99zM269.18 146.6h1.99v1h-1.99zM287.07 146.6h0.99v1h-0.99zM296.01 146.6h0.99v1h-0.99zM238.39 147.6h1.99v1h-1.99zM244.35 147.6h0.99v1h-0.99zM248.32 147.6h0.99v1h-0.99zM257.26 147.6h0.99v1h-0.99zM266.2 147.6h0.99v1h-0.99zM269.18 147.6h1.99v1h-1.99zM287.07 147.6h0.99v1h-0.99zM296.01 147.6h0.99v1h-0.99zM238.39 148.6h1.99v1h-1.99zM248.32 148.6h0.99v1h-0.99zM257.26 148.6h0.99v1h-0.99zM266.2 148.6h0.99v1h-0.99zM269.18 148.6h1.99v1h-1.99zM287.07 148.6h0.99v1h-0.99zM296.01 148.6h0.99v1h-0.99zM238.39 149.6h1.99v1h-1.99zM243.35 149.6h0.99v1h-0.99zM248.32 149.6h0.99v1h-0.99zM257.26 149.6h0.99v1h-0.99zM266.2 149.6h0.99v1h-0.99zM269.18 149.6h1.99v1h-1.99zM287.07 149.6h0.99v1h-0.99zM296.01 149.6h0.99v1h-0.99zM248.32 150.6h0.99v1h-0.99zM257.26 150.6h0.99v1h-0.99zM266.2 150.6h0.99v1h-0.99zM269.18 150.6h1.99v1h-1.99zM287.07 150.6h0.99v1h-0.99zM296.01 150.6h0.99v1h-0.99zM243.35 151.6h1.99v1h-1.99zM257.26 151.6h0.99v1h-0.99zM266.2 151.6h0.99v1h-0.99zM269.18 151.6h1.99v1h-1.99zM287.07 151.6h0.99v1h-0.99zM296.01 151.6h0.99v1h-0.99zM239.38 152.6h0.99v1h-0.99zM243.35 152.6h1.99v1h-1.99zM257.26 152.6h0.99v1h-0.99zM265.21 152.6h1.99v1h-1.99zM270.18 152.6h0.99v1h-0.99zM287.07 152.6h0.99v1h-0.99zM296.01 152.6h0.99v1h-0.99zM240.37 153.6h0.99v1h-0.99zM244.35 153.6h0.99v1h-0.99zM257.26 153.6h0.99v1h-0.99zM266.2 153.6h0.99v1h-0.99zM287.07 153.6h0.99v1h-0.99zM296.01 153.6h0.99v1h-0.99zM240.37 154.6h0.99v1h-0.99zM244.35 154.6h0.99v1h-0.99zM266.2 154.6h0.99v1h-0.99zM287.07 154.6h0.99v1h-0.99zM296.01 154.6h0.99v1h-0.99zM240.37 155.6h0.99v1h-0.99zM244.35 155.6h0.99v1h-0.99zM253.29 155.6h0.99v1h-0.99zM266.2 155.6h0.99v1h-0.99zM270.18 155.6h0.99v1h-0.99zM287.07 155.6h0.99v1h-0.99zM296.01 155.6h0.99v1h-0.99zM249.31 156.6h0.99v1h-0.99zM261.24 156.6h0.99v1h-0.99zM266.2 156.6h0.99v1h-0.99zM287.07 156.6h0.99v1h-0.99zM296.01 156.6h0.99v1h-0.99zM266.2 157.6h0.99v1h-0.99zM287.07 157.6h0.99v1h-0.99zM296.01 157.6h0.99v1h-0.99zM244.35 158.6h0.99v1h-0.99zM253.29 158.6h0.99v1h-0.99zM266.2 158.6h0.99v1h-0.99zM287.07 158.6h0.99v1h-0.99zM296.01 158.6h0.99v1h-0.99zM244.35 159.6h0.99v1h-0.99zM253.29 159.6h0.99v1h-0.99zM270.18 159.6h0.99v1h-0.99zM287.07 159.6h0.99v1h-0.99zM296.01 159.6h0.99v1h-0.99z"/>
<path fill="#ee4411" d="M240.37 104.6h0.99v1h-0.99zM266.2 107.6h0.99v1h-0.99zM273.16 107.6h0.99v1h-0.99zM238.39 108.6h0.99v1h-0.99zM253.29 108.6h0.99v1h-0.99zM249.31 109.6h0.99v1h-0.99zM244.35 110.6h0.99v1h-0.99zM265.21 110.6h0.99v1h-0.99zM253.29 111.6h0.99v1h-0.99zM240.37 112.6h0.99v1h-0.99zM256.27 112.6h0.99v1h-0.99zM270.18 112.6h0.99v1h-0.99zM248.32 113.6h0.99v1h-0.99zM256.27 114.6h0.99v1h-0.99zM239.38 117.6h1.99v1h-1.99zM247.33 117.6h1.99v1h-1.99zM249.31 119.6h0.99v1h-0.99zM240.37 121.6h0.99v1h-0.99zM248.32 122.6h0.99v1h-0.99zM240.37 124.6h0.99v1h-0.99zM248.32 126.6h0.99v1h-0.99zM240.37 127.6h0.99v1h-0.99zM248.32 127.6h1.99v1h-1.99zM253.29 127.6h0.99v1h-0.99zM249.31 128.6h0.99v1h-0.99zM260.24 129.6h0.99v1h-0.99zM266.2 129.6h0.99v1h-0.99zM243.35 130.6h0.99v1h-0.99zM252.3 131.6h0.99v1h-0.99zM270.18 131.6h0.99v1h-0.99zM248.32 132.6h0.99v1h-0.99zM252.3 132.6h0.99v1h-0.99zM266.2 133.6h0.99v1h-0.99zM261.24 134.6h0.99v1h-0.99zM266.2 134.6h0.99v1h-0.99zM243.35 135.6h0.99v1h-0.99zM269.18 135.6h0.99v1h-0.99zM239.38 136.6h0.99v1h-0.99zM248.32 136.6h0.99v1h-0.99zM248.32 137.6h0.99v1h-0.99zM265.21 138.6h0.99v1h-0.99zM239.38 139.6h0.99v1h-0.99zM248.32 139.6h0.99v1h-0.99zM239.38 140.6h0.99v1h-0.99zM238.39 141.6h0.99v1h-0.99zM240.37 141.6h0.99v1h-0.99zM247.33 142.6h0.99v1h-0.99zM257.26 142.6h0.99v1h-0.99zM266.2 142.6h0.99v1h-0.99zM257.26 143.6h0.99v1h-0.99zM270.18 143.6h0.99v1h-0.99zM243.35 146.6h0.99v1h-0.99zM243.35 148.6h1.99v1h-1.99zM238.39 150.6h0.99v1h-0.99zM240.37 150.6h0.99v1h-0.99zM243.35 150.6h1.99v1h-1.99zM239.38 151.6h0.99v1h-0.99zM248.32 151.6h0.99v1h-0.99zM243.35 153.6h0.99v1h-0.99zM253.29 154.6h0.99v1h-0.99zM257.26 154.6h0.99v1h-0.99zM253.29 156.6h0.99v1h-0.99zM238.39 157.6h0.99v1h-0.99zM253.29 157.6h0.99v1h-0.99zM243.35 158.6h0.99v1h-0.99zM243.35 159.6h0.99v1h-0.99zM261.24 159.6h0.99v1h-0.99z"/>
<path fill="#774455" d="M241.37 104.6h0.99v1h-0.99zM242.36 105.6h0.99v1h-0.99zM246.33 146.6h0.99v1h-0.99z"/>
<path fill="#556666" d="M242.36 104.6h0.99v1h-0.99zM255.28 104.6h0.99v1h-0.99zM292.03 104.6h1.99v1h-1.99zM292.03 105.6h1.99v1h-1.99zM242.36 106.6h0.99v1h-0.99zM272.16 106.6h0.99v1h-0.99zM292.03 106.6h1.99v1h-1.99zM242.36 107.6h0.99v1h-0.99zM255.28 107.6h0.99v1h-0.99zM272.16 107.6h0.99v1h-0.99zM292.03 107.6h1.99v1h-1.99zM255.28 108.6h0.99v1h-0.99zM272.16 108.6h0.99v1h-0.99zM292.03 108.6h1.99v1h-1.99zM272.16 109.6h0.99v1h-0.99zM292.03 109.6h1.99v1h-1.99zM242.36 110.6h0.99v1h-0.99zM268.19 110.6h0.99v1h-0.99zM272.16 110.6h0.99v1h-0.99zM292.03 110.6h1.99v1h-1.99zM255.28 111.6h0.99v1h-0.99zM272.16 111.6h0.99v1h-0.99zM292.03 111.6h1.99v1h-1.99zM255.28 112.6h0.99v1h-0.99zM272.16 112.6h0.99v1h-0.99zM292.03 112.6h1.99v1h-1.99zM242.36 113.6h0.99v1h-0.99zM255.28 113.6h0.99v1h-0.99zM268.19 113.6h0.99v1h-0.99zM272.16 113.6h0.99v1h-0.99zM292.03 113.6h1.99v1h-1.99zM242.36 114.6h0.99v1h-0.99zM268.19 114.6h0.99v1h-0.99zM272.16 114.6h0.99v1h-0.99zM292.03 114.6h1.99v1h-1.99zM242.36 115.6h0.99v1h-0.99zM251.3 115.6h0.99v1h-0.99zM267.2 115.6h1.99v1h-1.99zM272.16 115.6h0.99v1h-0.99zM292.03 115.6h1.99v1h-1.99zM242.36 116.6h0.99v1h-0.99zM255.28 116.6h0.99v1h-0.99zM267.2 116.6h1.99v1h-1.99zM272.16 116.6h0.99v1h-0.99zM292.03 116.6h1.99v1h-1.99zM255.28 117.6h0.99v1h-0.99zM267.2 117.6h0.99v1h-0.99zM272.16 117.6h0.99v1h-0.99zM292.03 117.6h1.99v1h-1.99zM267.2 118.6h1.99v1h-1.99zM272.16 118.6h0.99v1h-0.99zM292.03 118.6h1.99v1h-1.99zM267.2 119.6h1.99v1h-1.99zM272.16 119.6h0.99v1h-0.99zM292.03 119.6h1.99v1h-1.99zM255.28 120.6h0.99v1h-0.99zM272.16 120.6h0.99v1h-0.99zM292.03 120.6h1.99v1h-1.99zM255.28 121.6h0.99v1h-0.99zM272.16 121.6h0.99v1h-0.99zM292.03 121.6h1.99v1h-1.99zM268.19 122.6h0.99v1h-0.99zM272.16 122.6h0.99v1h-0.99zM292.03 122.6h1.99v1h-1.99zM255.28 123.6h0.99v1h-0.99zM268.19 123.6h0.99v1h-0.99zM272.16 123.6h0.99v1h-0.99zM292.03 123.6h1.99v1h-1.99zM255.28 124.6h0.99v1h-0.99zM268.19 124.6h0.99v1h-0.99zM272.16 124.6h0.99v1h-0.99zM292.03 124.6h1.99v1h-1.99zM255.28 125.6h0.99v1h-0.99zM268.19 125.6h0.99v1h-0.99zM272.16 125.6h0.99v1h-0.99zM292.03 125.6h1.99v1h-1.99zM268.19 126.6h0.99v1h-0.99zM272.16 126.6h0.99v1h-0.99zM292.03 126.6h1.99v1h-1.99zM242.36 127.6h0.99v1h-0.99zM268.19 127.6h0.99v1h-0.99zM272.16 127.6h0.99v1h-0.99zM292.03 127.6h1.99v1h-1.99zM268.19 128.6h0.99v1h-0.99zM272.16 128.6h0.99v1h-0.99zM292.03 128.6h1.99v1h-1.99zM268.19 129.6h0.99v1h-0.99zM272.16 129.6h0.99v1h-0.99zM292.03 129.6h1.99v1h-1.99zM246.33 130.6h0.99v1h-0.99zM268.19 130.6h0.99v1h-0.99zM272.16 130.6h0.99v1h-0.99zM292.03 130.6h1.99v1h-1.99zM236.4 131.6h0.99v1h-0.99zM268.19 131.6h0.99v1h-0.99zM272.16 131.6h0.99v1h-0.99zM292.03 131.6h1.99v1h-1.99zM236.4 132.6h0.99v1h-0.99zM246.33 132.6h0.99v1h-0.99zM272.16 132.6h0.99v1h-0.99zM292.03 132.6h1.99v1h-1.99zM236.4 133.6h0.99v1h-0.99zM246.33 133.6h0.99v1h-0.99zM272.16 133.6h0.99v1h-0.99zM292.03 133.6h1.99v1h-1.99zM246.33 134.6h0.99v1h-0.99zM268.19 134.6h0.99v1h-0.99zM272.16 134.6h0.99v1h-0.99zM292.03 134.6h1.99v1h-1.99zM246.33 135.6h0.99v1h-0.99zM272.16 135.6h0.99v1h-0.99zM292.03 135.6h1.99v1h-1.99zM246.33 136.6h0.99v1h-0.99zM268.19 136.6h0.99v1h-0.99zM272.16 136.6h0.99v1h-0.99zM292.03 136.6h1.99v1h-1.99zM268.19 137.6h0.99v1h-0.99zM272.16 137.6h0.99v1h-0.99zM292.03 137.6h1.99v1h-1.99zM268.19 138.6h0.99v1h-0.99zM292.03 138.6h1.99v1h-1.99zM246.33 139.6h0.99v1h-0.99zM268.19 139.6h0.99v1h-0.99zM292.03 139.6h1.99v1h-1.99zM246.33 140.6h0.99v1h-0.99zM268.19 140.6h0.99v1h-0.99zM272.16 140.6h0.99v1h-0.99zM292.03 140.6h1.99v1h-1.99zM246.33 141.6h0.99v1h-0.99zM268.19 141.6h0.99v1h-0.99zM272.16 141.6h0.99v1h-0.99zM292.03 141.6h1.99v1h-1.99zM236.4 142.6h0.99v1h-0.99zM268.19 142.6h0.99v1h-0.99zM272.16 142.6h0.99v1h-0.99zM292.03 142.6h1.99v1h-1.99zM236.4 143.6h0.99v1h-0.99zM246.33 143.6h0.99v1h-0.99zM268.19 143.6h0.99v1h-0.99zM272.16 143.6h0.99v1h-0.99zM292.03 143.6h1.99v1h-1.99zM236.4 144.6h0.99v1h-0.99zM246.33 144.6h0.99v1h-0.99zM268.19 144.6h0.99v1h-0.99zM272.16 144.6h0.99v1h-0.99zM292.03 144.6h1.99v1h-1.99zM272.16 145.6h0.99v1h-0.99zM292.03 145.6h1.99v1h-1.99zM272.16 146.6h0.99v1h-0.99zM292.03 146.6h1.99v1h-1.99zM272.16 147.6h0.99v1h-0.99zM292.03 147.6h1.99v1h-1.99zM272.16 148.6h0.99v1h-0.99zM292.03 148.6h1.99v1h-1.99zM246.33 149.6h0.99v1h-0.99zM292.03 149.6h1.99v1h-1.99zM246.33 150.6h0.99v1h-0.99zM292.03 150.6h1.99v1h-1.99zM246.33 151.6h0.99v1h-0.99zM272.16 151.6h0.99v1h-0.99zM292.03 151.6h1.99v1h-1.99zM236.4 152.6h0.99v1h-0.99zM246.33 152.6h0.99v1h-0.99zM268.19 152.6h0.99v1h-0.99zM272.16 152.6h0.99v1h-0.99zM292.03 152.6h1.99v1h-1.99zM236.4 153.6h0.99v1h-0.99zM246.33 153.6h0.99v1h-0.99zM268.19 153.6h0.99v1h-0.99zM272.16 153.6h0.99v1h-0.99zM292.03 153.6h1.99v1h-1.99zM268.19 154.6h0.99v1h-0.99zM272.16 154.6h0.99v1h-0.99zM292.03 154.6h1.99v1h-1.99zM268.19 155.6h0.99v1h-0.99zM272.16 155.6h0.99v1h-0.99zM292.03 155.6h1.99v1h-1.99zM245.34 156.6h0.99v1h-0.99zM268.19 156.6h0.99v1h-0.99zM292.03 156.6h1.99v1h-1.99zM236.4 157.6h0.99v1h-0.99zM246.33 157.6h0.99v1h-0.99zM268.19 157.6h0.99v1h-0.99zM292.03 157.6h1.99v1h-1.99zM236.4 158.6h0.99v1h-0.99zM246.33 158.6h0.99v1h-0.99zM268.19 158.6h0.99v1h-0.99zM272.16 158.6h0.99v1h-0.99zM292.03 158.6h1.99v1h-1.99zM268.19 159.6h0.99v1h-0.99zM272.16 159.6h0.99v1h-0.99zM292.03 159.6h1.99v1h-1.99z"/>
<path fill="#ddaa11" d="M243.35 104.6h0.99v1h-0.99zM243.35 105.6h0.99v1h-0.99zM243.35 106.6h1.99v1h-1.99zM252.3 106.6h0.99v1h-0.99zM252.3 107.6h0.99v1h-0.99zM257.26 107.6h0.99v1h-0.99zM243.35 108.6h0.99v1h-0.99zM257.26 108.6h0.99v1h-0.99zM265.21 108.6h0.99v1h-0.99zM244.35 109.6h0.99v1h-0.99zM257.26 109.6h0.99v1h-0.99zM269.18 110.6h0.99v1h-0.99zM248.32 111.6h0.99v1h-0.99zM238.39 112.6h0.99v1h-0.99zM238.39 113.6h0.99v1h-0.99zM265.21 114.6h1.99v1h-1.99zM269.18 115.6h0.99v1h-0.99zM270.18 117.6h0.99v1h-0.99zM256.27 119.6h0.99v1h-0.99zM265.21 119.6h0.99v1h-0.99zM265.21 122.6h0.99v1h-0.99zM261.24 123.6h0.99v1h-0.99zM253.29 124.6h0.99v1h-0.99zM257.26 124.6h0.99v1h-0.99zM247.33 125.6h0.99v1h-0.99zM252.3 125.6h0.99v1h-0.99zM239.38 126.6h0.99v1h-0.99zM252.3 126.6h0.99v1h-0.99zM238.39 127.6h0.99v1h-0.99zM252.3 128.6h0.99v1h-0.99zM256.27 129.6h0.99v1h-0.99zM265.21 130.6h0.99v1h-0.99zM269.18 130.6h0.99v1h-0.99zM237.39 131.6h0.99v1h-0.99zM238.39 133.6h0.99v1h-0.99zM247.33 133.6h0.99v1h-0.99zM257.26 133.6h0.99v1h-0.99zM256.27 135.6h0.99v1h-0.99zM247.33 136.6h0.99v1h-0.99zM238.39 137.6h0.99v1h-0.99zM256.27 137.6h1.99v1h-1.99zM238.39 138.6h0.99v1h-0.99zM256.27 138.6h0.99v1h-0.99zM269.18 139.6h0.99v1h-0.99zM247.33 141.6h0.99v1h-0.99zM243.35 143.6h0.99v1h-0.99zM247.33 145.6h0.99v1h-0.99zM252.3 145.6h0.99v1h-0.99zM247.33 146.6h0.99v1h-0.99zM256.27 146.6h0.99v1h-0.99zM261.24 146.6h0.99v1h-0.99zM252.3 147.6h0.99v1h-0.99zM256.27 147.6h0.99v1h-0.99zM256.27 148.6h0.99v1h-0.99zM252.3 149.6h0.99v1h-0.99zM237.39 150.6h0.99v1h-0.99zM247.33 150.6h0.99v1h-0.99zM237.39 154.6h1.99v1h-1.99zM239.38 156.6h0.99v1h-0.99zM243.35 156.6h0.99v1h-0.99zM256.27 156.6h0.99v1h-0.99zM237.39 157.6h0.99v1h-0.99zM243.35 157.6h0.99v1h-0.99zM248.32 157.6h0.99v1h-0.99zM248.32 158.6h0.99v1h-0.99zM238.39 159.6h0.99v1h-0.99zM248.32 159.6h0.99v1h-0.99zM265.21 159.6h0.99v1h-0.99z"/>
<path fill="#cccc11" d="M244.35 104.6h0.99v1h-0.99zM248.32 104.6h0.99v1h-0.99zM252.3 104.6h0.99v1h-0.99zM256.27 104.6h1.99v1h-1.99zM265.21 104.6h0.99v1h-0.99zM274.15 104.6h0.99v1h-0.99zM277.13 104.6h0.99v1h-0.99zM283.09 104.6h0.99v1h-0.99zM291.04 104.6h0.99v1h-0.99zM294.02 104.6h0.99v1h-0.99zM247.33 105.6h0.99v1h-0.99zM256.27 105.6h1.99v1h-1.99zM265.21 105.6h0.99v1h-0.99zM274.15 105.6h0.99v1h-0.99zM277.13 105.6h0.99v1h-0.99zM283.09 105.6h0.99v1h-0.99zM291.04 105.6h0.99v1h-0.99zM294.02 105.6h0.99v1h-0.99zM247.33 106.6h0.99v1h-0.99zM257.26 106.6h0.99v1h-0.99zM265.21 106.6h0.99v1h-0.99zM274.15 106.6h0.99v1h-0.99zM277.13 106.6h0.99v1h-0.99zM283.09 106.6h0.99v1h-0.99zM291.04 106.6h0.99v1h-0.99zM294.02 106.6h0.99v1h-0.99zM243.35 107.6h1.99v1h-1.99zM247.33 107.6h0.99v1h-0.99zM256.27 107.6h0.99v1h-0.99zM260.24 107.6h0.99v1h-0.99zM265.21 107.6h0.99v1h-0.99zM274.15 107.6h0.99v1h-0.99zM277.13 107.6h0.99v1h-0.99zM283.09 107.6h0.99v1h-0.99zM291.04 107.6h0.99v1h-0.99zM294.02 107.6h0.99v1h-0.99zM244.35 108.6h0.99v1h-0.99zM260.24 108.6h0.99v1h-0.99zM274.15 108.6h0.99v1h-0.99zM277.13 108.6h0.99v1h-0.99zM283.09 108.6h0.99v1h-0.99zM291.04 108.6h0.99v1h-0.99zM294.02 108.6h0.99v1h-0.99zM237.39 109.6h0.99v1h-0.99zM260.24 109.6h0.99v1h-0.99zM274.15 109.6h0.99v1h-0.99zM277.13 109.6h0.99v1h-0.99zM283.09 109.6h0.99v1h-0.99zM291.04 109.6h0.99v1h-0.99zM294.02 109.6h0.99v1h-0.99zM237.39 110.6h1.99v1h-1.99zM243.35 110.6h0.99v1h-0.99zM256.27 110.6h0.99v1h-0.99zM274.15 110.6h0.99v1h-0.99zM277.13 110.6h0.99v1h-0.99zM283.09 110.6h0.99v1h-0.99zM291.04 110.6h0.99v1h-0.99zM294.02 110.6h0.99v1h-0.99zM238.39 111.6h0.99v1h-0.99zM243.35 111.6h0.99v1h-0.99zM247.33 111.6h0.99v1h-0.99zM261.24 111.6h0.99v1h-0.99zM269.18 111.6h0.99v1h-0.99zM274.15 111.6h0.99v1h-0.99zM277.13 111.6h0.99v1h-0.99zM283.09 111.6h0.99v1h-0.99zM291.04 111.6h0.99v1h-0.99zM294.02 111.6h0.99v1h-0.99zM261.24 112.6h0.99v1h-0.99zM274.15 112.6h0.99v1h-0.99zM277.13 112.6h0.99v1h-0.99zM283.09 112.6h0.99v1h-0.99zM291.04 112.6h0.99v1h-0.99zM294.02 112.6h0.99v1h-0.99zM252.3 113.6h0.99v1h-0.99zM261.24 113.6h0.99v1h-0.99zM269.18 113.6h0.99v1h-0.99zM274.15 113.6h0.99v1h-0.99zM277.13 113.6h0.99v1h-0.99zM283.09 113.6h0.99v1h-0.99zM291.04 113.6h0.99v1h-0.99zM294.02 113.6h0.99v1h-0.99zM252.3 114.6h0.99v1h-0.99zM261.24 114.6h0.99v1h-0.99zM269.18 114.6h0.99v1h-0.99zM274.15 114.6h0.99v1h-0.99zM277.13 114.6h0.99v1h-0.99zM283.09 114.6h0.99v1h-0.99zM291.04 114.6h0.99v1h-0.99zM294.02 114.6h0.99v1h-0.99zM238.39 115.6h0.99v1h-0.99zM252.3 115.6h0.99v1h-0.99zM261.24 115.6h0.99v1h-0.99zM265.21 115.6h1.99v1h-1.99zM274.15 115.6h0.99v1h-0.99zM277.13 115.6h0.99v1h-0.99zM283.09 115.6h0.99v1h-0.99zM291.04 115.6h0.99v1h-0.99zM294.02 115.6h0.99v1h-0.99zM238.39 116.6h0.99v1h-0.99zM252.3 116.6h0.99v1h-0.99zM265.21 116.6h1.99v1h-1.99zM269.18 116.6h0.99v1h-0.99zM274.15 116.6h0.99v1h-0.99zM277.13 116.6h0.99v1h-0.99zM283.09 116.6h0.99v1h-0.99zM291.04 116.6h0.99v1h-0.99zM294.02 116.6h0.99v1h-0.99zM252.3 117.6h0.99v1h-0.99zM261.24 117.6h0.99v1h-0.99zM265.21 117.6h1.99v1h-1.99zM274.15 117.6h0.99v1h-0.99zM277.13 117.6h0.99v1h-0.99zM283.09 117.6h0.99v1h-0.99zM291.04 117.6h0.99v1h-0.99zM294.02 117.6h0.99v1h-0.99zM252.3 118.6h0.99v1h-0.99zM265.21 118.6h1.99v1h-1.99zM269.18 118.6h0.99v1h-0.99zM274.15 118.6h0.99v1h-0.99zM277.13 118.6h0.99v1h-0.99zM283.09 118.6h0.99v1h-0.99zM291.04 118.6h0.99v1h-0.99zM294.02 118.6h0.99v1h-0.99zM252.3 119.6h0.99v1h-0.99zM260.24 119.6h1.99v1h-1.99zM266.2 119.6h0.99v1h-0.99zM269.18 119.6h0.99v1h-0.99zM274.15 119.6h0.99v1h-0.99zM277.13 119.6h0.99v1h-0.99zM283.09 119.6h0.99v1h-0.99zM291.04 119.6h0.99v1h-0.99zM294.02 119.6h0.99v1h-0.99zM256.27 120.6h0.99v1h-0.99zM260.24 120.6h1.99v1h-1.99zM265.21 120.6h0.99v1h-0.99zM274.15 120.6h0.99v1h-0.99zM277.13 120.6h0.99v1h-0.99zM283.09 120.6h0.99v1h-0.99zM291.04 120.6h0.99v1h-0.99zM294.02 120.6h0.99v1h-0.99zM237.39 121.6h0.99v1h-0.99zM256.27 121.6h0.99v1h-0.99zM260.24 121.6h1.99v1h-1.99zM274.15 121.6h0.99v1h-0.99zM277.13 121.6h0.99v1h-0.99zM283.09 121.6h0.99v1h-0.99zM291.04 121.6h0.99v1h-0.99zM294.02 121.6h0.99v1h-0.99zM237.39 122.6h0.99v1h-0.99zM256.27 122.6h0.99v1h-0.99zM260.24 122.6h1.99v1h-1.99zM269.18 122.6h0.99v1h-0.99zM274.15 122.6h0.99v1h-0.99zM277.13 122.6h0.99v1h-0.99zM283.09 122.6h0.99v1h-0.99zM291.04 122.6h0.99v1h-0.99zM294.02 122.6h0.99v1h-0.99zM237.39 123.6h0.99v1h-0.99zM256.27 123.6h0.99v1h-0.99zM260.24 123.6h0.99v1h-0.99zM265.21 123.6h0.99v1h-0.99zM269.18 123.6h0.99v1h-0.99zM274.15 123.6h0.99v1h-0.99zM277.13 123.6h0.99v1h-0.99zM283.09 123.6h0.99v1h-0.99zM291.04 123.6h0.99v1h-0.99zM294.02 123.6h0.99v1h-0.99zM237.39 124.6h0.99v1h-0.99zM256.27 124.6h0.99v1h-0.99zM269.18 124.6h0.99v1h-0.99zM274.15 124.6h0.99v1h-0.99zM277.13 124.6h0.99v1h-0.99zM283.09 124.6h0.99v1h-0.99zM291.04 124.6h0.99v1h-0.99zM294.02 124.6h0.99v1h-0.99zM237.39 125.6h1.99v1h-1.99zM256.27 125.6h1.99v1h-1.99zM269.18 125.6h0.99v1h-0.99zM274.15 125.6h0.99v1h-0.99zM277.13 125.6h0.99v1h-0.99zM283.09 125.6h0.99v1h-0.99zM291.04 125.6h0.99v1h-0.99zM294.02 125.6h0.99v1h-0.99zM237.39 126.6h1.99v1h-1.99zM269.18 126.6h0.99v1h-0.99zM274.15 126.6h0.99v1h-0.99zM277.13 126.6h0.99v1h-0.99zM283.09 126.6h0.99v1h-0.99zM291.04 126.6h0.99v1h-0.99zM294.02 126.6h0.99v1h-0.99zM237.39 127.6h0.99v1h-0.99zM247.33 127.6h0.99v1h-0.99zM269.18 127.6h0.99v1h-0.99zM274.15 127.6h0.99v1h-0.99zM277.13 127.6h0.99v1h-0.99zM283.09 127.6h0.99v1h-0.99zM291.04 127.6h0.99v1h-0.99zM294.02 127.6h0.99v1h-0.99zM257.26 128.6h0.99v1h-0.99zM269.18 128.6h0.99v1h-0.99zM274.15 128.6h0.99v1h-0.99zM277.13 128.6h0.99v1h-0.99zM283.09 128.6h0.99v1h-0.99zM291.04 128.6h0.99v1h-0.99zM294.02 128.6h0.99v1h-0.99zM257.26 129.6h0.99v1h-0.99zM274.15 129.6h0.99v1h-0.99zM277.13 129.6h0.99v1h-0.99zM283.09 129.6h0.99v1h-0.99zM291.04 129.6h0.99v1h-0.99zM294.02 129.6h0.99v1h-0.99zM238.39 130.6h0.99v1h-0.99zM274.15 130.6h0.99v1h-0.99zM277.13 130.6h0.99v1h-0.99zM283.09 130.6h0.99v1h-0.99zM291.04 130.6h0.99v1h-0.99zM294.02 130.6h0.99v1h-0.99zM274.15 131.6h0.99v1h-0.99zM277.13 131.6h0.99v1h-0.99zM283.09 131.6h0.99v1h-0.99zM291.04 131.6h0.99v1h-0.99zM294.02 131.6h0.99v1h-0.99zM237.39 132.6h0.99v1h-0.99zM247.33 132.6h0.99v1h-0.99zM256.27 132.6h0.99v1h-0.99zM265.21 132.6h0.99v1h-0.99zM274.15 132.6h0.99v1h-0.99zM277.13 132.6h0.99v1h-0.99zM283.09 132.6h0.99v1h-0.99zM291.04 132.6h0.99v1h-0.99zM294.02 132.6h0.99v1h-0.99zM274.15 133.6h0.99v1h-0.99zM277.13 133.6h0.99v1h-0.99zM283.09 133.6h0.99v1h-0.99zM291.04 133.6h0.99v1h-0.99zM294.02 133.6h0.99v1h-0.99zM238.39 134.6h0.99v1h-0.99zM256.27 134.6h1.99v1h-1.99zM274.15 134.6h0.99v1h-0.99zM277.13 134.6h0.99v1h-0.99zM283.09 134.6h0.99v1h-0.99zM291.04 134.6h0.99v1h-0.99zM294.02 134.6h0.99v1h-0.99zM237.39 135.6h1.99v1h-1.99zM257.26 135.6h0.99v1h-0.99zM265.21 135.6h0.99v1h-0.99zM274.15 135.6h0.99v1h-0.99zM277.13 135.6h0.99v1h-0.99zM283.09 135.6h0.99v1h-0.99zM291.04 135.6h0.99v1h-0.99zM294.02 135.6h0.99v1h-0.99zM238.39 136.6h0.99v1h-0.99zM251.3 136.6h0.99v1h-0.99zM257.26 136.6h0.99v1h-0.99zM274.15 136.6h0.99v1h-0.99zM277.13 136.6h0.99v1h-0.99zM283.09 136.6h0.99v1h-0.99zM291.04 136.6h0.99v1h-0.99zM294.02 136.6h0.99v1h-0.99zM247.33 137.6h0.99v1h-0.99zM274.15 137.6h0.99v1h-0.99zM277.13 137.6h0.99v1h-0.99zM283.09 137.6h0.99v1h-0.99zM291.04 137.6h0.99v1h-0.99zM294.02 137.6h0.99v1h-0.99zM247.33 138.6h0.99v1h-0.99zM274.15 138.6h0.99v1h-0.99zM277.13 138.6h0.99v1h-0.99zM283.09 138.6h0.99v1h-0.99zM291.04 138.6h0.99v1h-0.99zM294.02 138.6h0.99v1h-0.99zM247.33 139.6h0.99v1h-0.99zM256.27 139.6h0.99v1h-0.99zM274.15 139.6h0.99v1h-0.99zM277.13 139.6h0.99v1h-0.99zM283.09 139.6h0.99v1h-0.99zM291.04 139.6h0.99v1h-0.99zM294.02 139.6h0.99v1h-0.99zM247.33 140.6h0.99v1h-0.99zM274.15 140.6h0.99v1h-0.99zM277.13 140.6h0.99v1h-0.99zM283.09 140.6h0.99v1h-0.99zM291.04 140.6h0.99v1h-0.99zM294.02 140.6h0.99v1h-0.99zM274.15 141.6h0.99v1h-0.99zM277.13 141.6h0.99v1h-0.99zM283.09 141.6h0.99v1h-0.99zM291.04 141.6h0.99v1h-0.99zM294.02 141.6h0.99v1h-0.99zM269.18 142.6h0.99v1h-0.99zM274.15 142.6h0.99v1h-0.99zM277.13 142.6h0.99v1h-0.99zM283.09 142.6h0.99v1h-0.99zM291.04 142.6h0.99v1h-0.99zM294.02 142.6h0.99v1h-0.99zM274.15 143.6h0.99v1h-0.99zM277.13 143.6h0.99v1h-0.99zM283.09 143.6h0.99v1h-0.99zM291.04 143.6h0.99v1h-0.99zM294.02 143.6h0.99v1h-0.99zM256.27 144.6h0.99v1h-0.99zM265.21 144.6h0.99v1h-0.99zM274.15 144.6h0.99v1h-0.99zM277.13 144.6h0.99v1h-0.99zM283.09 144.6h0.99v1h-0.99zM291.04 144.6h0.99v1h-0.99zM294.02 144.6h0.99v1h-0.99zM237.39 145.6h0.99v1h-0.99zM251.3 145.6h0.99v1h-0.99zM274.15 145.6h0.99v1h-0.99zM277.13 145.6h0.99v1h-0.99zM283.09 145.6h0.99v1h-0.99zM291.04 145.6h0.99v1h-0.99zM294.02 145.6h0.99v1h-0.99zM274.15 146.6h0.99v1h-0.99zM277.13 146.6h0.99v1h-0.99zM283.09 146.6h0.99v1h-0.99zM291.04 146.6h0.99v1h-0.99zM294.02 146.6h0.99v1h-0.99zM242.36 147.6h0.99v1h-0.99zM261.24 147.6h0.99v1h-0.99zM274.15 147.6h0.99v1h-0.99zM277.13 147.6h0.99v1h-0.99zM283.09 147.6h0.99v1h-0.99zM291.04 147.6h0.99v1h-0.99zM294.02 147.6h0.99v1h-0.99zM260.24 148.6h1.99v1h-1.99zM274.15 148.6h0.99v1h-0.99zM277.13 148.6h0.99v1h-0.99zM283.09 148.6h0.99v1h-0.99zM291.04 148.6h0.99v1h-0.99zM294.02 148.6h0.99v1h-0.99zM256.27 149.6h0.99v1h-0.99zM261.24 149.6h0.99v1h-0.99zM274.15 149.6h0.99v1h-0.99zM277.13 149.6h0.99v1h-0.99zM283.09 149.6h0.99v1h-0.99zM291.04 149.6h0.99v1h-0.99zM294.02 149.6h0.99v1h-0.99zM256.27 150.6h0.99v1h-0.99zM260.24 150.6h1.99v1h-1.99zM274.15 150.6h0.99v1h-0.99zM277.13 150.6h0.99v1h-0.99zM283.09 150.6h0.99v1h-0.99zM291.04 150.6h0.99v1h-0.99zM294.02 150.6h0.99v1h-0.99zM261.24 151.6h0.99v1h-0.99zM274.15 151.6h0.99v1h-0.99zM277.13 151.6h0.99v1h-0.99zM283.09 151.6h0.99v1h-0.99zM291.04 151.6h0.99v1h-0.99zM294.02 151.6h0.99v1h-0.99zM237.39 152.6h0.99v1h-0.99zM252.3 152.6h0.99v1h-0.99zM260.24 152.6h1.99v1h-1.99zM274.15 152.6h0.99v1h-0.99zM277.13 152.6h0.99v1h-0.99zM283.09 152.6h0.99v1h-0.99zM291.04 152.6h0.99v1h-0.99zM294.02 152.6h0.99v1h-0.99zM237.39 153.6h1.99v1h-1.99zM247.33 153.6h1.99v1h-1.99zM260.24 153.6h1.99v1h-1.99zM269.18 153.6h0.99v1h-0.99zM274.15 153.6h0.99v1h-0.99zM277.13 153.6h0.99v1h-0.99zM283.09 153.6h0.99v1h-0.99zM291.04 153.6h0.99v1h-0.99zM294.02 153.6h0.99v1h-0.99zM248.32 154.6h0.99v1h-0.99zM269.18 154.6h0.99v1h-0.99zM274.15 154.6h0.99v1h-0.99zM277.13 154.6h0.99v1h-0.99zM283.09 154.6h0.99v1h-0.99zM291.04 154.6h0.99v1h-0.99zM294.02 154.6h0.99v1h-0.99zM247.33 155.6h0.99v1h-0.99zM274.15 155.6h0.99v1h-0.99zM277.13 155.6h0.99v1h-0.99zM283.09 155.6h0.99v1h-0.99zM291.04 155.6h0.99v1h-0.99zM294.02 155.6h0.99v1h-0.99zM237.39 156.6h0.99v1h-0.99zM247.33 156.6h0.99v1h-0.99zM269.18 156.6h0.99v1h-0.99zM274.15 156.6h0.99v1h-0.99zM277.13 156.6h0.99v1h-0.99zM283.09 156.6h0.99v1h-0.99zM291.04 156.6h0.99v1h-0.99zM294.02 156.6h0.99v1h-0.99zM247.33 157.6h0.99v1h-0.99zM256.27 157.6h0.99v1h-0.99zM269.18 157.6h0.99v1h-0.99zM274.15 157.6h0.99v1h-0.99zM277.13 157.6h0.99v1h-0.99zM283.09 157.6h0.99v1h-0.99zM291.04 157.6h0.99v1h-0.99zM294.02 157.6h0.99v1h-0.99zM237.39 158.6h0.99v1h-0.99zM239.38 158.6h0.99v1h-0.99zM247.33 158.6h0.99v1h-0.99zM256.27 158.6h0.99v1h-0.99zM269.18 158.6h0.99v1h-0.99zM274.15 158.6h0.99v1h-0.99zM277.13 158.6h0.99v1h-0.99zM283.09 158.6h0.99v1h-0.99zM291.04 158.6h0.99v1h-0.99zM294.02 158.6h0.99v1h-0.99zM247.33 159.6h0.99v1h-0.99zM256.27 159.6h0.99v1h-0.99zM274.15 159.6h0.99v1h-0.99zM277.13 159.6h0.99v1h-0.99zM283.09 159.6h0.99v1h-0.99zM291.04 159.6h0.99v1h-0.99zM294.02 159.6h0.99v1h-0.99z"/>
<path fill="#998833" d="M245.34 104.6h0.99v1h-0.99zM258.26 104.6h0.99v1h-0.99zM264.22 105.6h0.99v1h-0.99zM251.3 106.6h0.99v1h-0.99zM264.22 106.6h0.99v1h-0.99zM251.3 108.6h0.99v1h-0.99zM237.39 114.6h0.99v1h-0.99zM237.39 115.6h0.99v1h-0.99zM260.24 117.6h0.99v1h-0.99zM251.3 120.6h0.99v1h-0.99zM264.22 125.6h0.99v1h-0.99zM264.22 130.6h0.99v1h-0.99zM255.28 132.6h0.99v1h-0.99zM255.28 133.6h0.99v1h-0.99zM258.26 134.6h0.99v1h-0.99zM264.22 134.6h0.99v1h-0.99zM255.28 137.6h0.99v1h-0.99zM264.22 137.6h0.99v1h-0.99zM242.36 139.6h0.99v1h-0.99zM251.3 140.6h0.99v1h-0.99zM251.3 141.6h0.99v1h-0.99zM264.22 144.6h0.99v1h-0.99zM264.22 147.6h0.99v1h-0.99zM242.36 152.6h0.99v1h-0.99zM258.26 156.6h0.99v1h-0.99zM255.28 157.6h0.99v1h-0.99zM258.26 157.6h0.99v1h-0.99zM255.28 158.6h0.99v1h-0.99z"/>
<path fill="#333377" d="M246.33 104.6h0.99v1h-0.99zM259.25 107.6h0.99v1h-0.99zM236.4 108.6h0.99v1h-0.99zM246.33 108.6h0.99v1h-0.99zM236.4 111.6h0.99v1h-0.99zM259.25 115.6h0.99v1h-0.99zM250.31 117.6h0.99v1h-0.99zM254.28 118.6h0.99v1h-0.99zM263.22 118.6h0.99v1h-0.99zM263.22 119.6h0.99v1h-0.99zM236.4 122.6h0.99v1h-0.99zM263.22 124.6h0.99v1h-0.99zM254.28 126.6h0.99v1h-0.99zM250.31 129.6h0.99v1h-0.99zM263.22 130.6h0.99v1h-0.99zM254.28 133.6h0.99v1h-0.99zM263.22 133.6h0.99v1h-0.99zM250.31 134.6h0.99v1h-0.99zM250.31 138.6h0.99v1h-0.99zM236.4 139.6h0.99v1h-0.99zM263.22 139.6h0.99v1h-0.99zM250.31 140.6h0.99v1h-0.99zM259.25 143.6h0.99v1h-0.99zM259.25 145.6h0.99v1h-0.99zM245.34 146.6h0.99v1h-0.99zM241.37 150.6h0.99v1h-0.99zM250.31 150.6h0.99v1h-0.99zM250.31 151.6h0.99v1h-0.99zM259.25 153.6h0.99v1h-0.99zM241.37 159.6h0.99v1h-0.99z"/>
<path fill="#cc9911" d="M247.33 104.6h0.99v1h-0.99zM247.33 109.6h0.99v1h-0.99zM253.29 109.6h0.99v1h-0.99zM247.33 113.6h0.99v1h-0.99zM247.33 114.6h0.99v1h-0.99zM247.33 115.6h0.99v1h-0.99zM262.23 116.6h0.99v1h-0.99zM237.39 118.6h0.99v1h-0.99zM262.23 118.6h0.99v1h-0.99zM262.23 119.6h0.99v1h-0.99zM247.33 123.6h0.99v1h-0.99zM260.24 145.6h0.99v1h-0.99zM262.23 153.6h0.99v1h-0.99zM260.24 158.6h0.99v1h-0.99z"/>
<path fill="#dd6611" d="M249.31 104.6h0.99v1h-0.99zM253.29 107.6h0.99v1h-0.99zM253.29 110.6h0.99v1h-0.99zM247.33 116.6h0.99v1h-0.99zM253.29 118.6h0.99v1h-0.99zM253.29 119.6h0.99v1h-0.99zM247.33 120.6h0.99v1h-0.99zM253.29 120.6h0.99v1h-0.99zM247.33 121.6h0.99v1h-0.99zM262.23 121.6h0.99v1h-0.99zM253.29 122.6h0.99v1h-0.99zM260.24 137.6h0.99v1h-0.99zM260.24 138.6h0.99v1h-0.99zM260.24 139.6h0.99v1h-0.99zM260.24 141.6h0.99v1h-0.99zM260.24 143.6h0.99v1h-0.99zM251.3 149.6h0.99v1h-0.99zM253.29 149.6h0.99v1h-0.99zM253.29 152.6h0.99v1h-0.99z"/>
<path fill="#556655" d="M251.3 104.6h0.99v1h-0.99zM255.28 105.6h0.99v1h-0.99zM268.19 105.6h0.99v1h-0.99zM242.36 108.6h0.99v1h-0.99zM242.36 111.6h0.99v1h-0.99zM268.19 111.6h0.99v1h-0.99zM251.3 116.6h0.99v1h-0.99zM268.19 133.6h0.99v1h-0.99zM246.33 137.6h0.99v1h-0.99zM272.16 139.6h0.99v1h-0.99zM236.4 147.6h0.99v1h-0.99zM246.33 148.6h0.99v1h-0.99zM236.4 156.6h0.99v1h-0.99z"/>
<path fill="#883344" d="M254.28 104.6h0.99v1h-0.99zM241.37 120.6h0.99v1h-0.99zM245.34 134.6h0.99v1h-0.99zM236.4 137.6h0.99v1h-0.99zM245.34 151.6h0.99v1h-0.99zM271.17 158.6h0.99v1h-0.99z"/>
<path fill="#dd5511" d="M260.24 104.6h0.99v1h-0.99zM262.23 113.6h0.99v1h-0.99zM253.29 121.6h0.99v1h-0.99zM262.23 122.6h0.99v1h-0.99zM260.24 130.6h0.99v1h-0.99zM260.24 132.6h0.99v1h-0.99zM260.24 135.6h0.99v1h-0.99zM253.29 139.6h0.99v1h-0.99zM249.31 140.6h0.99v1h-0.99zM260.24 140.6h0.99v1h-0.99zM251.3 150.6h0.99v1h-0.99zM253.29 150.6h0.99v1h-0.99zM240.37 151.6h0.99v1h-0.99zM253.29 151.6h0.99v1h-0.99zM240.37 152.6h0.99v1h-0.99zM240.37 158.6h0.99v1h-0.99z"/>
<path fill="#ccbb11" d="M261.24 104.6h0.99v1h-0.99zM252.3 105.6h0.99v1h-0.99zM261.24 105.6h0.99v1h-0.99zM237.39 106.6h0.99v1h-0.99zM256.27 106.6h0.99v1h-0.99zM260.24 106.6h0.99v1h-0.99zM237.39 108.6h0.99v1h-0.99zM243.35 109.6h0.99v1h-0.99zM247.33 110.6h0.99v1h-0.99zM252.3 110.6h0.99v1h-0.99zM260.24 110.6h0.99v1h-0.99zM261.24 116.6h0.99v1h-0.99zM238.39 117.6h0.99v1h-0.99zM269.18 117.6h0.99v1h-0.99zM237.39 120.6h0.99v1h-0.99zM269.18 121.6h0.99v1h-0.99zM252.3 123.6h0.99v1h-0.99zM260.24 124.6h0.99v1h-0.99zM247.33 126.6h0.99v1h-0.99zM256.27 126.6h0.99v1h-0.99zM237.39 128.6h0.99v1h-0.99zM247.33 128.6h0.99v1h-0.99zM238.39 129.6h0.99v1h-0.99zM247.33 129.6h0.99v1h-0.99zM257.26 130.6h0.99v1h-0.99zM238.39 131.6h0.99v1h-0.99zM238.39 132.6h0.99v1h-0.99zM257.26 132.6h0.99v1h-0.99zM237.39 133.6h0.99v1h-0.99zM256.27 133.6h0.99v1h-0.99zM242.36 134.6h0.99v1h-0.99zM256.27 141.6h0.99v1h-0.99zM269.18 141.6h0.99v1h-0.99zM237.39 142.6h0.99v1h-0.99zM256.27 143.6h0.99v1h-0.99zM269.18 143.6h0.99v1h-0.99zM237.39 144.6h0.99v1h-0.99zM243.35 144.6h0.99v1h-0.99zM242.36 145.6h0.99v1h-0.99zM242.36 146.6h0.99v1h-0.99zM251.3 147.6h0.99v1h-0.99zM252.3 151.6h0.99v1h-0.99zM260.24 151.6h0.99v1h-0.99zM238.39 152.6h0.99v1h-0.99zM247.33 152.6h0.99v1h-0.99zM247.33 154.6h0.99v1h-0.99zM260.24 154.6h0.99v1h-0.99zM239.38 157.6h0.99v1h-0.99zM257.26 157.6h0.99v1h-0.99zM257.26 158.6h0.99v1h-0.99zM237.39 159.6h0.99v1h-0.99zM251.3 159.6h0.99v1h-0.99zM257.26 159.6h0.99v1h-0.99z"/>
<path fill="#dd8811" d="M266.2 104.6h0.99v1h-0.99zM261.24 106.6h0.99v1h-0.99zM237.39 107.6h1.99v1h-1.99zM247.33 108.6h0.99v1h-0.99zM256.27 108.6h0.99v1h-0.99zM238.39 109.6h0.99v1h-0.99zM252.3 109.6h0.99v1h-0.99zM248.32 110.6h0.99v1h-0.99zM252.3 111.6h0.99v1h-0.99zM243.35 114.6h0.99v1h-0.99zM262.23 114.6h0.99v1h-0.99zM256.27 116.6h0.99v1h-0.99zM270.18 116.6h0.99v1h-0.99zM270.18 119.6h0.99v1h-0.99zM238.39 120.6h0.99v1h-0.99zM243.35 120.6h0.99v1h-0.99zM257.26 120.6h0.99v1h-0.99zM269.18 120.6h0.99v1h-0.99zM270.18 121.6h0.99v1h-0.99zM238.39 122.6h0.99v1h-0.99zM270.18 123.6h0.99v1h-0.99zM260.24 125.6h0.99v1h-0.99zM270.18 125.6h0.99v1h-0.99zM243.35 126.6h0.99v1h-0.99zM257.26 127.6h0.99v1h-0.99zM269.18 129.6h0.99v1h-0.99zM256.27 130.6h0.99v1h-0.99zM256.27 131.6h0.99v1h-0.99zM260.24 134.6h0.99v1h-0.99zM237.39 136.6h0.99v1h-0.99zM243.35 140.6h0.99v1h-0.99zM256.27 140.6h0.99v1h-0.99zM247.33 144.6h0.99v1h-0.99zM252.3 146.6h0.99v1h-0.99zM251.3 148.6h1.99v1h-1.99zM265.21 148.6h0.99v1h-0.99zM265.21 149.6h0.99v1h-0.99zM252.3 150.6h0.99v1h-0.99zM237.39 155.6h0.99v1h-0.99zM260.24 155.6h0.99v1h-0.99zM269.18 155.6h0.99v1h-0.99zM244.35 156.6h0.99v1h-0.99zM257.26 156.6h0.99v1h-0.99zM239.38 159.6h0.99v1h-0.99zM252.3 159.6h0.99v1h-0.99zM260.24 159.6h0.99v1h-0.99z"/>
<path fill="#663366" d="M267.2 104.6h0.99v1h-0.99zM271.17 104.6h1.99v1h-1.99zM267.2 105.6h0.99v1h-0.99zM272.16 105.6h0.99v1h-0.99zM241.37 106.6h0.99v1h-0.99zM267.2 106.6h0.99v1h-0.99zM241.37 107.6h0.99v1h-0.99zM267.2 107.6h1.99v1h-1.99zM241.37 108.6h0.99v1h-0.99zM267.2 108.6h1.99v1h-1.99zM271.17 108.6h0.99v1h-0.99zM255.28 109.6h0.99v1h-0.99zM267.2 109.6h0.99v1h-0.99zM271.17 109.6h0.99v1h-0.99zM267.2 110.6h0.99v1h-0.99zM271.17 110.6h0.99v1h-0.99zM267.2 111.6h0.99v1h-0.99zM271.17 111.6h0.99v1h-0.99zM250.31 112.6h0.99v1h-0.99zM254.28 112.6h0.99v1h-0.99zM267.2 112.6h0.99v1h-0.99zM271.17 112.6h0.99v1h-0.99zM254.28 113.6h0.99v1h-0.99zM267.2 113.6h0.99v1h-0.99zM271.17 113.6h0.99v1h-0.99zM241.37 114.6h0.99v1h-0.99zM254.28 114.6h0.99v1h-0.99zM267.2 114.6h0.99v1h-0.99zM271.17 114.6h0.99v1h-0.99zM241.37 115.6h0.99v1h-0.99zM271.17 115.6h0.99v1h-0.99zM254.28 116.6h0.99v1h-0.99zM271.17 116.6h0.99v1h-0.99zM241.37 117.6h0.99v1h-0.99zM254.28 117.6h0.99v1h-0.99zM271.17 117.6h0.99v1h-0.99zM241.37 118.6h0.99v1h-0.99zM271.17 118.6h0.99v1h-0.99zM241.37 119.6h0.99v1h-0.99zM271.17 119.6h0.99v1h-0.99zM267.2 120.6h0.99v1h-0.99zM271.17 120.6h0.99v1h-0.99zM241.37 121.6h0.99v1h-0.99zM267.2 121.6h0.99v1h-0.99zM271.17 121.6h0.99v1h-0.99zM267.2 122.6h0.99v1h-0.99zM271.17 122.6h0.99v1h-0.99zM267.2 123.6h0.99v1h-0.99zM267.2 124.6h0.99v1h-0.99zM241.37 125.6h0.99v1h-0.99zM271.17 125.6h0.99v1h-0.99zM267.2 126.6h0.99v1h-0.99zM271.17 126.6h0.99v1h-0.99zM267.2 127.6h0.99v1h-0.99zM271.17 127.6h0.99v1h-0.99zM236.4 128.6h0.99v1h-0.99zM271.17 128.6h0.99v1h-0.99zM245.34 129.6h0.99v1h-0.99zM267.2 129.6h0.99v1h-0.99zM271.17 129.6h0.99v1h-0.99zM245.34 130.6h0.99v1h-0.99zM267.2 130.6h0.99v1h-0.99zM271.17 130.6h0.99v1h-0.99zM245.34 131.6h0.99v1h-0.99zM267.2 131.6h0.99v1h-0.99zM245.34 132.6h0.99v1h-0.99zM267.2 132.6h0.99v1h-0.99zM271.17 132.6h0.99v1h-0.99zM245.34 133.6h0.99v1h-0.99zM267.2 133.6h0.99v1h-0.99zM271.17 133.6h0.99v1h-0.99zM241.37 134.6h0.99v1h-0.99zM267.2 134.6h0.99v1h-0.99zM271.17 134.6h0.99v1h-0.99zM267.2 135.6h0.99v1h-0.99zM271.17 135.6h0.99v1h-0.99zM236.4 136.6h0.99v1h-0.99zM267.2 137.6h0.99v1h-0.99zM271.17 137.6h0.99v1h-0.99zM236.4 138.6h0.99v1h-0.99zM245.34 138.6h0.99v1h-0.99zM267.2 138.6h0.99v1h-0.99zM241.37 139.6h0.99v1h-0.99zM245.34 139.6h0.99v1h-0.99zM267.2 139.6h0.99v1h-0.99zM271.17 139.6h0.99v1h-0.99zM271.17 140.6h0.99v1h-0.99zM245.34 141.6h0.99v1h-0.99zM267.2 141.6h0.99v1h-0.99zM271.17 141.6h0.99v1h-0.99zM245.34 142.6h0.99v1h-0.99zM267.2 142.6h0.99v1h-0.99zM271.17 142.6h0.99v1h-0.99zM245.34 143.6h0.99v1h-0.99zM267.2 143.6h0.99v1h-0.99zM267.2 144.6h0.99v1h-0.99zM271.17 144.6h0.99v1h-0.99zM258.26 145.6h0.99v1h-0.99zM267.2 145.6h0.99v1h-0.99zM258.26 146.6h0.99v1h-0.99zM268.19 146.6h0.99v1h-0.99zM271.17 146.6h0.99v1h-0.99zM258.26 147.6h0.99v1h-0.99zM267.2 147.6h1.99v1h-1.99zM271.17 147.6h0.99v1h-0.99zM267.2 148.6h1.99v1h-1.99zM245.34 149.6h0.99v1h-0.99zM267.2 149.6h1.99v1h-1.99zM254.28 150.6h0.99v1h-0.99zM267.2 150.6h0.99v1h-0.99zM267.2 151.6h0.99v1h-0.99zM271.17 151.6h0.99v1h-0.99zM245.34 152.6h0.99v1h-0.99zM267.2 152.6h0.99v1h-0.99zM271.17 152.6h0.99v1h-0.99zM267.2 153.6h0.99v1h-0.99zM271.17 153.6h0.99v1h-0.99zM267.2 154.6h0.99v1h-0.99zM271.17 154.6h0.99v1h-0.99zM267.2 155.6h0.99v1h-0.99zM271.17 155.6h0.99v1h-0.99zM267.2 156.6h0.99v1h-0.99zM267.2 157.6h0.99v1h-0.99zM245.34 158.6h0.99v1h-0.99zM267.2 158.6h0.99v1h-0.99zM245.34 159.6h0.99v1h-0.99zM271.17 159.6h0.99v1h-0.99z"/>
<path fill="#554466" d="M268.19 104.6h0.99v1h-0.99zM268.19 109.6h0.99v1h-0.99zM255.28 114.6h0.99v1h-0.99zM268.19 120.6h0.99v1h-0.99zM254.28 124.6h0.99v1h-0.99zM267.2 128.6h0.99v1h-0.99zM268.19 135.6h0.99v1h-0.99zM245.34 140.6h0.99v1h-0.99zM236.4 141.6h0.99v1h-0.99zM246.33 142.6h0.99v1h-0.99zM271.17 143.6h0.99v1h-0.99zM268.19 145.6h0.99v1h-0.99zM267.2 146.6h0.99v1h-0.99zM245.34 157.6h0.99v1h-0.99z"/>
<path fill="#ee6611" d="M269.18 104.6h0.99v1h-0.99zM278.12 104.6h0.99v1h-0.99zM282.1 104.6h0.99v1h-0.99zM290.05 104.6h0.99v1h-0.99zM295.01 104.6h0.99v1h-0.99zM266.2 105.6h0.99v1h-0.99zM278.12 105.6h0.99v1h-0.99zM282.1 105.6h0.99v1h-0.99zM290.05 105.6h0.99v1h-0.99zM295.01 105.6h0.99v1h-0.99zM238.39 106.6h0.99v1h-0.99zM266.2 106.6h0.99v1h-0.99zM278.12 106.6h0.99v1h-0.99zM282.1 106.6h0.99v1h-0.99zM290.05 106.6h0.99v1h-0.99zM295.01 106.6h0.99v1h-0.99zM278.12 107.6h0.99v1h-0.99zM282.1 107.6h0.99v1h-0.99zM290.05 107.6h0.99v1h-0.99zM295.01 107.6h0.99v1h-0.99zM252.3 108.6h0.99v1h-0.99zM273.16 108.6h0.99v1h-0.99zM278.12 108.6h0.99v1h-0.99zM282.1 108.6h0.99v1h-0.99zM290.05 108.6h0.99v1h-0.99zM295.01 108.6h0.99v1h-0.99zM273.16 109.6h0.99v1h-0.99zM278.12 109.6h0.99v1h-0.99zM282.1 109.6h0.99v1h-0.99zM290.05 109.6h0.99v1h-0.99zM295.01 109.6h0.99v1h-0.99zM273.16 110.6h0.99v1h-0.99zM278.12 110.6h0.99v1h-0.99zM282.1 110.6h0.99v1h-0.99zM290.05 110.6h0.99v1h-0.99zM295.01 110.6h0.99v1h-0.99zM257.26 111.6h0.99v1h-0.99zM265.21 111.6h0.99v1h-0.99zM273.16 111.6h0.99v1h-0.99zM278.12 111.6h0.99v1h-0.99zM282.1 111.6h0.99v1h-0.99zM290.05 111.6h0.99v1h-0.99zM295.01 111.6h0.99v1h-0.99zM239.38 112.6h0.99v1h-0.99zM257.26 112.6h0.99v1h-0.99zM265.21 112.6h0.99v1h-0.99zM273.16 112.6h0.99v1h-0.99zM278.12 112.6h0.99v1h-0.99zM282.1 112.6h0.99v1h-0.99zM290.05 112.6h0.99v1h-0.99zM295.01 112.6h0.99v1h-0.99zM270.18 113.6h0.99v1h-0.99zM273.16 113.6h0.99v1h-0.99zM278.12 113.6h0.99v1h-0.99zM282.1 113.6h0.99v1h-0.99zM290.05 113.6h0.99v1h-0.99zM295.01 113.6h0.99v1h-0.99zM270.18 114.6h0.99v1h-0.99zM273.16 114.6h0.99v1h-0.99zM278.12 114.6h0.99v1h-0.99zM282.1 114.6h0.99v1h-0.99zM290.05 114.6h0.99v1h-0.99zM295.01 114.6h0.99v1h-0.99zM243.35 115.6h0.99v1h-0.99zM253.29 115.6h0.99v1h-0.99zM256.27 115.6h0.99v1h-0.99zM270.18 115.6h0.99v1h-0.99zM273.16 115.6h0.99v1h-0.99zM278.12 115.6h0.99v1h-0.99zM282.1 115.6h0.99v1h-0.99zM290.05 115.6h0.99v1h-0.99zM295.01 115.6h0.99v1h-0.99zM243.35 116.6h0.99v1h-0.99zM253.29 116.6h0.99v1h-0.99zM273.16 116.6h0.99v1h-0.99zM278.12 116.6h0.99v1h-0.99zM282.1 116.6h0.99v1h-0.99zM290.05 116.6h0.99v1h-0.99zM295.01 116.6h0.99v1h-0.99zM273.16 117.6h0.99v1h-0.99zM278.12 117.6h0.99v1h-0.99zM282.1 117.6h0.99v1h-0.99zM290.05 117.6h0.99v1h-0.99zM295.01 117.6h0.99v1h-0.99zM273.16 118.6h0.99v1h-0.99zM278.12 118.6h0.99v1h-0.99zM282.1 118.6h0.99v1h-0.99zM290.05 118.6h0.99v1h-0.99zM295.01 118.6h0.99v1h-0.99zM238.39 119.6h0.99v1h-0.99zM243.35 119.6h0.99v1h-0.99zM273.16 119.6h0.99v1h-0.99zM278.12 119.6h0.99v1h-0.99zM282.1 119.6h0.99v1h-0.99zM290.05 119.6h0.99v1h-0.99zM295.01 119.6h0.99v1h-0.99zM273.16 120.6h0.99v1h-0.99zM278.12 120.6h0.99v1h-0.99zM282.1 120.6h0.99v1h-0.99zM290.05 120.6h0.99v1h-0.99zM295.01 120.6h0.99v1h-0.99zM238.39 121.6h0.99v1h-0.99zM273.16 121.6h0.99v1h-0.99zM278.12 121.6h0.99v1h-0.99zM282.1 121.6h0.99v1h-0.99zM290.05 121.6h0.99v1h-0.99zM295.01 121.6h0.99v1h-0.99zM257.26 122.6h0.99v1h-0.99zM273.16 122.6h0.99v1h-0.99zM278.12 122.6h0.99v1h-0.99zM282.1 122.6h0.99v1h-0.99zM290.05 122.6h0.99v1h-0.99zM295.01 122.6h0.99v1h-0.99zM253.29 123.6h0.99v1h-0.99zM273.16 123.6h0.99v1h-0.99zM278.12 123.6h0.99v1h-0.99zM282.1 123.6h0.99v1h-0.99zM290.05 123.6h0.99v1h-0.99zM295.01 123.6h0.99v1h-0.99zM243.35 124.6h0.99v1h-0.99zM252.3 124.6h0.99v1h-0.99zM273.16 124.6h0.99v1h-0.99zM278.12 124.6h0.99v1h-0.99zM282.1 124.6h0.99v1h-0.99zM290.05 124.6h0.99v1h-0.99zM295.01 124.6h0.99v1h-0.99zM239.38 125.6h0.99v1h-0.99zM248.32 125.6h0.99v1h-0.99zM261.24 125.6h0.99v1h-0.99zM265.21 125.6h0.99v1h-0.99zM273.16 125.6h0.99v1h-0.99zM278.12 125.6h0.99v1h-0.99zM282.1 125.6h0.99v1h-0.99zM290.05 125.6h0.99v1h-0.99zM295.01 125.6h0.99v1h-0.99zM270.18 126.6h0.99v1h-0.99zM273.16 126.6h0.99v1h-0.99zM278.12 126.6h0.99v1h-0.99zM282.1 126.6h0.99v1h-0.99zM290.05 126.6h0.99v1h-0.99zM295.01 126.6h0.99v1h-0.99zM243.35 127.6h0.99v1h-0.99zM270.18 127.6h0.99v1h-0.99zM273.16 127.6h0.99v1h-0.99zM278.12 127.6h0.99v1h-0.99zM282.1 127.6h0.99v1h-0.99zM290.05 127.6h0.99v1h-0.99zM295.01 127.6h0.99v1h-0.99zM239.38 128.6h0.99v1h-0.99zM270.18 128.6h0.99v1h-0.99zM273.16 128.6h0.99v1h-0.99zM278.12 128.6h0.99v1h-0.99zM282.1 128.6h0.99v1h-0.99zM290.05 128.6h0.99v1h-0.99zM295.01 128.6h0.99v1h-0.99zM239.38 129.6h0.99v1h-0.99zM252.3 129.6h0.99v1h-0.99zM273.16 129.6h0.99v1h-0.99zM278.12 129.6h0.99v1h-0.99zM282.1 129.6h0.99v1h-0.99zM290.05 129.6h0.99v1h-0.99zM295.01 129.6h0.99v1h-0.99zM266.2 130.6h0.99v1h-0.99zM273.16 130.6h0.99v1h-0.99zM278.12 130.6h0.99v1h-0.99zM282.1 130.6h0.99v1h-0.99zM290.05 130.6h0.99v1h-0.99zM295.01 130.6h0.99v1h-0.99zM247.33 131.6h0.99v1h-0.99zM273.16 131.6h0.99v1h-0.99zM278.12 131.6h0.99v1h-0.99zM282.1 131.6h0.99v1h-0.99zM290.05 131.6h0.99v1h-0.99zM295.01 131.6h0.99v1h-0.99zM269.18 132.6h0.99v1h-0.99zM273.16 132.6h0.99v1h-0.99zM278.12 132.6h0.99v1h-0.99zM282.1 132.6h0.99v1h-0.99zM290.05 132.6h0.99v1h-0.99zM295.01 132.6h0.99v1h-0.99zM239.38 133.6h0.99v1h-0.99zM273.16 133.6h0.99v1h-0.99zM278.12 133.6h0.99v1h-0.99zM282.1 133.6h0.99v1h-0.99zM290.05 133.6h0.99v1h-0.99zM295.01 133.6h0.99v1h-0.99zM239.38 134.6h0.99v1h-0.99zM273.16 134.6h0.99v1h-0.99zM278.12 134.6h0.99v1h-0.99zM282.1 134.6h0.99v1h-0.99zM290.05 134.6h0.99v1h-0.99zM295.01 134.6h0.99v1h-0.99zM239.38 135.6h0.99v1h-0.99zM273.16 135.6h0.99v1h-0.99zM278.12 135.6h0.99v1h-0.99zM282.1 135.6h0.99v1h-0.99zM290.05 135.6h0.99v1h-0.99zM295.01 135.6h0.99v1h-0.99zM243.35 136.6h0.99v1h-0.99zM269.18 136.6h0.99v1h-0.99zM273.16 136.6h0.99v1h-0.99zM278.12 136.6h0.99v1h-0.99zM282.1 136.6h0.99v1h-0.99zM290.05 136.6h0.99v1h-0.99zM295.01 136.6h0.99v1h-0.99zM237.39 137.6h0.99v1h-0.99zM265.21 137.6h0.99v1h-0.99zM273.16 137.6h0.99v1h-0.99zM278.12 137.6h0.99v1h-0.99zM282.1 137.6h0.99v1h-0.99zM290.05 137.6h0.99v1h-0.99zM295.01 137.6h0.99v1h-0.99zM261.24 138.6h0.99v1h-0.99zM273.16 138.6h0.99v1h-0.99zM278.12 138.6h0.99v1h-0.99zM282.1 138.6h0.99v1h-0.99zM290.05 138.6h0.99v1h-0.99zM295.01 138.6h0.99v1h-0.99zM252.3 139.6h0.99v1h-0.99zM257.26 139.6h0.99v1h-0.99zM261.24 139.6h0.99v1h-0.99zM273.16 139.6h0.99v1h-0.99zM278.12 139.6h0.99v1h-0.99zM282.1 139.6h0.99v1h-0.99zM290.05 139.6h0.99v1h-0.99zM295.01 139.6h0.99v1h-0.99zM273.16 140.6h0.99v1h-0.99zM278.12 140.6h0.99v1h-0.99zM282.1 140.6h0.99v1h-0.99zM290.05 140.6h0.99v1h-0.99zM295.01 140.6h0.99v1h-0.99zM237.39 141.6h0.99v1h-0.99zM239.38 141.6h0.99v1h-0.99zM252.3 141.6h0.99v1h-0.99zM273.16 141.6h0.99v1h-0.99zM278.12 141.6h0.99v1h-0.99zM282.1 141.6h0.99v1h-0.99zM290.05 141.6h0.99v1h-0.99zM295.01 141.6h0.99v1h-0.99zM243.35 142.6h0.99v1h-0.99zM273.16 142.6h0.99v1h-0.99zM278.12 142.6h0.99v1h-0.99zM282.1 142.6h0.99v1h-0.99zM290.05 142.6h0.99v1h-0.99zM295.01 142.6h0.99v1h-0.99zM273.16 143.6h0.99v1h-0.99zM278.12 143.6h0.99v1h-0.99zM282.1 143.6h0.99v1h-0.99zM290.05 143.6h0.99v1h-0.99zM295.01 143.6h0.99v1h-0.99zM269.18 144.6h0.99v1h-0.99zM273.16 144.6h0.99v1h-0.99zM278.12 144.6h0.99v1h-0.99zM282.1 144.6h0.99v1h-0.99zM290.05 144.6h0.99v1h-0.99zM295.01 144.6h0.99v1h-0.99zM243.35 145.6h0.99v1h-0.99zM256.27 145.6h0.99v1h-0.99zM273.16 145.6h0.99v1h-0.99zM278.12 145.6h0.99v1h-0.99zM282.1 145.6h0.99v1h-0.99zM290.05 145.6h0.99v1h-0.99zM295.01 145.6h0.99v1h-0.99zM273.16 146.6h0.99v1h-0.99zM278.12 146.6h0.99v1h-0.99zM282.1 146.6h0.99v1h-0.99zM290.05 146.6h0.99v1h-0.99zM295.01 146.6h0.99v1h-0.99zM237.39 147.6h0.99v1h-0.99zM273.16 147.6h0.99v1h-0.99zM278.12 147.6h0.99v1h-0.99zM282.1 147.6h0.99v1h-0.99zM290.05 147.6h0.99v1h-0.99zM295.01 147.6h0.99v1h-0.99zM273.16 148.6h0.99v1h-0.99zM278.12 148.6h0.99v1h-0.99zM282.1 148.6h0.99v1h-0.99zM290.05 148.6h0.99v1h-0.99zM295.01 148.6h0.99v1h-0.99zM273.16 149.6h0.99v1h-0.99zM278.12 149.6h0.99v1h-0.99zM282.1 149.6h0.99v1h-0.99zM290.05 149.6h0.99v1h-0.99zM295.01 149.6h0.99v1h-0.99zM265.21 150.6h0.99v1h-0.99zM273.16 150.6h0.99v1h-0.99zM278.12 150.6h0.99v1h-0.99zM282.1 150.6h0.99v1h-0.99zM290.05 150.6h0.99v1h-0.99zM295.01 150.6h0.99v1h-0.99zM237.39 151.6h0.99v1h-0.99zM265.21 151.6h0.99v1h-0.99zM273.16 151.6h0.99v1h-0.99zM278.12 151.6h0.99v1h-0.99zM282.1 151.6h0.99v1h-0.99zM290.05 151.6h0.99v1h-0.99zM295.01 151.6h0.99v1h-0.99zM256.27 152.6h0.99v1h-0.99zM273.16 152.6h0.99v1h-0.99zM278.12 152.6h0.99v1h-0.99zM282.1 152.6h0.99v1h-0.99zM290.05 152.6h0.99v1h-0.99zM295.01 152.6h0.99v1h-0.99zM256.27 153.6h0.99v1h-0.99zM273.16 153.6h0.99v1h-0.99zM278.12 153.6h0.99v1h-0.99zM282.1 153.6h0.99v1h-0.99zM290.05 153.6h0.99v1h-0.99zM295.01 153.6h0.99v1h-0.99zM261.24 154.6h0.99v1h-0.99zM265.21 154.6h0.99v1h-0.99zM270.18 154.6h0.99v1h-0.99zM273.16 154.6h0.99v1h-0.99zM278.12 154.6h0.99v1h-0.99zM282.1 154.6h0.99v1h-0.99zM290.05 154.6h0.99v1h-0.99zM295.01 154.6h0.99v1h-0.99zM257.26 155.6h0.99v1h-0.99zM273.16 155.6h0.99v1h-0.99zM278.12 155.6h0.99v1h-0.99zM282.1 155.6h0.99v1h-0.99zM290.05 155.6h0.99v1h-0.99zM295.01 155.6h0.99v1h-0.99zM273.16 156.6h0.99v1h-0.99zM278.12 156.6h0.99v1h-0.99zM282.1 156.6h0.99v1h-0.99zM290.05 156.6h0.99v1h-0.99zM295.01 156.6h0.99v1h-0.99zM244.35 157.6h0.99v1h-0.99zM261.24 157.6h0.99v1h-0.99zM270.18 157.6h0.99v1h-0.99zM273.16 157.6h0.99v1h-0.99zM278.12 157.6h0.99v1h-0.99zM282.1 157.6h0.99v1h-0.99zM290.05 157.6h0.99v1h-0.99zM295.01 157.6h0.99v1h-0.99zM270.18 158.6h0.99v1h-0.99zM273.16 158.6h0.99v1h-0.99zM278.12 158.6h0.99v1h-0.99zM282.1 158.6h0.99v1h-0.99zM290.05 158.6h0.99v1h-0.99zM295.01 158.6h0.99v1h-0.99zM273.16 159.6h0.99v1h-0.99zM278.12 159.6h0.99v1h-0.99zM282.1 159.6h0.99v1h-0.99zM290.05 159.6h0.99v1h-0.99zM295.01 159.6h0.99v1h-0.99z"/>
<path fill="#224488" d="M276.14 104.6h0.99v1h-0.99zM284.09 104.6h0.99v1h-0.99zM276.14 105.6h0.99v1h-0.99zM284.09 105.6h0.99v1h-0.99zM276.14 106.6h0.99v1h-0.99zM284.09 106.6h0.99v1h-0.99zM276.14 107.6h0.99v1h-0.99zM284.09 107.6h0.99v1h-0.99zM276.14 108.6h0.99v1h-0.99zM284.09 108.6h0.99v1h-0.99zM259.25 109.6h0.99v1h-0.99zM276.14 109.6h0.99v1h-0.99zM284.09 109.6h0.99v1h-0.99zM276.14 110.6h0.99v1h-0.99zM284.09 110.6h0.99v1h-0.99zM276.14 111.6h0.99v1h-0.99zM284.09 111.6h0.99v1h-0.99zM276.14 112.6h0.99v1h-0.99zM284.09 112.6h0.99v1h-0.99zM276.14 113.6h0.99v1h-0.99zM284.09 113.6h0.99v1h-0.99zM276.14 114.6h0.99v1h-0.99zM284.09 114.6h0.99v1h-0.99zM276.14 115.6h0.99v1h-0.99zM284.09 115.6h0.99v1h-0.99zM276.14 116.6h0.99v1h-0.99zM284.09 116.6h0.99v1h-0.99zM276.14 117.6h0.99v1h-0.99zM284.09 117.6h0.99v1h-0.99zM276.14 118.6h0.99v1h-0.99zM284.09 118.6h0.99v1h-0.99zM276.14 119.6h0.99v1h-0.99zM284.09 119.6h0.99v1h-0.99zM276.14 120.6h0.99v1h-0.99zM284.09 120.6h0.99v1h-0.99zM276.14 121.6h0.99v1h-0.99zM284.09 121.6h0.99v1h-0.99zM276.14 122.6h0.99v1h-0.99zM284.09 122.6h0.99v1h-0.99zM276.14 123.6h0.99v1h-0.99zM284.09 123.6h0.99v1h-0.99zM276.14 124.6h0.99v1h-0.99zM284.09 124.6h0.99v1h-0.99zM276.14 125.6h0.99v1h-0.99zM284.09 125.6h0.99v1h-0.99zM276.14 126.6h0.99v1h-0.99zM284.09 126.6h0.99v1h-0.99zM276.14 127.6h0.99v1h-0.99zM284.09 127.6h0.99v1h-0.99zM276.14 128.6h0.99v1h-0.99zM284.09 128.6h0.99v1h-0.99zM246.33 129.6h0.99v1h-0.99zM276.14 129.6h0.99v1h-0.99zM284.09 129.6h0.99v1h-0.99zM276.14 130.6h0.99v1h-0.99zM284.09 130.6h0.99v1h-0.99zM276.14 131.6h0.99v1h-0.99zM284.09 131.6h0.99v1h-0.99zM276.14 132.6h0.99v1h-0.99zM284.09 132.6h0.99v1h-0.99zM276.14 133.6h0.99v1h-0.99zM284.09 133.6h0.99v1h-0.99zM276.14 134.6h0.99v1h-0.99zM284.09 134.6h0.99v1h-0.99zM276.14 135.6h0.99v1h-0.99zM284.09 135.6h0.99v1h-0.99zM276.14 136.6h0.99v1h-0.99zM284.09 136.6h0.99v1h-0.99zM276.14 137.6h0.99v1h-0.99zM284.09 137.6h0.99v1h-0.99zM276.14 138.6h0.99v1h-0.99zM284.09 138.6h0.99v1h-0.99zM276.14 139.6h0.99v1h-0.99zM284.09 139.6h0.99v1h-0.99zM276.14 140.6h0.99v1h-0.99zM284.09 140.6h0.99v1h-0.99zM276.14 141.6h0.99v1h-0.99zM284.09 141.6h0.99v1h-0.99zM276.14 142.6h0.99v1h-0.99zM284.09 142.6h0.99v1h-0.99zM276.14 143.6h0.99v1h-0.99zM284.09 143.6h0.99v1h-0.99zM276.14 144.6h0.99v1h-0.99zM284.09 144.6h0.99v1h-0.99zM276.14 145.6h0.99v1h-0.99zM284.09 145.6h0.99v1h-0.99zM276.14 146.6h0.99v1h-0.99zM284.09 146.6h0.99v1h-0.99zM276.14 147.6h0.99v1h-0.99zM284.09 147.6h0.99v1h-0.99zM276.14 148.6h0.99v1h-0.99zM284.09 148.6h0.99v1h-0.99zM276.14 149.6h0.99v1h-0.99zM284.09 149.6h0.99v1h-0.99zM276.14 150.6h0.99v1h-0.99zM284.09 150.6h0.99v1h-0.99zM276.14 151.6h0.99v1h-0.99zM284.09 151.6h0.99v1h-0.99zM276.14 152.6h0.99v1h-0.99zM284.09 152.6h0.99v1h-0.99zM276.14 153.6h0.99v1h-0.99zM284.09 153.6h0.99v1h-0.99zM259.25 154.6h0.99v1h-0.99zM276.14 154.6h0.99v1h-0.99zM284.09 154.6h0.99v1h-0.99zM259.25 155.6h0.99v1h-0.99zM276.14 155.6h0.99v1h-0.99zM284.09 155.6h0.99v1h-0.99zM276.14 156.6h0.99v1h-0.99zM284.09 156.6h0.99v1h-0.99zM259.25 157.6h0.99v1h-0.99zM276.14 157.6h0.99v1h-0.99zM284.09 157.6h0.99v1h-0.99zM276.14 158.6h0.99v1h-0.99zM284.09 158.6h0.99v1h-0.99zM276.14 159.6h0.99v1h-0.99zM284.09 159.6h0.99v1h-0.99z"/>
<path fill="#aa3333" d="M279.12 104.6h0.99v1h-0.99zM281.1 104.6h0.99v1h-0.99zM289.05 104.6h0.99v1h-0.99zM279.12 105.6h0.99v1h-0.99zM281.1 105.6h0.99v1h-0.99zM289.05 105.6h0.99v1h-0.99zM279.12 106.6h0.99v1h-0.99zM281.1 106.6h0.99v1h-0.99zM289.05 106.6h0.99v1h-0.99zM279.12 107.6h0.99v1h-0.99zM281.1 107.6h0.99v1h-0.99zM289.05 107.6h0.99v1h-0.99zM279.12 108.6h0.99v1h-0.99zM281.1 108.6h0.99v1h-0.99zM289.05 108.6h0.99v1h-0.99zM245.34 109.6h0.99v1h-0.99zM279.12 109.6h0.99v1h-0.99zM281.1 109.6h0.99v1h-0.99zM289.05 109.6h0.99v1h-0.99zM245.34 110.6h0.99v1h-0.99zM279.12 110.6h0.99v1h-0.99zM281.1 110.6h0.99v1h-0.99zM289.05 110.6h0.99v1h-0.99zM245.34 111.6h0.99v1h-0.99zM279.12 111.6h0.99v1h-0.99zM281.1 111.6h0.99v1h-0.99zM289.05 111.6h0.99v1h-0.99zM245.34 112.6h0.99v1h-0.99zM279.12 112.6h0.99v1h-0.99zM281.1 112.6h0.99v1h-0.99zM289.05 112.6h0.99v1h-0.99zM279.12 113.6h0.99v1h-0.99zM281.1 113.6h0.99v1h-0.99zM289.05 113.6h0.99v1h-0.99zM245.34 114.6h0.99v1h-0.99zM258.26 114.6h0.99v1h-0.99zM279.12 114.6h0.99v1h-0.99zM281.1 114.6h0.99v1h-0.99zM289.05 114.6h0.99v1h-0.99zM245.34 115.6h0.99v1h-0.99zM258.26 115.6h0.99v1h-0.99zM279.12 115.6h0.99v1h-0.99zM281.1 115.6h0.99v1h-0.99zM289.05 115.6h0.99v1h-0.99zM245.34 116.6h0.99v1h-0.99zM258.26 116.6h0.99v1h-0.99zM279.12 116.6h0.99v1h-0.99zM281.1 116.6h0.99v1h-0.99zM289.05 116.6h0.99v1h-0.99zM245.34 117.6h0.99v1h-0.99zM279.12 117.6h0.99v1h-0.99zM281.1 117.6h0.99v1h-0.99zM289.05 117.6h0.99v1h-0.99zM258.26 118.6h0.99v1h-0.99zM279.12 118.6h0.99v1h-0.99zM281.1 118.6h0.99v1h-0.99zM289.05 118.6h0.99v1h-0.99zM258.26 119.6h0.99v1h-0.99zM279.12 119.6h0.99v1h-0.99zM281.1 119.6h0.99v1h-0.99zM289.05 119.6h0.99v1h-0.99zM245.34 120.6h0.99v1h-0.99zM258.26 120.6h0.99v1h-0.99zM279.12 120.6h0.99v1h-0.99zM281.1 120.6h0.99v1h-0.99zM289.05 120.6h0.99v1h-0.99zM245.34 121.6h0.99v1h-0.99zM258.26 121.6h0.99v1h-0.99zM279.12 121.6h0.99v1h-0.99zM281.1 121.6h0.99v1h-0.99zM289.05 121.6h0.99v1h-0.99zM245.34 122.6h0.99v1h-0.99zM258.26 122.6h0.99v1h-0.99zM279.12 122.6h0.99v1h-0.99zM281.1 122.6h0.99v1h-0.99zM289.05 122.6h0.99v1h-0.99zM245.34 123.6h0.99v1h-0.99zM258.26 123.6h0.99v1h-0.99zM279.12 123.6h0.99v1h-0.99zM281.1 123.6h0.99v1h-0.99zM289.05 123.6h0.99v1h-0.99zM245.34 124.6h0.99v1h-0.99zM258.26 124.6h0.99v1h-0.99zM279.12 124.6h0.99v1h-0.99zM281.1 124.6h0.99v1h-0.99zM289.05 124.6h0.99v1h-0.99zM245.34 125.6h0.99v1h-0.99zM258.26 125.6h0.99v1h-0.99zM279.12 125.6h0.99v1h-0.99zM281.1 125.6h0.99v1h-0.99zM289.05 125.6h0.99v1h-0.99zM245.34 126.6h0.99v1h-0.99zM279.12 126.6h0.99v1h-0.99zM281.1 126.6h0.99v1h-0.99zM289.05 126.6h0.99v1h-0.99zM279.12 127.6h0.99v1h-0.99zM281.1 127.6h0.99v1h-0.99zM289.05 127.6h0.99v1h-0.99zM255.28 128.6h0.99v1h-0.99zM279.12 128.6h0.99v1h-0.99zM281.1 128.6h0.99v1h-0.99zM289.05 128.6h0.99v1h-0.99zM279.12 129.6h0.99v1h-0.99zM281.1 129.6h0.99v1h-0.99zM289.05 129.6h0.99v1h-0.99zM279.12 130.6h0.99v1h-0.99zM281.1 130.6h0.99v1h-0.99zM289.05 130.6h0.99v1h-0.99zM249.31 131.6h0.99v1h-0.99zM279.12 131.6h0.99v1h-0.99zM281.1 131.6h0.99v1h-0.99zM289.05 131.6h0.99v1h-0.99zM242.36 132.6h0.99v1h-0.99zM249.31 132.6h0.99v1h-0.99zM262.23 132.6h0.99v1h-0.99zM279.12 132.6h0.99v1h-0.99zM281.1 132.6h0.99v1h-0.99zM289.05 132.6h0.99v1h-0.99zM249.31 133.6h0.99v1h-0.99zM279.12 133.6h0.99v1h-0.99zM281.1 133.6h0.99v1h-0.99zM289.05 133.6h0.99v1h-0.99zM249.31 134.6h0.99v1h-0.99zM279.12 134.6h0.99v1h-0.99zM281.1 134.6h0.99v1h-0.99zM289.05 134.6h0.99v1h-0.99zM249.31 135.6h0.99v1h-0.99zM262.23 135.6h0.99v1h-0.99zM279.12 135.6h0.99v1h-0.99zM281.1 135.6h0.99v1h-0.99zM289.05 135.6h0.99v1h-0.99zM240.37 136.6h0.99v1h-0.99zM258.26 136.6h0.99v1h-0.99zM279.12 136.6h0.99v1h-0.99zM281.1 136.6h0.99v1h-0.99zM289.05 136.6h0.99v1h-0.99zM258.26 137.6h0.99v1h-0.99zM279.12 137.6h0.99v1h-0.99zM281.1 137.6h0.99v1h-0.99zM289.05 137.6h0.99v1h-0.99zM258.26 138.6h0.99v1h-0.99zM279.12 138.6h0.99v1h-0.99zM281.1 138.6h0.99v1h-0.99zM289.05 138.6h0.99v1h-0.99zM279.12 139.6h0.99v1h-0.99zM281.1 139.6h0.99v1h-0.99zM289.05 139.6h0.99v1h-0.99zM258.26 140.6h0.99v1h-0.99zM279.12 140.6h0.99v1h-0.99zM281.1 140.6h0.99v1h-0.99zM289.05 140.6h0.99v1h-0.99zM258.26 141.6h0.99v1h-0.99zM279.12 141.6h0.99v1h-0.99zM281.1 141.6h0.99v1h-0.99zM289.05 141.6h0.99v1h-0.99zM249.31 142.6h0.99v1h-0.99zM262.23 142.6h0.99v1h-0.99zM279.12 142.6h0.99v1h-0.99zM281.1 142.6h0.99v1h-0.99zM289.05 142.6h0.99v1h-0.99zM249.31 143.6h0.99v1h-0.99zM258.26 143.6h0.99v1h-0.99zM262.23 143.6h0.99v1h-0.99zM279.12 143.6h0.99v1h-0.99zM281.1 143.6h0.99v1h-0.99zM289.05 143.6h0.99v1h-0.99zM249.31 144.6h0.99v1h-0.99zM262.23 144.6h0.99v1h-0.99zM279.12 144.6h0.99v1h-0.99zM281.1 144.6h0.99v1h-0.99zM289.05 144.6h0.99v1h-0.99zM240.37 145.6h0.99v1h-0.99zM253.29 145.6h0.99v1h-0.99zM262.23 145.6h0.99v1h-0.99zM279.12 145.6h0.99v1h-0.99zM281.1 145.6h0.99v1h-0.99zM289.05 145.6h0.99v1h-0.99zM240.37 146.6h0.99v1h-0.99zM249.31 146.6h0.99v1h-0.99zM253.29 146.6h0.99v1h-0.99zM262.23 146.6h0.99v1h-0.99zM279.12 146.6h0.99v1h-0.99zM281.1 146.6h0.99v1h-0.99zM289.05 146.6h0.99v1h-0.99zM249.31 147.6h0.99v1h-0.99zM253.29 147.6h0.99v1h-0.99zM279.12 147.6h0.99v1h-0.99zM281.1 147.6h0.99v1h-0.99zM289.05 147.6h0.99v1h-0.99zM240.37 148.6h0.99v1h-0.99zM249.31 148.6h0.99v1h-0.99zM279.12 148.6h0.99v1h-0.99zM281.1 148.6h0.99v1h-0.99zM289.05 148.6h0.99v1h-0.99zM249.31 149.6h0.99v1h-0.99zM258.26 149.6h0.99v1h-0.99zM279.12 149.6h0.99v1h-0.99zM281.1 149.6h0.99v1h-0.99zM289.05 149.6h0.99v1h-0.99zM258.26 150.6h0.99v1h-0.99zM279.12 150.6h0.99v1h-0.99zM281.1 150.6h0.99v1h-0.99zM289.05 150.6h0.99v1h-0.99zM258.26 151.6h0.99v1h-0.99zM268.19 151.6h0.99v1h-0.99zM279.12 151.6h0.99v1h-0.99zM281.1 151.6h0.99v1h-0.99zM289.05 151.6h0.99v1h-0.99zM249.31 152.6h0.99v1h-0.99zM255.28 152.6h0.99v1h-0.99zM258.26 152.6h0.99v1h-0.99zM279.12 152.6h0.99v1h-0.99zM281.1 152.6h0.99v1h-0.99zM289.05 152.6h0.99v1h-0.99zM249.31 153.6h0.99v1h-0.99zM279.12 153.6h0.99v1h-0.99zM281.1 153.6h0.99v1h-0.99zM289.05 153.6h0.99v1h-0.99zM245.34 154.6h0.99v1h-0.99zM249.31 154.6h0.99v1h-0.99zM279.12 154.6h0.99v1h-0.99zM281.1 154.6h0.99v1h-0.99zM289.05 154.6h0.99v1h-0.99zM249.31 155.6h0.99v1h-0.99zM279.12 155.6h0.99v1h-0.99zM281.1 155.6h0.99v1h-0.99zM289.05 155.6h0.99v1h-0.99zM279.12 156.6h0.99v1h-0.99zM281.1 156.6h0.99v1h-0.99zM289.05 156.6h0.99v1h-0.99zM262.23 157.6h0.99v1h-0.99zM279.12 157.6h0.99v1h-0.99zM281.1 157.6h0.99v1h-0.99zM289.05 157.6h0.99v1h-0.99zM249.31 158.6h0.99v1h-0.99zM262.23 158.6h0.99v1h-0.99zM279.12 158.6h0.99v1h-0.99zM281.1 158.6h0.99v1h-0.99zM289.05 158.6h0.99v1h-0.99zM249.31 159.6h0.99v1h-0.99zM262.23 159.6h0.99v1h-0.99zM279.12 159.6h0.99v1h-0.99zM281.1 159.6h0.99v1h-0.99zM289.05 159.6h0.99v1h-0.99z"/>
<path fill="#113388" d="M280.11 104.6h0.99v1h-0.99zM280.11 105.6h0.99v1h-0.99zM280.11 106.6h0.99v1h-0.99zM280.11 107.6h0.99v1h-0.99zM280.11 108.6h0.99v1h-0.99zM280.11 109.6h0.99v1h-0.99zM280.11 110.6h0.99v1h-0.99zM280.11 111.6h0.99v1h-0.99zM236.4 112.6h0.99v1h-0.99zM280.11 112.6h0.99v1h-0.99zM259.25 113.6h0.99v1h-0.99zM280.11 113.6h0.99v1h-0.99zM280.11 114.6h0.99v1h-0.99zM236.4 115.6h0.99v1h-0.99zM280.11 115.6h0.99v1h-0.99zM236.4 116.6h0.99v1h-0.99zM280.11 116.6h0.99v1h-0.99zM259.25 117.6h0.99v1h-0.99zM280.11 117.6h0.99v1h-0.99zM280.11 118.6h0.99v1h-0.99zM280.11 119.6h0.99v1h-0.99zM280.11 120.6h0.99v1h-0.99zM280.11 121.6h0.99v1h-0.99zM280.11 122.6h0.99v1h-0.99zM280.11 123.6h0.99v1h-0.99zM280.11 124.6h0.99v1h-0.99zM280.11 125.6h0.99v1h-0.99zM280.11 126.6h0.99v1h-0.99zM280.11 127.6h0.99v1h-0.99zM280.11 128.6h0.99v1h-0.99zM280.11 129.6h0.99v1h-0.99zM250.31 130.6h0.99v1h-0.99zM280.11 130.6h0.99v1h-0.99zM280.11 131.6h0.99v1h-0.99zM280.11 132.6h0.99v1h-0.99zM280.11 133.6h0.99v1h-0.99zM254.28 134.6h0.99v1h-0.99zM263.22 134.6h0.99v1h-0.99zM280.11 134.6h0.99v1h-0.99zM280.11 135.6h0.99v1h-0.99zM241.37 136.6h0.99v1h-0.99zM280.11 136.6h0.99v1h-0.99zM280.11 137.6h0.99v1h-0.99zM280.11 138.6h0.99v1h-0.99zM280.11 139.6h0.99v1h-0.99zM280.11 140.6h0.99v1h-0.99zM250.31 141.6h0.99v1h-0.99zM280.11 141.6h0.99v1h-0.99zM250.31 142.6h0.99v1h-0.99zM263.22 142.6h0.99v1h-0.99zM280.11 142.6h0.99v1h-0.99zM263.22 143.6h0.99v1h-0.99zM280.11 143.6h0.99v1h-0.99zM254.28 144.6h0.99v1h-0.99zM263.22 144.6h0.99v1h-0.99zM280.11 144.6h0.99v1h-0.99zM254.28 145.6h0.99v1h-0.99zM263.22 145.6h0.99v1h-0.99zM280.11 145.6h0.99v1h-0.99zM254.28 146.6h0.99v1h-0.99zM263.22 146.6h0.99v1h-0.99zM280.11 146.6h0.99v1h-0.99zM254.28 147.6h0.99v1h-0.99zM263.22 147.6h0.99v1h-0.99zM280.11 147.6h0.99v1h-0.99zM254.28 148.6h0.99v1h-0.99zM263.22 148.6h0.99v1h-0.99zM280.11 148.6h0.99v1h-0.99zM280.11 149.6h0.99v1h-0.99zM263.22 150.6h0.99v1h-0.99zM280.11 150.6h0.99v1h-0.99zM263.22 151.6h0.99v1h-0.99zM280.11 151.6h0.99v1h-0.99zM250.31 152.6h0.99v1h-0.99zM280.11 152.6h0.99v1h-0.99zM250.31 153.6h0.99v1h-0.99zM280.11 153.6h0.99v1h-0.99zM250.31 154.6h0.99v1h-0.99zM280.11 154.6h0.99v1h-0.99zM263.22 155.6h0.99v1h-0.99zM280.11 155.6h0.99v1h-0.99zM263.22 156.6h0.99v1h-0.99zM280.11 156.6h0.99v1h-0.99zM263.22 157.6h0.99v1h-0.99zM280.11 157.6h0.99v1h-0.99zM263.22 158.6h0.99v1h-0.99zM280.11 158.6h0.99v1h-0.99zM263.22 159.6h0.99v1h-0.99zM280.11 159.6h0.99v1h-0.99z"/>
<path fill="#dd9911" d="M286.07 104.6h0.99v1h-0.99zM244.35 105.6h0.99v1h-0.99zM248.32 105.6h0.99v1h-0.99zM286.07 105.6h0.99v1h-0.99zM248.32 106.6h0.99v1h-0.99zM286.07 106.6h0.99v1h-0.99zM248.32 107.6h0.99v1h-0.99zM286.07 107.6h0.99v1h-0.99zM248.32 108.6h0.99v1h-0.99zM261.24 108.6h0.99v1h-0.99zM286.07 108.6h0.99v1h-0.99zM261.24 109.6h0.99v1h-0.99zM286.07 109.6h0.99v1h-0.99zM261.24 110.6h0.99v1h-0.99zM286.07 110.6h0.99v1h-0.99zM256.27 111.6h0.99v1h-0.99zM286.07 111.6h0.99v1h-0.99zM243.35 112.6h0.99v1h-0.99zM248.32 112.6h0.99v1h-0.99zM286.07 112.6h0.99v1h-0.99zM243.35 113.6h0.99v1h-0.99zM265.21 113.6h0.99v1h-0.99zM286.07 113.6h0.99v1h-0.99zM238.39 114.6h0.99v1h-0.99zM286.07 114.6h0.99v1h-0.99zM286.07 115.6h0.99v1h-0.99zM286.07 116.6h0.99v1h-0.99zM256.27 117.6h0.99v1h-0.99zM286.07 117.6h0.99v1h-0.99zM256.27 118.6h0.99v1h-0.99zM261.24 118.6h0.99v1h-0.99zM270.18 118.6h0.99v1h-0.99zM286.07 118.6h0.99v1h-0.99zM247.33 119.6h0.99v1h-0.99zM286.07 119.6h0.99v1h-0.99zM262.23 120.6h0.99v1h-0.99zM286.07 120.6h0.99v1h-0.99zM243.35 121.6h0.99v1h-0.99zM252.3 121.6h0.99v1h-0.99zM265.21 121.6h0.99v1h-0.99zM286.07 121.6h0.99v1h-0.99zM252.3 122.6h0.99v1h-0.99zM270.18 122.6h0.99v1h-0.99zM286.07 122.6h0.99v1h-0.99zM257.26 123.6h0.99v1h-0.99zM286.07 123.6h0.99v1h-0.99zM261.24 124.6h0.99v1h-0.99zM286.07 124.6h0.99v1h-0.99zM243.35 125.6h0.99v1h-0.99zM286.07 125.6h0.99v1h-0.99zM286.07 126.6h0.99v1h-0.99zM256.27 127.6h0.99v1h-0.99zM265.21 127.6h0.99v1h-0.99zM286.07 127.6h0.99v1h-0.99zM265.21 128.6h0.99v1h-0.99zM286.07 128.6h0.99v1h-0.99zM265.21 129.6h0.99v1h-0.99zM286.07 129.6h0.99v1h-0.99zM239.38 130.6h0.99v1h-0.99zM247.33 130.6h0.99v1h-0.99zM286.07 130.6h0.99v1h-0.99zM257.26 131.6h0.99v1h-0.99zM265.21 131.6h0.99v1h-0.99zM286.07 131.6h0.99v1h-0.99zM251.3 132.6h0.99v1h-0.99zM286.07 132.6h0.99v1h-0.99zM251.3 133.6h0.99v1h-0.99zM265.21 133.6h0.99v1h-0.99zM286.07 133.6h0.99v1h-0.99zM237.39 134.6h0.99v1h-0.99zM247.33 134.6h0.99v1h-0.99zM251.3 134.6h0.99v1h-0.99zM286.07 134.6h0.99v1h-0.99zM247.33 135.6h0.99v1h-0.99zM286.07 135.6h0.99v1h-0.99zM256.27 136.6h0.99v1h-0.99zM265.21 136.6h0.99v1h-0.99zM286.07 136.6h0.99v1h-0.99zM243.35 137.6h0.99v1h-0.99zM286.07 137.6h0.99v1h-0.99zM257.26 138.6h0.99v1h-0.99zM269.18 138.6h0.99v1h-0.99zM286.07 138.6h0.99v1h-0.99zM286.07 139.6h0.99v1h-0.99zM269.18 140.6h0.99v1h-0.99zM286.07 140.6h0.99v1h-0.99zM286.07 141.6h0.99v1h-0.99zM256.27 142.6h0.99v1h-0.99zM286.07 142.6h0.99v1h-0.99zM247.33 143.6h0.99v1h-0.99zM252.3 143.6h0.99v1h-0.99zM265.21 143.6h0.99v1h-0.99zM286.07 143.6h0.99v1h-0.99zM252.3 144.6h0.99v1h-0.99zM286.07 144.6h0.99v1h-0.99zM286.07 145.6h0.99v1h-0.99zM286.07 146.6h0.99v1h-0.99zM247.33 147.6h0.99v1h-0.99zM286.07 147.6h0.99v1h-0.99zM247.33 148.6h0.99v1h-0.99zM286.07 148.6h0.99v1h-0.99zM237.39 149.6h0.99v1h-0.99zM247.33 149.6h0.99v1h-0.99zM286.07 149.6h0.99v1h-0.99zM286.07 150.6h0.99v1h-0.99zM256.27 151.6h0.99v1h-0.99zM286.07 151.6h0.99v1h-0.99zM248.32 152.6h0.99v1h-0.99zM262.23 152.6h0.99v1h-0.99zM286.07 152.6h0.99v1h-0.99zM252.3 153.6h0.99v1h-0.99zM286.07 153.6h0.99v1h-0.99zM252.3 154.6h0.99v1h-0.99zM256.27 154.6h0.99v1h-0.99zM286.07 154.6h0.99v1h-0.99zM243.35 155.6h0.99v1h-0.99zM248.32 155.6h0.99v1h-0.99zM286.07 155.6h0.99v1h-0.99zM238.39 156.6h0.99v1h-0.99zM248.32 156.6h0.99v1h-0.99zM265.21 156.6h0.99v1h-0.99zM286.07 156.6h0.99v1h-0.99zM265.21 157.6h0.99v1h-0.99zM286.07 157.6h0.99v1h-0.99zM252.3 158.6h0.99v1h-0.99zM286.07 158.6h0.99v1h-0.99zM286.07 159.6h0.99v1h-0.99z"/>
<path fill="#ccaa11" d="M237.39 105.6h0.99v1h-0.99zM262.23 115.6h0.99v1h-0.99zM262.23 117.6h0.99v1h-0.99zM260.24 118.6h0.99v1h-0.99zM237.39 119.6h0.99v1h-0.99zM247.33 122.6h0.99v1h-0.99zM237.39 129.6h0.99v1h-0.99zM251.3 135.6h0.99v1h-0.99zM251.3 144.6h0.99v1h-0.99zM260.24 144.6h0.99v1h-0.99zM260.24 146.6h0.99v1h-0.99zM260.24 147.6h0.99v1h-0.99zM260.24 149.6h0.99v1h-0.99zM240.37 156.6h0.99v1h-0.99zM240.37 157.6h0.99v1h-0.99zM260.24 157.6h0.99v1h-0.99z"/>
<path fill="#993344" d="M241.37 105.6h0.99v1h-0.99zM271.17 124.6h0.99v1h-0.99zM241.37 127.6h0.99v1h-0.99zM245.34 128.6h0.99v1h-0.99zM250.31 139.6h0.99v1h-0.99zM258.26 144.6h0.99v1h-0.99zM245.34 155.6h0.99v1h-0.99zM250.31 156.6h0.99v1h-0.99zM241.37 157.6h0.99v1h-0.99z"/>
<path fill="#889933" d="M251.3 105.6h0.99v1h-0.99zM251.3 117.6h0.99v1h-0.99z"/>
<path fill="#443377" d="M254.28 105.6h0.99v1h-0.99zM259.25 118.6h0.99v1h-0.99zM254.28 120.6h0.99v1h-0.99zM246.33 122.6h0.99v1h-0.99zM263.22 126.6h0.99v1h-0.99zM254.28 131.6h0.99v1h-0.99zM263.22 138.6h0.99v1h-0.99zM250.31 145.6h0.99v1h-0.99zM245.34 148.6h0.99v1h-0.99zM263.22 152.6h0.99v1h-0.99z"/>
<path fill="#997733" d="M258.26 105.6h0.99v1h-0.99zM245.34 106.6h0.99v1h-0.99zM251.3 107.6h0.99v1h-0.99zM258.26 112.6h0.99v1h-0.99zM258.26 113.6h0.99v1h-0.99zM264.22 120.6h0.99v1h-0.99zM251.3 125.6h0.99v1h-0.99zM264.22 129.6h0.99v1h-0.99zM255.28 131.6h0.99v1h-0.99zM242.36 136.6h0.99v1h-0.99zM255.28 138.6h0.99v1h-0.99zM251.3 142.6h0.99v1h-0.99zM255.28 142.6h0.99v1h-0.99zM255.28 144.6h0.99v1h-0.99zM255.28 147.6h0.99v1h-0.99zM264.22 148.6h0.99v1h-0.99zM262.23 150.6h0.99v1h-0.99zM264.22 150.6h0.99v1h-0.99zM251.3 151.6h0.99v1h-0.99zM264.22 151.6h0.99v1h-0.99zM251.3 154.6h0.99v1h-0.99zM258.26 154.6h0.99v1h-0.99zM251.3 157.6h0.99v1h-0.99zM264.22 157.6h0.99v1h-0.99zM240.37 159.6h0.99v1h-0.99z"/>
<path fill="#bbaa11" d="M260.24 105.6h0.99v1h-0.99z"/>
<path fill="#883355" d="M271.17 105.6h0.99v1h-0.99zM271.17 106.6h0.99v1h-0.99zM263.22 127.6h0.99v1h-0.99zM241.37 130.6h0.99v1h-0.99zM271.17 156.6h0.99v1h-0.99z"/>
<path fill="#884444" d="M255.28 106.6h0.99v1h-0.99zM268.19 112.6h0.99v1h-0.99zM242.36 120.6h0.99v1h-0.99zM241.37 124.6h0.99v1h-0.99zM236.4 146.6h0.99v1h-0.99zM236.4 150.6h0.99v1h-0.99zM246.33 155.6h0.99v1h-0.99z"/>
<path fill="#775544" d="M268.19 106.6h0.99v1h-0.99z"/>
<path fill="#cc4422" d="M245.34 107.6h0.99v1h-0.99zM242.36 131.6h0.99v1h-0.99z"/>
<path fill="#aa8822" d="M258.26 107.6h0.99v1h-0.99zM251.3 121.6h0.99v1h-0.99zM264.22 126.6h0.99v1h-0.99zM242.36 158.6h0.99v1h-0.99z"/>
<path fill="#ddbb11" d="M261.24 107.6h0.99v1h-0.99zM248.32 109.6h0.99v1h-0.99zM266.2 120.6h0.99v1h-0.99zM243.35 122.6h0.99v1h-0.99zM238.39 124.6h0.99v1h-0.99zM239.38 127.6h0.99v1h-0.99zM243.35 141.6h0.99v1h-0.99zM265.21 145.6h0.99v1h-0.99zM265.21 147.6h0.99v1h-0.99z"/>
<path fill="#aa3344" d="M271.17 107.6h0.99v1h-0.99zM241.37 109.6h0.99v1h-0.99zM271.17 157.6h0.99v1h-0.99z"/>
<path fill="#aa4433" d="M245.34 108.6h0.99v1h-0.99zM264.22 114.6h0.99v1h-0.99zM260.24 116.6h0.99v1h-0.99zM258.26 117.6h0.99v1h-0.99zM258.26 127.6h0.99v1h-0.99zM242.36 129.6h0.99v1h-0.99zM242.36 130.6h0.99v1h-0.99zM258.26 135.6h0.99v1h-0.99zM249.31 136.6h0.99v1h-0.99zM258.26 139.6h0.99v1h-0.99zM240.37 144.6h0.99v1h-0.99zM255.28 146.6h0.99v1h-0.99zM236.4 151.6h0.99v1h-0.99zM264.22 152.6h0.99v1h-0.99z"/>
<path fill="#776644" d="M242.36 109.6h0.99v1h-0.99zM242.36 126.6h0.99v1h-0.99zM246.33 138.6h0.99v1h-0.99zM272.16 138.6h0.99v1h-0.99z"/>
<path fill="#dd7711" d="M265.21 109.6h0.99v1h-0.99zM257.26 110.6h0.99v1h-0.99zM247.33 112.6h0.99v1h-0.99zM252.3 112.6h0.99v1h-0.99zM269.18 112.6h0.99v1h-0.99zM239.38 113.6h0.99v1h-0.99zM239.38 115.6h0.99v1h-0.99zM239.38 116.6h0.99v1h-0.99zM253.29 117.6h0.99v1h-0.99zM238.39 118.6h0.99v1h-0.99zM247.33 118.6h0.99v1h-0.99zM252.3 120.6h0.99v1h-0.99zM238.39 123.6h0.99v1h-0.99zM243.35 123.6h0.99v1h-0.99zM247.33 124.6h0.99v1h-0.99zM265.21 124.6h0.99v1h-0.99zM270.18 124.6h0.99v1h-0.99zM253.29 126.6h0.99v1h-0.99zM265.21 126.6h0.99v1h-0.99zM252.3 127.6h0.99v1h-0.99zM256.27 128.6h0.99v1h-0.99zM243.35 129.6h0.99v1h-0.99zM237.39 130.6h0.99v1h-0.99zM239.38 131.6h0.99v1h-0.99zM269.18 131.6h0.99v1h-0.99zM239.38 132.6h0.99v1h-0.99zM260.24 133.6h0.99v1h-0.99zM265.21 134.6h0.99v1h-0.99zM269.18 137.6h0.99v1h-0.99zM253.29 140.6h0.99v1h-0.99zM260.24 142.6h0.99v1h-0.99zM237.39 143.6h0.99v1h-0.99zM261.24 145.6h0.99v1h-0.99zM237.39 146.6h0.99v1h-0.99zM251.3 146.6h0.99v1h-0.99zM265.21 146.6h0.99v1h-0.99zM237.39 148.6h0.99v1h-0.99zM247.33 151.6h0.99v1h-0.99zM253.29 153.6h0.99v1h-0.99zM239.38 154.6h0.99v1h-0.99zM262.23 154.6h0.99v1h-0.99zM238.39 155.6h1.99v1h-1.99zM256.27 155.6h0.99v1h-0.99zM265.21 155.6h0.99v1h-0.99zM251.3 156.6h0.99v1h-0.99zM260.24 156.6h0.99v1h-0.99zM252.3 157.6h0.99v1h-0.99zM265.21 158.6h0.99v1h-0.99zM269.18 159.6h0.99v1h-0.99z"/>
<path fill="#885544" d="M241.37 110.6h0.99v1h-0.99zM242.36 128.6h0.99v1h-0.99zM236.4 149.6h0.99v1h-0.99zM236.4 159.6h0.99v1h-0.99zM246.33 159.6h0.99v1h-0.99z"/>
<path fill="#553366" d="M250.31 110.6h0.99v1h-0.99zM254.28 111.6h0.99v1h-0.99zM259.25 114.6h0.99v1h-0.99zM250.31 122.6h0.99v1h-0.99zM236.4 123.6h0.99v1h-0.99zM250.31 123.6h0.99v1h-0.99zM246.33 125.6h0.99v1h-0.99zM254.28 129.6h0.99v1h-0.99zM241.37 131.6h0.99v1h-0.99zM250.31 132.6h0.99v1h-0.99zM241.37 135.6h0.99v1h-0.99zM245.34 144.6h0.99v1h-0.99zM245.34 145.6h0.99v1h-0.99zM259.25 151.6h0.99v1h-0.99zM241.37 152.6h0.99v1h-0.99z"/>
<path fill="#bb7722" d="M251.3 110.6h0.99v1h-0.99zM242.36 159.6h0.99v1h-0.99z"/>
<path fill="#555566" d="M255.28 110.6h0.99v1h-0.99zM241.37 113.6h0.99v1h-0.99zM251.3 113.6h0.99v1h-0.99zM251.3 114.6h0.99v1h-0.99zM255.28 118.6h0.99v1h-0.99zM255.28 119.6h0.99v1h-0.99zM268.19 121.6h0.99v1h-0.99zM255.28 122.6h0.99v1h-0.99zM255.28 126.6h0.99v1h-0.99zM246.33 131.6h0.99v1h-0.99zM271.17 131.6h0.99v1h-0.99zM236.4 134.6h0.99v1h-0.99zM236.4 135.6h0.99v1h-0.99zM267.2 136.6h0.99v1h-0.99zM245.34 153.6h0.99v1h-0.99zM246.33 156.6h0.99v1h-0.99z"/>
<path fill="#996633" d="M264.22 110.6h0.99v1h-0.99zM264.22 113.6h0.99v1h-0.99zM264.22 117.6h0.99v1h-0.99zM245.34 119.6h0.99v1h-0.99zM251.3 119.6h0.99v1h-0.99zM258.26 126.6h0.99v1h-0.99zM258.26 128.6h0.99v1h-0.99zM242.36 143.6h0.99v1h-0.99zM255.28 145.6h0.99v1h-0.99zM262.23 148.6h0.99v1h-0.99zM242.36 150.6h0.99v1h-0.99zM242.36 151.6h0.99v1h-0.99zM255.28 151.6h0.99v1h-0.99zM242.36 153.6h0.99v1h-0.99zM251.3 153.6h0.99v1h-0.99zM242.36 154.6h0.99v1h-0.99zM236.4 155.6h0.99v1h-0.99zM258.26 158.6h0.99v1h-0.99zM264.22 158.6h0.99v1h-0.99z"/>
<path fill="#bbcc11" d="M237.39 111.6h0.99v1h-0.99zM251.3 143.6h0.99v1h-0.99z"/>
<path fill="#666655" d="M241.37 111.6h0.99v1h-0.99zM241.37 112.6h1.99v1h-1.99zM242.36 125.6h0.99v1h-0.99zM268.19 132.6h0.99v1h-0.99zM272.16 156.6h0.99v1h-0.99z"/>
<path fill="#773355" d="M250.31 111.6h0.99v1h-0.99zM259.25 111.6h0.99v1h-0.99zM254.28 115.6h0.99v1h-0.99zM241.37 116.6h0.99v1h-0.99zM250.31 121.6h0.99v1h-0.99zM241.37 123.6h0.99v1h-0.99zM271.17 123.6h0.99v1h-0.99zM267.2 125.6h0.99v1h-0.99zM255.28 127.6h0.99v1h-0.99zM263.22 131.6h0.99v1h-0.99zM254.28 132.6h0.99v1h-0.99zM245.34 135.6h0.99v1h-0.99zM271.17 136.6h0.99v1h-0.99zM271.17 138.6h0.99v1h-0.99zM271.17 145.6h0.99v1h-0.99zM258.26 148.6h0.99v1h-0.99zM271.17 148.6h0.99v1h-0.99zM271.17 149.6h0.99v1h-0.99zM245.34 150.6h0.99v1h-0.99zM271.17 150.6h0.99v1h-0.99zM254.28 151.6h0.99v1h-0.99zM241.37 156.6h0.99v1h-0.99zM241.37 158.6h0.99v1h-0.99zM267.2 159.6h0.99v1h-0.99z"/>
<path fill="#cc5522" d="M251.3 111.6h0.99v1h-0.99zM260.24 114.6h0.99v1h-0.99zM237.39 117.6h0.99v1h-0.99z"/>
<path fill="#bb9911" d="M260.24 111.6h0.99v1h-0.99z"/>
<path fill="#777755" d="M251.3 112.6h0.99v1h-0.99z"/>
<path fill="#aa7733" d="M237.39 113.6h0.99v1h-0.99zM251.3 139.6h0.99v1h-0.99z"/>
<path fill="#bb3333" d="M245.34 113.6h0.99v1h-0.99zM245.34 118.6h0.99v1h-0.99zM242.36 121.6h0.99v1h-0.99zM245.34 127.6h0.99v1h-0.99zM249.31 130.6h0.99v1h-0.99zM262.23 131.6h0.99v1h-0.99zM262.23 133.6h0.99v1h-0.99zM253.29 134.6h0.99v1h-0.99zM262.23 136.6h0.99v1h-0.99zM249.31 138.6h0.99v1h-0.99zM249.31 141.6h0.99v1h-0.99zM253.29 144.6h0.99v1h-0.99zM262.23 147.6h0.99v1h-0.99z"/>
<path fill="#775555" d="M255.28 115.6h0.99v1h-0.99z"/>
<path fill="#aa5533" d="M260.24 115.6h0.99v1h-0.99zM258.26 131.6h0.99v1h-0.99zM258.26 133.6h0.99v1h-0.99zM262.23 134.6h0.99v1h-0.99zM242.36 142.6h0.99v1h-0.99zM240.37 147.6h0.99v1h-0.99zM253.29 148.6h0.99v1h-0.99zM249.31 150.6h0.99v1h-0.99zM249.31 151.6h0.99v1h-0.99zM258.26 153.6h0.99v1h-0.99zM262.23 156.6h0.99v1h-0.99zM258.26 159.6h0.99v1h-0.99z"/>
<path fill="#665566" d="M242.36 117.6h0.99v1h-0.99z"/>
<path fill="#664466" d="M268.19 117.6h0.99v1h-0.99zM241.37 122.6h0.99v1h-0.99zM267.2 140.6h0.99v1h-0.99z"/>
<path fill="#665555" d="M242.36 118.6h0.99v1h-0.99zM242.36 119.6h0.99v1h-0.99zM242.36 122.6h0.99v1h-0.99zM242.36 123.6h0.99v1h-0.99z"/>
<path fill="#443366" d="M246.33 120.6h0.99v1h-0.99zM246.33 124.6h0.99v1h-0.99z"/>
<path fill="#aa9922" d="M251.3 122.6h0.99v1h-0.99zM251.3 123.6h0.99v1h-0.99zM264.22 127.6h0.99v1h-0.99zM251.3 131.6h0.99v1h-0.99zM242.36 135.6h0.99v1h-0.99zM251.3 137.6h0.99v1h-0.99zM262.23 151.6h0.99v1h-0.99z"/>
<path fill="#663355" d="M254.28 123.6h0.99v1h-0.99zM241.37 126.6h0.99v1h-0.99zM245.34 137.6h0.99v1h-0.99zM268.19 150.6h0.99v1h-0.99z"/>
<path fill="#bb4422" d="M242.36 124.6h0.99v1h-0.99z"/>
<path fill="#995533" d="M251.3 124.6h0.99v1h-0.99zM242.36 140.6h0.99v1h-0.99zM255.28 153.6h0.99v1h-0.99z"/>
<path fill="#bb5533" d="M251.3 126.6h0.99v1h-0.99zM242.36 133.6h0.99v1h-0.99zM264.22 136.6h0.99v1h-0.99z"/>
<path fill="#ee7711" d="M257.26 126.6h0.99v1h-0.99z"/>
<path fill="#bb4433" d="M251.3 127.6h0.99v1h-0.99zM258.26 132.6h0.99v1h-0.99zM240.37 143.6h0.99v1h-0.99zM249.31 157.6h0.99v1h-0.99z"/>
<path fill="#aa7722" d="M251.3 128.6h0.99v1h-0.99z"/>
<path fill="#333388" d="M241.37 129.6h0.99v1h-0.99zM263.22 135.6h0.99v1h-0.99zM241.37 143.6h0.99v1h-0.99z"/>
<path fill="#aa6633" d="M258.26 129.6h0.99v1h-0.99zM258.26 130.6h0.99v1h-0.99z"/>
<path fill="#445566" d="M236.4 130.6h0.99v1h-0.99z"/>
<path fill="#dd3322" d="M240.37 132.6h0.99v1h-0.99zM240.37 133.6h0.99v1h-0.99zM262.23 137.6h0.99v1h-0.99zM262.23 138.6h0.99v1h-0.99zM249.31 139.6h0.99v1h-0.99zM240.37 149.6h0.99v1h-0.99z"/>
<path fill="#cc3333" d="M240.37 134.6h0.99v1h-0.99zM240.37 135.6h0.99v1h-0.99zM245.34 136.6h0.99v1h-0.99zM249.31 145.6h0.99v1h-0.99z"/>
<path fill="#cc3322" d="M249.31 137.6h0.99v1h-0.99zM258.26 142.6h0.99v1h-0.99z"/>
<path fill="#dd4411" d="M251.3 138.6h0.99v1h-0.99z"/>
<path fill="#bbbb22" d="M242.36 144.6h0.99v1h-0.99zM251.3 158.6h0.99v1h-0.99z"/>
<path fill="#886644" d="M236.4 145.6h0.99v1h-0.99zM246.33 145.6h0.99v1h-0.99zM272.16 149.6h0.99v1h-0.99zM272.16 150.6h0.99v1h-0.99zM236.4 154.6h0.99v1h-0.99zM246.33 154.6h0.99v1h-0.99zM272.16 157.6h0.99v1h-0.99z"/>
<path fill="#aa9933" d="M264.22 145.6h0.99v1h-0.99z"/>
<path fill="#995544" d="M246.33 147.6h0.99v1h-0.99z"/>
<path fill="#bb6633" d="M236.4 148.6h0.99v1h-0.99z"/>
<path fill="#bbbb11" d="M242.36 148.6h0.99v1h-0.99z"/>
<path fill="#cc6622" d="M262.23 149.6h0.99v1h-0.99z"/>
<rect x="176.1" y="106.3" width="6.7" height="4.2" rx="0.4" fill="#f7f5f5" stroke="#c8c0c0" stroke-width="0.3"/>
<path d="M177.2 108.4h1.6" stroke="#e8a0a0" stroke-width="0.6"/>
<text x="180.9" y="109.4" font-size="2.8" fill="#444" stroke="#444" stroke-width="0.15" text-anchor="middle" >a</text>
<rect x="289.6" y="106.4" width="6.2" height="4.1" rx="0.4" fill="#f7f5f5" stroke="#c8c0c0" stroke-width="0.3"/>
<path d="M290.6 108.4h1.6" stroke="#e8a0a0" stroke-width="0.6"/>
<text x="294.2" y="109.5" font-size="2.8" fill="#444" stroke="#444" stroke-width="0.15" text-anchor="middle" >b</text>
<text x="122.5" y="116.85" font-size="3.1" fill="#333" stroke="#333" stroke-width="0.12" text-anchor="end" >20</text>
<text x="122.5" y="127.95" font-size="3.1" fill="#333" stroke="#333" stroke-width="0.12" text-anchor="end" >15</text>
<text x="122.5" y="138.95" font-size="3.1" fill="#333" stroke="#333" stroke-width="0.12" text-anchor="end" >10</text>
<text x="122.5" y="150.05" font-size="3.1" fill="#333" stroke="#333" stroke-width="0.12" text-anchor="end" >5</text>
<text x="133.9" y="164.5" font-size="3.1" fill="#333" stroke="#333" stroke-width="0.12" text-anchor="middle" >5</text>
<text x="144.6" y="164.5" font-size="3.1" fill="#333" stroke="#333" stroke-width="0.12" text-anchor="middle" >10</text>
<text x="154.9" y="164.5" font-size="3.1" fill="#333" stroke="#333" stroke-width="0.12" text-anchor="middle" >15</text>
<text x="165.5" y="164.5" font-size="3.1" fill="#333" stroke="#333" stroke-width="0.12" text-anchor="middle" >20</text>
<text x="175.7" y="164.5" font-size="3.1" fill="#333" stroke="#333" stroke-width="0.12" text-anchor="middle" >25</text>
<text x="159.6" y="168.3" font-size="4.6" font-weight="bold" fill="#2336c8" text-anchor="middle">x</text>
<text x="114.6" y="133.7" font-size="4.6" font-weight="bold" fill="#2336c8" text-anchor="middle" transform="rotate(-90 114.6 132.2)">y</text>
<text x="235" y="116.85" font-size="3.1" fill="#333" stroke="#333" stroke-width="0.12" text-anchor="end" >20</text>
<text x="235" y="127.95" font-size="3.1" fill="#333" stroke="#333" stroke-width="0.12" text-anchor="end" >15</text>
<text x="235" y="138.95" font-size="3.1" fill="#333" stroke="#333" stroke-width="0.12" text-anchor="end" >10</text>
<text x="235" y="150.05" font-size="3.1" fill="#333" stroke="#333" stroke-width="0.12" text-anchor="end" >5</text>
<text x="246.4" y="164.5" font-size="3.1" fill="#333" stroke="#333" stroke-width="0.12" text-anchor="middle" >5</text>
<text x="257.1" y="164.5" font-size="3.1" fill="#333" stroke="#333" stroke-width="0.12" text-anchor="middle" >10</text>
<text x="267.4" y="164.5" font-size="3.1" fill="#333" stroke="#333" stroke-width="0.12" text-anchor="middle" >15</text>
<text x="278" y="164.5" font-size="3.1" fill="#333" stroke="#333" stroke-width="0.12" text-anchor="middle" >20</text>
<text x="288.2" y="164.5" font-size="3.1" fill="#333" stroke="#333" stroke-width="0.12" text-anchor="middle" >25</text>
<text x="272.1" y="168.3" font-size="4.6" font-weight="bold" fill="#2336c8" text-anchor="middle">x</text>
<text x="227.1" y="133.7" font-size="4.6" font-weight="bold" fill="#2336c8" text-anchor="middle" transform="rotate(-90 227.1 132.2)">y</text>
<defs><linearGradient id="cv" x1="0" y1="0" x2="0" y2="1"><stop offset="0.000" stop-color="#fee838"/><stop offset="0.111" stop-color="#e1cc55"/><stop offset="0.222" stop-color="#c3b369"/><stop offset="0.333" stop-color="#a59c74"/><stop offset="0.444" stop-color="#8a8779"/><stop offset="0.556" stop-color="#707173"/><stop offset="0.667" stop-color="#575d6d"/><stop offset="0.778" stop-color="#3b496c"/><stop offset="0.889" stop-color="#123570"/><stop offset="1.000" stop-color="#00224e"/></linearGradient><linearGradient id="rd" x1="0" y1="0" x2="0" y2="1"><stop offset="0.000" stop-color="#67000d"/><stop offset="0.125" stop-color="#a50f15"/><stop offset="0.250" stop-color="#cb181d"/><stop offset="0.375" stop-color="#ef3b2c"/><stop offset="0.500" stop-color="#fb6a4a"/><stop offset="0.625" stop-color="#fc9272"/><stop offset="0.750" stop-color="#fcbba1"/><stop offset="0.875" stop-color="#fee0d2"/><stop offset="1.000" stop-color="#fff5f0"/></linearGradient></defs>
<rect x="188.0" y="104.3" width="2.8" height="56.1" fill="url(#cv)"/>
<text x="192.3" y="105.4" font-size="2.7" fill="#333" stroke="#333" stroke-width="0.12" text-anchor="start" >1.00</text>
<text x="192.3" y="119.42" font-size="2.7" fill="#333" stroke="#333" stroke-width="0.12" text-anchor="start" >0.75</text>
<text x="192.3" y="133.44" font-size="2.7" fill="#333" stroke="#333" stroke-width="0.12" text-anchor="start" >0.50</text>
<text x="192.3" y="147.46" font-size="2.7" fill="#333" stroke="#333" stroke-width="0.12" text-anchor="start" >0.25</text>
<text x="192.3" y="161.48" font-size="2.7" fill="#333" stroke="#333" stroke-width="0.12" text-anchor="start" >0.00</text>
<path d="M190.8 104.3h0.8M190.8 118.3h0.8M190.8 132.3h0.8M190.8 146.4h0.8M190.8 160.4h0.8" stroke="#555" stroke-width="0.3"/>
<rect x="203.7" y="104.3" width="2.8" height="56.1" fill="url(#rd)"/>
<text x="208" y="105.4" font-size="2.7" fill="#333" stroke="#333" stroke-width="0.12" text-anchor="start" >1.00</text>
<text x="208" y="119.42" font-size="2.7" fill="#333" stroke="#333" stroke-width="0.12" text-anchor="start" >0.75</text>
<text x="208" y="133.44" font-size="2.7" fill="#333" stroke="#333" stroke-width="0.12" text-anchor="start" >0.50</text>
<text x="208" y="147.46" font-size="2.7" fill="#333" stroke="#333" stroke-width="0.12" text-anchor="start" >0.25</text>
<text x="208" y="161.48" font-size="2.7" fill="#333" stroke="#333" stroke-width="0.12" text-anchor="start" >0.00</text>
<path d="M206.5 104.3h0.8M206.5 118.3h0.8M206.5 132.3h0.8M206.5 146.4h0.8M206.5 160.4h0.8" stroke="#555" stroke-width="0.3"/>
<rect x="301.0" y="104.3" width="2.8" height="56.1" fill="url(#cv)"/>
<text x="305.3" y="105.4" font-size="2.7" fill="#333" stroke="#333" stroke-width="0.12" text-anchor="start" >1.00</text>
<text x="305.3" y="119.42" font-size="2.7" fill="#333" stroke="#333" stroke-width="0.12" text-anchor="start" >0.75</text>
<text x="305.3" y="133.44" font-size="2.7" fill="#333" stroke="#333" stroke-width="0.12" text-anchor="start" >0.50</text>
<text x="305.3" y="147.46" font-size="2.7" fill="#333" stroke="#333" stroke-width="0.12" text-anchor="start" >0.25</text>
<text x="305.3" y="161.48" font-size="2.7" fill="#333" stroke="#333" stroke-width="0.12" text-anchor="start" >0.00</text>
<path d="M303.8 104.3h0.8M303.8 118.3h0.8M303.8 132.3h0.8M303.8 146.4h0.8M303.8 160.4h0.8" stroke="#555" stroke-width="0.3"/>
<rect x="316.9" y="104.3" width="2.8" height="56.1" fill="url(#rd)"/>
<text x="321.2" y="105.4" font-size="2.7" fill="#333" stroke="#333" stroke-width="0.12" text-anchor="start" >1.00</text>
<text x="321.2" y="119.42" font-size="2.7" fill="#333" stroke="#333" stroke-width="0.12" text-anchor="start" >0.75</text>
<text x="321.2" y="133.44" font-size="2.7" fill="#333" stroke="#333" stroke-width="0.12" text-anchor="start" >0.50</text>
<text x="321.2" y="147.46" font-size="2.7" fill="#333" stroke="#333" stroke-width="0.12" text-anchor="start" >0.25</text>
<text x="321.2" y="161.48" font-size="2.7" fill="#333" stroke="#333" stroke-width="0.12" text-anchor="start" >0.00</text>
<path d="M319.7 104.3h0.8M319.7 118.3h0.8M319.7 132.3h0.8M319.7 146.4h0.8M319.7 160.4h0.8" stroke="#555" stroke-width="0.3"/>
<text x="201.9" y="134.5" font-size="2.6" fill="#444" stroke="#444" stroke-width="0.08" text-anchor="middle" textLength="25.5" lengthAdjust="spacingAndGlyphs" transform="rotate(-90 201.9 134.5)">small particle density</text>
<text x="218.2" y="132.8" font-size="2.6" fill="#444" stroke="#444" stroke-width="0.08" text-anchor="middle" textLength="20.5" lengthAdjust="spacingAndGlyphs" transform="rotate(-90 218.2 132.8)">big particle density</text>
<text x="314.6" y="134.5" font-size="2.6" fill="#444" stroke="#444" stroke-width="0.08" text-anchor="middle" textLength="25.5" lengthAdjust="spacingAndGlyphs" transform="rotate(-90 314.6 134.5)">small particle density</text>
<text x="330.9" y="132.8" font-size="2.6" fill="#444" stroke="#444" stroke-width="0.08" text-anchor="middle" textLength="20.5" lengthAdjust="spacingAndGlyphs" transform="rotate(-90 330.9 132.8)">big particle density</text>
<rect x="128.6" y="170.4" width="72.6" height="60.9" fill="#fff" stroke="#666" stroke-width="0.45"/>
<path d="M128.6 170.4V231.3H201.2" stroke="#333" stroke-width="0.65" fill="none"/>
<path d="M128.6 170.4H201.2" stroke="#aaa" stroke-width="0.9"/>
<text x="127.6" y="172.2" font-size="2.7" fill="#444" stroke="#444" stroke-width="0.12" text-anchor="end" >0.7</text>
<text x="127.6" y="180.77" font-size="2.7" fill="#444" stroke="#444" stroke-width="0.12" text-anchor="end" >0.6</text>
<text x="127.6" y="189.34" font-size="2.7" fill="#444" stroke="#444" stroke-width="0.12" text-anchor="end" >0.5</text>
<text x="127.6" y="197.91" font-size="2.7" fill="#444" stroke="#444" stroke-width="0.12" text-anchor="end" >0.4</text>
<text x="127.6" y="206.48" font-size="2.7" fill="#444" stroke="#444" stroke-width="0.12" text-anchor="end" >0.3</text>
<text x="127.6" y="215.05" font-size="2.7" fill="#444" stroke="#444" stroke-width="0.12" text-anchor="end" >0.2</text>
<text x="127.6" y="223.62" font-size="2.7" fill="#444" stroke="#444" stroke-width="0.12" text-anchor="end" >0.1</text>
<text x="127.6" y="232.19" font-size="2.7" fill="#444" stroke="#444" stroke-width="0.12" text-anchor="end" >0</text>
<text x="129.6" y="236.4" font-size="2.7" fill="#444" stroke="#444" stroke-width="0.12" text-anchor="middle" >0</text>
<text x="141.5" y="236.4" font-size="2.7" fill="#444" stroke="#444" stroke-width="0.12" text-anchor="middle" >2</text>
<text x="153.4" y="236.4" font-size="2.7" fill="#444" stroke="#444" stroke-width="0.12" text-anchor="middle" >4</text>
<text x="165.3" y="236.4" font-size="2.7" fill="#444" stroke="#444" stroke-width="0.12" text-anchor="middle" >6</text>
<text x="177.2" y="236.4" font-size="2.7" fill="#444" stroke="#444" stroke-width="0.12" text-anchor="middle" >8</text>
<text x="189.1" y="236.4" font-size="2.7" fill="#444" stroke="#444" stroke-width="0.12" text-anchor="middle" >10</text>
<text x="201" y="236.4" font-size="2.7" fill="#444" stroke="#444" stroke-width="0.12" text-anchor="middle" >12</text>
<text x="165.5" y="240.0" font-size="3.3" fill="#222" stroke="#222" stroke-width="0.15" text-anchor="middle">βε<tspan font-size="2.2" dy="0.5">c</tspan></text>
<text x="122.2" y="200.6" font-size="3.2" fill="#333" stroke="#333" stroke-width="0.1" text-anchor="middle" transform="rotate(-90 122.2 199.6)">&lt;ψ<tspan font-size="2.2" dy="0.6">6</tspan><tspan dy="-0.6">&gt;</tspan></text>
<text x="133.8" y="175.9" font-size="3.3" fill="#222" stroke="#222" stroke-width="0.12" text-anchor="start" font-weight="bold">(b)</text>
<path d="M128.6 173.6L159.0 207.6M150.0 215.0L194.8 228.2M153.2 203.0V215.5" stroke="#444" stroke-width="0.4" fill="none"/>
<circle cx="135.3" cy="185.1" r="1.05" fill="#bbb" stroke="#333" stroke-width="0.4"/>
<circle cx="141.7" cy="188.3" r="1.05" fill="#bbb" stroke="#333" stroke-width="0.4"/>
<circle cx="147.2" cy="192.3" r="1.05" fill="#bbb" stroke="#333" stroke-width="0.4"/>
<circle cx="153.2" cy="203.0" r="1.05" fill="#bbb" stroke="#333" stroke-width="0.4"/>
<circle cx="159.3" cy="217.3" r="1.05" fill="#bbb" stroke="#333" stroke-width="0.4"/>
<circle cx="188.9" cy="225.8" r="1.05" fill="#bbb" stroke="#333" stroke-width="0.4"/>
<rect x="128.7" y="173.8" width="1.6" height="1.5" fill="#555"/>
<circle cx="153.2" cy="215.5" r="0.7" fill="#222"/>
<circle cx="171.0" cy="221.8" r="0.9" fill="#444"/>
<circle cx="176.8" cy="223.9" r="0.9" fill="#444"/>
<text x="149.6" y="210.4" font-size="3" font-weight="bold" fill="#222" text-anchor="middle">A</text>
<text x="153.9" y="201.4" font-size="2.4" fill="#333" text-anchor="middle">P</text>
<rect x="164.0" y="171.5" width="34.6" height="28.7" fill="#fff" stroke="#999" stroke-width="0.8"/>
<text x="163.2" y="173.25" font-size="2.4" fill="#444" stroke="#444" stroke-width="0.12" text-anchor="end" >0.25</text>
<text x="163.2" y="180.15" font-size="2.4" fill="#444" stroke="#444" stroke-width="0.12" text-anchor="end" >0.20</text>
<text x="163.2" y="187.45" font-size="2.4" fill="#444" stroke="#444" stroke-width="0.12" text-anchor="end" >0.15</text>
<text x="163.2" y="194.35" font-size="2.4" fill="#444" stroke="#444" stroke-width="0.12" text-anchor="end" >0.10</text>
<text x="163.2" y="200.95" font-size="2.4" fill="#444" stroke="#444" stroke-width="0.12" text-anchor="end" >0.05</text>
<text x="164.8" y="203.4" font-size="2.0" fill="#444" stroke="#444" stroke-width="0.12" text-anchor="middle" >0</text>
<text x="172.3" y="203.4" font-size="2.0" fill="#444" stroke="#444" stroke-width="0.12" text-anchor="middle" >1e-07</text>
<text x="179.9" y="203.4" font-size="2.0" fill="#444" stroke="#444" stroke-width="0.12" text-anchor="middle" >2e-07</text>
<text x="187.4" y="203.4" font-size="2.0" fill="#444" stroke="#444" stroke-width="0.12" text-anchor="middle" >3e-07</text>
<text x="195" y="203.4" font-size="2.0" fill="#444" stroke="#444" stroke-width="0.12" text-anchor="middle" >4e-07</text>
<text x="182" y="206.4" font-size="2.6" fill="#333" stroke="#333" stroke-width="0.12" text-anchor="middle" >h</text>
<path d="M164.8 192.4L198.0 177.4" stroke="#555" stroke-width="0.35"/>
<rect x="165.0" y="194.5" width="1.3" height="1.2" fill="#333"/>
<rect x="171.7" y="186.3" width="1.2" height="1.2" fill="#333"/>
<rect x="195.3" y="177.6" width="1.5" height="1.4" fill="#222"/>
<path d="M155.3 186.4l1.8-0.7v1.4z" fill="#222"/>
<rect x="252.5" y="170.4" width="76.5" height="63.8" fill="#fff" stroke="#666" stroke-width="0.45"/>
<path d="M252.5 170.4V234.2H329.0" stroke="#333" stroke-width="0.7" fill="none"/>
<path d="M252.5 170.4H329.0" stroke="#aaa" stroke-width="0.9"/>
<text x="251.6" y="171.25" font-size="2.3" fill="#444" stroke="#444" stroke-width="0.12" text-anchor="end" textLength="9" lengthAdjust="spacingAndGlyphs">3.5×10<tspan dy="-0.7" font-size="1.6">-2</tspan></text>
<text x="251.6" y="180.32" font-size="2.3" fill="#444" stroke="#444" stroke-width="0.12" text-anchor="end" textLength="9" lengthAdjust="spacingAndGlyphs">3.0×10<tspan dy="-0.7" font-size="1.6">-2</tspan></text>
<text x="251.6" y="189.39" font-size="2.3" fill="#444" stroke="#444" stroke-width="0.12" text-anchor="end" textLength="9" lengthAdjust="spacingAndGlyphs">2.5×10<tspan dy="-0.7" font-size="1.6">-2</tspan></text>
<text x="251.6" y="198.46" font-size="2.3" fill="#444" stroke="#444" stroke-width="0.12" text-anchor="end" textLength="9" lengthAdjust="spacingAndGlyphs">2.0×10<tspan dy="-0.7" font-size="1.6">-2</tspan></text>
<text x="251.6" y="207.53" font-size="2.3" fill="#444" stroke="#444" stroke-width="0.12" text-anchor="end" textLength="9" lengthAdjust="spacingAndGlyphs">1.5×10<tspan dy="-0.7" font-size="1.6">-2</tspan></text>
<text x="251.6" y="216.6" font-size="2.3" fill="#444" stroke="#444" stroke-width="0.12" text-anchor="end" textLength="9" lengthAdjust="spacingAndGlyphs">1.0×10<tspan dy="-0.7" font-size="1.6">-2</tspan></text>
<text x="251.6" y="225.67" font-size="2.3" fill="#444" stroke="#444" stroke-width="0.12" text-anchor="end" textLength="9" lengthAdjust="spacingAndGlyphs">5.0×10<tspan dy="-0.7" font-size="1.6">-3</tspan></text>
<text x="251.6" y="234.74" font-size="2.3" fill="#444" stroke="#444" stroke-width="0.12" text-anchor="end" >0</text>
<text x="254.1" y="237.6" font-size="2.6" fill="#444" stroke="#444" stroke-width="0.12" text-anchor="middle" >0</text>
<text x="261.45" y="237.6" font-size="2.6" fill="#444" stroke="#444" stroke-width="0.12" text-anchor="middle" >1</text>
<text x="268.8" y="237.6" font-size="2.6" fill="#444" stroke="#444" stroke-width="0.12" text-anchor="middle" >2</text>
<text x="276.15" y="237.6" font-size="2.6" fill="#444" stroke="#444" stroke-width="0.12" text-anchor="middle" >3</text>
<text x="283.5" y="237.6" font-size="2.6" fill="#444" stroke="#444" stroke-width="0.12" text-anchor="middle" >4</text>
<text x="290.85" y="237.6" font-size="2.6" fill="#444" stroke="#444" stroke-width="0.12" text-anchor="middle" >5</text>
<text x="298.2" y="237.6" font-size="2.6" fill="#444" stroke="#444" stroke-width="0.12" text-anchor="middle" >6</text>
<text x="305.55" y="237.6" font-size="2.6" fill="#444" stroke="#444" stroke-width="0.12" text-anchor="middle" >7</text>
<text x="312.9" y="237.6" font-size="2.6" fill="#444" stroke="#444" stroke-width="0.12" text-anchor="middle" >8</text>
<text x="320.25" y="237.6" font-size="2.6" fill="#444" stroke="#444" stroke-width="0.12" text-anchor="middle" >9</text>
<text x="327.6" y="237.6" font-size="2.6" fill="#444" stroke="#444" stroke-width="0.12" text-anchor="middle" >10</text>
<text x="291.2" y="241.6" font-size="3.3" fill="#222" stroke="#222" stroke-width="0.15" text-anchor="middle">βε<tspan font-size="2.2" dy="0.5">c</tspan></text>
<text x="241.2" y="203.4" font-size="3.6" fill="#222" stroke="#222" stroke-width="0.12" text-anchor="middle" transform="rotate(-90 241.2 202.3)">C<tspan font-size="2.2" dy="0.6">v</tspan></text>
<text x="255.5" y="175.2" font-size="3.3" fill="#222" stroke="#222" stroke-width="0.12" text-anchor="start" font-weight="bold">(c)</text>
<path d="M253.6 224.4 261.2 221.6 268.7 218.4 275.9 210.0 283.4 205.8 290.9 179.8 298.1 215.8 305.5 222.8 312.8 225.4 319.9 225.7 327.6 224.2" stroke="#2a2a2a" stroke-width="0.5" fill="none"/>
<path d="M253.6 227.6 261.2 227.0 268.7 225.3 276.1 211.6 283.4 210.0 290.6 220.6 298.1 226.2 305.5 231.7 312.8 232.3 319.9 232.6 327.6 232.6" stroke="#2a2a2a" stroke-width="0.5" fill="none"/>
<path d="M253.6 233.1 258.0 232.7 262.0 232.3 265.2 230.0 269.0 228.0 272.6 229.6 275.9 228.6 280.2 222.1 283.4 221.2 290.2 226.6 298.1 229.7 305.5 232.3 312.8 232.9 319.9 233.0 327.6 233.0" stroke="#2a2a2a" stroke-width="0.5" fill="none"/>
<path d="M253.6 224.4h0M261.2 221.6h0M268.7 218.4h0M275.9 210.0h0M283.4 205.8h0M290.9 179.8h0M298.1 215.8h0M305.5 222.8h0M312.8 225.4h0M319.9 225.7h0M327.6 224.2h0M253.6 227.6h0M261.2 227.0h0M268.7 225.3h0M276.1 211.6h0M283.4 210.0h0M290.6 220.6h0M298.1 226.2h0M305.5 231.7h0M312.8 232.3h0M319.9 232.6h0M327.6 232.6h0M253.6 233.1h0M258.0 232.7h0M262.0 232.3h0M265.2 230.0h0M269.0 228.0h0M272.6 229.6h0M275.9 228.6h0M280.2 222.1h0M283.4 221.2h0M290.2 226.6h0M298.1 229.7h0M305.5 232.3h0M312.8 232.9h0M319.9 233.0h0M327.6 233.0h0" stroke="#222" stroke-width="1.6" stroke-linecap="round"/>
<path d="M275.9 205.6V214.4M274.9 205.6h2M274.9 214.4h2M290.9 176.6V184.4M289.9 176.6h2M289.9 184.4h2M298.1 212.2V219.4M297.1 212.2h2M297.1 219.4h2M283.4 202.6V208.8" stroke="#333" stroke-width="0.35" fill="none"/>
<rect x="299.2" y="170.7" width="29" height="21.8" fill="#fff" stroke="#999" stroke-width="0.8"/>
<text x="298.4" y="172.1" font-size="1.6" fill="#666" stroke="#666" stroke-width="0.12" text-anchor="end" >4</text>
<text x="298.4" y="177.3" font-size="1.6" fill="#666" stroke="#666" stroke-width="0.12" text-anchor="end" >3</text>
<text x="298.4" y="182.5" font-size="1.6" fill="#666" stroke="#666" stroke-width="0.12" text-anchor="end" >2</text>
<text x="298.4" y="187.7" font-size="1.6" fill="#666" stroke="#666" stroke-width="0.12" text-anchor="end" >1</text>
<text x="298.4" y="192.9" font-size="1.6" fill="#666" stroke="#666" stroke-width="0.12" text-anchor="end" >0</text>
<text x="299.8" y="195" font-size="1.7" fill="#666" stroke="#666" stroke-width="0.12" text-anchor="middle" >0</text>
<text x="306.9" y="195" font-size="1.7" fill="#666" stroke="#666" stroke-width="0.12" text-anchor="middle" >2</text>
<text x="314" y="195" font-size="1.7" fill="#666" stroke="#666" stroke-width="0.12" text-anchor="middle" >4</text>
<text x="321.1" y="195" font-size="1.7" fill="#666" stroke="#666" stroke-width="0.12" text-anchor="middle" >6</text>
<text x="328.2" y="195" font-size="1.7" fill="#666" stroke="#666" stroke-width="0.12" text-anchor="middle" >8</text>
<text x="313.6" y="197.8" font-size="1.8" fill="#555" stroke="#555" stroke-width="0.12" text-anchor="middle" >βε/N</text>
<text x="296.6" y="181.5" font-size="1.6" fill="#555" stroke="#555" stroke-width="0.12" text-anchor="middle" transform="rotate(-90 296.6 181.5)">C_max</text>
<path d="M299.9 190.7L326.3 174.4" stroke="#555" stroke-width="0.35"/>
<path d="M304.7 187.9h0M315.8 180.0h0M323.5 177.2h0" stroke="#222" stroke-width="1.5" stroke-linecap="round"/>
</svg>
</body></html>
